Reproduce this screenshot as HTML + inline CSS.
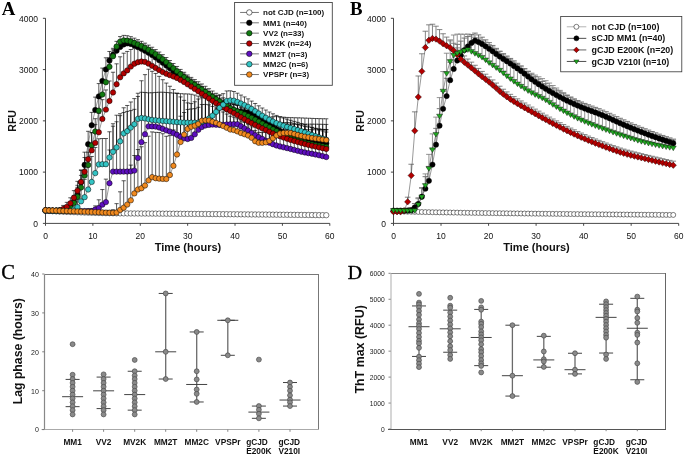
<!DOCTYPE html><html><head><meta charset="utf-8"><style>html,body{margin:0;padding:0;background:#fff;width:685px;height:456px;overflow:hidden;position:relative}</style></head><body>
<svg width="685" height="456" viewBox="0 0 685 456" style="position:absolute;left:0;top:0">
<rect width="685" height="456" fill="#fff"/>
<text x="1.8" y="15.3" font-family="'Liberation Serif', 'Times New Roman', serif" font-weight="bold" font-size="18.8">A</text>
<text x="350.1" y="15.3" font-family="'Liberation Serif', 'Times New Roman', serif" font-weight="bold" font-size="18.8">B</text>
<text x="1.2" y="279.0" font-family="'Liberation Serif', 'Times New Roman', serif" font-size="20.5" stroke="#000" stroke-width="0.35">C</text>
<text x="347.7" y="278.8" font-family="'Liberation Serif', 'Times New Roman', serif" font-size="19.8" stroke="#000" stroke-width="0.35">D</text>
<path d="M45.50 18.30V223.40H329.80" stroke="#333" stroke-width="0.9" fill="none"/>
<path d="M42.90 223.40H45.50M42.90 172.12H45.50M42.90 120.85H45.50M42.90 69.58H45.50M42.90 18.30H45.50M45.50 223.40V225.80M92.88 223.40V225.80M140.27 223.40V225.80M187.65 223.40V225.80M235.03 223.40V225.80M282.42 223.40V225.80M329.80 223.40V225.80" stroke="#333" stroke-width="0.9" fill="none"/>
<text x="37.90" y="226.70" text-anchor="end" font-family="'Liberation Sans', Arial, sans-serif" font-size="8.5" fill="#111">0</text>
<text x="37.90" y="175.43" text-anchor="end" font-family="'Liberation Sans', Arial, sans-serif" font-size="8.5" fill="#111">1000</text>
<text x="37.90" y="124.15" text-anchor="end" font-family="'Liberation Sans', Arial, sans-serif" font-size="8.5" fill="#111">2000</text>
<text x="37.90" y="72.88" text-anchor="end" font-family="'Liberation Sans', Arial, sans-serif" font-size="8.5" fill="#111">3000</text>
<text x="37.90" y="21.60" text-anchor="end" font-family="'Liberation Sans', Arial, sans-serif" font-size="8.5" fill="#111">4000</text>
<text x="45.50" y="238.6" text-anchor="middle" font-family="'Liberation Sans', Arial, sans-serif" font-size="8.5" fill="#111">0</text>
<text x="92.88" y="238.6" text-anchor="middle" font-family="'Liberation Sans', Arial, sans-serif" font-size="8.5" fill="#111">10</text>
<text x="140.27" y="238.6" text-anchor="middle" font-family="'Liberation Sans', Arial, sans-serif" font-size="8.5" fill="#111">20</text>
<text x="187.65" y="238.6" text-anchor="middle" font-family="'Liberation Sans', Arial, sans-serif" font-size="8.5" fill="#111">30</text>
<text x="235.03" y="238.6" text-anchor="middle" font-family="'Liberation Sans', Arial, sans-serif" font-size="8.5" fill="#111">40</text>
<text x="282.42" y="238.6" text-anchor="middle" font-family="'Liberation Sans', Arial, sans-serif" font-size="8.5" fill="#111">50</text>
<text x="329.80" y="238.6" text-anchor="middle" font-family="'Liberation Sans', Arial, sans-serif" font-size="8.5" fill="#111">60</text>
<text x="188.00" y="251.3" text-anchor="middle" font-family="'Liberation Sans', Arial, sans-serif" font-weight="bold" font-size="11" fill="#111">Time (hours)</text>
<text transform="translate(15.6,120.9) rotate(-90)" text-anchor="middle" font-family="'Liberation Sans', Arial, sans-serif" font-weight="bold" font-size="10.5" fill="#111">RFU</text>

<path d="M59.72 210.58V208.79M57.62 208.79H61.82M63.27 209.94V207.73M61.17 207.73H65.37M66.82 208.53V205.83M64.72 205.83H68.92M70.38 205.97V202.53M68.28 202.53H72.48M73.93 201.35V195.40M71.83 195.40H76.03M77.48 194.69V185.30M75.38 185.30H79.58M81.04 182.38V170.23M78.94 170.23H83.14M84.59 165.00V152.18M82.49 152.18H86.69M88.15 144.13V131.31M86.05 131.31H90.25M91.70 125.21V112.39M89.60 112.39H93.80M95.25 109.93V97.11M93.15 97.11H97.35M98.81 96.39V83.57M96.71 83.57H100.91M102.36 80.91V68.09M100.26 68.09H104.46M105.91 69.42V57.79M103.81 57.79H108.01M109.47 60.50V51.48M107.37 51.48H111.57M113.02 54.71V48.32M110.92 48.32H115.12M116.58 50.71V45.58M114.48 45.58H118.67M120.13 47.01V41.97M118.03 41.97H122.23M123.68 44.45V39.49M121.58 39.49H125.78M127.24 43.42V38.53M125.14 38.53H129.34M130.79 43.94V39.10M128.69 39.10H132.89M134.34 45.40V40.62M132.24 40.62H136.44M137.90 47.11V42.37M135.80 42.37H140.00M141.45 48.87V44.16M139.35 44.16H143.55M145.00 50.76V46.08M142.91 46.08H147.10M148.56 52.80V48.14M146.46 48.14H150.66M152.11 55.06V50.42M150.01 50.42H154.21M155.67 57.53V52.91M153.57 52.91H157.77M159.22 60.13V55.51M157.12 55.51H161.32M162.77 62.77V58.16M160.67 58.16H164.87M166.33 65.53V60.91M164.23 60.91H168.43M169.88 68.37V63.73M167.78 63.73H171.98M173.44 71.25V66.56M171.34 66.56H175.53M176.99 74.14V69.38M174.89 69.38H179.09M180.54 77.11V72.28M178.44 72.28H182.64M184.10 80.05V75.14M182.00 75.14H186.20M187.65 82.82V77.80M185.55 77.80H189.75M191.20 85.31V80.19M189.10 80.19H193.30M194.76 87.62V82.39M192.66 82.39H196.86M198.31 89.87V84.53M196.21 84.53H200.41M201.86 92.20V86.74M199.76 86.74H203.96M205.42 94.64V89.07M203.32 89.07H207.52M208.97 97.12V91.43M206.87 91.43H211.07M212.53 99.52V93.74M210.43 93.74H214.63M216.08 101.84V95.96M213.98 95.96H218.18M219.63 104.32V98.35M217.53 98.35H221.73M223.19 106.69V100.66M221.09 100.66H225.29M226.74 108.67V102.58M224.64 102.58H228.84M230.30 109.95V103.82M228.20 103.82H232.40M233.85 110.69V104.53M231.75 104.53H235.95M237.40 111.20V105.07M235.30 105.07H239.50M240.96 111.62V105.58M238.86 105.58H243.06M244.51 112.07V106.18M242.41 106.18H246.61M248.06 112.70V106.99M245.96 106.99H250.16M251.62 113.69V108.17M249.52 108.17H253.72M255.17 115.53V110.19M253.07 110.19H257.27M258.73 117.92V112.72M256.62 112.72H260.83M262.28 120.36V115.23M260.18 115.23H264.38M265.83 122.56V116.96M263.73 116.96H267.93M269.39 124.79V117.19M267.29 117.19H271.49M272.94 126.99V116.76M270.84 116.76H275.04M276.49 129.03V116.61M274.39 116.61H278.59M280.05 130.98V116.88M277.95 116.88H282.15M283.60 132.86V117.17M281.50 117.17H285.70M287.16 134.55V117.44M285.06 117.44H289.26M290.71 135.95V117.62M288.61 117.62H292.81M294.26 137.16V117.73M292.16 117.73H296.36M297.82 138.22V117.82M295.72 117.82H299.92M301.37 139.17V117.92M299.27 117.92H303.47M304.92 140.01V118.07M302.82 118.07H307.02M308.48 140.78V118.23M306.38 118.23H310.58M312.03 141.46V118.39M309.93 118.39H314.13M315.58 142.06V118.53M313.48 118.53H317.69M319.14 142.57V118.63M317.04 118.63H321.24M322.69 143.02V118.72M320.59 118.72H324.79M326.25 143.39V118.79M324.15 118.79H328.35" stroke="#000" stroke-width="0.65" fill="none"/>
<path d="M59.72 210.58V208.79M57.62 208.79H61.82M63.27 210.50V208.29M61.17 208.29H65.37M66.82 209.44V206.74M64.72 206.74H68.92M70.38 207.50V204.07M68.28 204.07H72.48M73.93 202.89V196.94M71.83 196.94H76.03M77.48 196.74V187.35M75.38 187.35H79.58M81.04 187.51V175.36M78.94 175.36H83.14M84.59 175.61V162.79M82.49 162.79H86.69M88.15 165.00V152.18M86.05 152.18H90.25M91.70 145.41V132.59M89.60 132.59H93.80M95.25 131.52V118.70M93.15 118.70H97.35M98.81 110.70V97.88M96.71 97.88H100.91M102.36 94.49V81.68M100.26 81.68H104.46M105.91 82.24V70.61M103.81 70.61H108.01M109.47 66.81V57.79M107.37 57.79H111.57M113.02 56.24V49.86M110.92 49.86H115.12M116.58 46.50V41.37M114.48 41.37H118.67M120.13 41.63V36.59M118.03 36.59H122.23M123.68 40.35V35.38M121.58 35.38H125.78M127.24 40.60V35.71M125.14 35.71H129.34M130.79 41.50V36.66M128.69 36.66H132.89M134.34 42.94V38.15M132.24 38.15H136.44M137.90 44.41V39.66M135.80 39.66H140.00M141.45 46.03V41.33M139.35 41.33H143.55M145.00 47.83V43.15M142.91 43.15H147.10M148.56 49.76V45.11M146.46 45.11H150.66M152.11 51.88V47.24M150.01 47.24H154.21M155.67 54.20V49.57M153.57 49.57H157.77M159.22 56.68V52.06M157.12 52.06H161.32M162.77 59.29V54.67M160.67 54.67H164.87M166.33 62.15V57.53M164.23 57.53H168.43M169.88 65.18V60.54M167.78 60.54H171.98M173.44 68.23V63.54M171.34 63.54H175.53M176.99 71.21V66.46M174.89 66.46H179.09M180.54 74.23V69.41M178.44 69.41H182.64M184.10 77.21V72.29M182.00 72.29H186.20M187.65 79.99V74.98M185.55 74.98H189.75M191.20 82.50V77.38M189.10 77.38H193.30M194.76 84.82V79.59M192.66 79.59H196.86M198.31 87.09V81.74M196.21 81.74H200.41M201.86 89.43V83.97M199.76 83.97H203.96M205.42 91.88V86.31M203.32 86.31H207.52M208.97 94.37V88.69M206.87 88.69H211.07M212.53 96.82V91.03M210.43 91.03H214.63M216.08 99.19V93.31M213.98 93.31H218.18M219.63 101.57V95.60M217.53 95.60H221.73M223.19 103.89V97.85M221.09 97.85H225.29M226.74 106.09V99.99M224.64 99.99H228.84M230.30 108.08V101.94M228.20 101.94H232.40M233.85 109.84V103.68M231.75 103.68H235.95M237.40 111.44V105.30M235.30 105.30H239.50M240.96 112.96V106.92M238.86 106.92H243.06M244.51 114.48V108.59M242.41 108.59H246.61M248.06 116.08V110.37M245.96 110.37H250.16M251.62 117.83V112.32M249.52 112.32H253.72M255.17 119.74V114.40M253.07 114.40H257.27M258.73 121.72V116.52M256.62 116.52H260.83M262.28 123.69V118.56M260.18 118.56H264.38M265.83 125.60V120.38M263.73 120.38H267.93M269.39 127.49V121.81M267.29 121.81H271.49M272.94 129.36V122.97M270.84 122.97H275.04M276.49 131.23V123.99M274.39 123.99H278.59M280.05 133.19V124.52M277.95 124.52H282.15M283.60 135.18V124.48M281.50 124.48H285.70M287.16 137.01V124.25M285.06 124.25H289.26M290.71 138.48V124.19M288.61 124.19H292.81M294.26 139.70V124.19M292.16 124.19H296.36M297.82 140.77V124.19M295.72 124.19H299.92M301.37 141.75V124.18M299.27 124.18H303.47M304.92 142.68V124.18M302.82 124.18H307.02M308.48 143.56V124.16M306.38 124.16H310.58M312.03 144.37V124.15M309.93 124.15H314.13M315.58 145.11V124.18M313.48 124.18H317.69M319.14 145.79V124.24M317.04 124.24H321.24M322.69 146.41V124.32M320.59 124.32H324.79M326.25 146.97V124.43M324.15 124.43H328.35" stroke="#000" stroke-width="0.65" fill="none"/>
<path d="M56.16 210.58V208.50M54.06 208.50H58.26M59.72 210.58V207.79M57.62 207.79H61.82M63.27 209.04V205.43M61.17 205.43H65.37M66.82 206.84V202.33M64.72 202.33H68.92M70.38 203.30V197.81M68.28 197.81H72.48M73.93 197.76V190.63M71.83 190.63H76.03M77.48 190.69V181.33M75.38 181.33H79.58M81.04 181.92V170.07M78.94 170.07H83.14M84.59 171.82V157.54M82.49 157.54H86.69M88.15 159.20V142.87M86.05 142.87H90.25M91.70 150.38V132.69M89.60 132.69H93.80M95.25 142.90V124.59M93.15 124.59H97.35M98.81 132.28V113.46M96.71 113.46H100.91M102.36 118.90V99.63M100.26 99.63H104.46M105.91 109.62V89.95M103.81 89.95H108.01M109.47 101.01V81.01M107.37 81.01H111.57M113.02 92.49V72.24M110.92 72.24H115.12M116.58 84.24V63.82M114.48 63.82H118.67M120.13 77.32V56.81M118.03 56.81H122.23M123.68 73.42V53.19M121.58 53.19H125.78M127.24 70.40V51.43M125.14 51.43H129.34M130.79 66.60V49.50M128.69 49.50H132.89M134.34 63.73V48.61M132.24 48.61H136.44M137.90 62.24V48.76M135.80 48.76H140.00M141.45 61.52V48.92M139.35 48.92H143.55M145.00 61.88V49.89M142.91 49.89H147.10M148.56 63.63V52.20M146.46 52.20H150.66M152.11 65.83V54.89M150.01 54.89H154.21M155.67 67.98V57.50M153.57 57.50H157.77M159.22 70.13V60.06M157.12 60.06H161.32M162.77 72.11V62.42M160.67 62.42H164.87M166.33 73.76V64.40M164.23 64.40H168.43M169.88 75.14V66.10M167.78 66.10H171.98M173.44 76.49V67.74M171.34 67.74H175.53M176.99 78.02V69.55M174.89 69.55H179.09M180.54 79.91V71.70M178.44 71.70H182.64M184.10 82.05V74.11M182.00 74.11H186.20M187.65 84.32V76.63M185.55 76.63H189.75M191.20 86.58V79.14M189.10 79.14H193.30M194.76 88.90V81.69M192.66 81.69H196.86M198.31 91.27V84.29M196.21 84.29H200.41M201.86 93.65V86.89M199.76 86.89H203.96M205.42 96.03V89.47M203.32 89.47H207.52M208.97 98.45V92.09M206.87 92.09H211.07M212.53 100.85V94.67M210.43 94.67H214.63M216.08 103.13V97.13M213.98 97.13H218.18M219.63 105.24V99.42M217.53 99.42H221.73M223.19 107.24V101.59M221.09 101.59H225.29M226.74 109.18V103.70M224.64 103.70H228.84M230.30 111.11V105.78M228.20 105.78H232.40M233.85 113.08V107.90M231.75 107.90H235.95M237.40 115.11V110.09M235.30 110.09H239.50M240.96 117.19V112.33M238.86 112.33H243.06M244.51 119.25V114.56M242.41 114.56H246.61M248.06 121.24V116.73M245.96 116.73H250.16M251.62 123.13V118.76M249.52 118.76H253.72M255.17 124.91V120.67M253.07 120.67H257.27M258.73 126.63V122.48M256.62 122.48H260.83M262.28 128.33V124.23M260.18 124.23H264.38M265.83 130.05V125.88M263.73 125.88H267.93M269.39 131.80V127.27M267.29 127.27H271.49M272.94 133.48V128.42M270.84 128.42H275.04M276.49 134.99V129.31M274.39 129.31H278.59M280.05 136.34V129.68M277.95 129.68H282.15M283.60 137.58V129.56M281.50 129.56H285.70M287.16 138.75V129.31M285.06 129.31H289.26M290.71 139.89V129.28M288.61 129.28H292.81M294.26 140.98V129.36M292.16 129.36H296.36M297.82 142.03V129.45M295.72 129.45H299.92M301.37 143.03V129.54M299.27 129.54H303.47M304.92 143.97V129.61M302.82 129.61H307.02M308.48 144.88V129.69M306.38 129.69H310.58M312.03 145.74V129.75M309.93 129.75H314.13M315.58 146.58V129.77M313.48 129.77H317.69M319.14 147.40V129.74M317.04 129.74H321.24M322.69 148.19V129.65M320.59 129.65H324.79M326.25 148.95V129.53M324.15 129.53H328.35" stroke="#000" stroke-width="0.65" fill="none"/>
<path d="M77.48 211.08V209.44M75.38 209.44H79.58M81.04 211.09V209.28M78.94 209.28H83.14M84.59 211.09V209.09M82.49 209.09H86.69M88.15 211.09V208.87M86.05 208.87H90.25M91.70 211.09V208.62M89.60 208.62H93.80M95.25 209.56V205.88M93.15 205.88H97.35M98.81 208.02V199.81M96.71 199.81H100.91M102.36 204.63V189.56M100.26 189.56H104.46M105.91 202.12V179.13M103.81 179.13H108.01M109.47 183.20V150.01M107.37 150.01H111.57M113.02 171.61V123.74M110.92 123.74H115.12M116.58 171.61V115.21M114.48 115.21H118.67M120.13 171.61V113.71M118.03 113.71H122.23M123.68 171.60V112.47M121.58 112.47H125.78M127.24 171.51V111.43M125.14 111.43H129.34M130.79 171.36V110.58M128.69 110.58H132.89M134.34 170.59V109.34M132.24 109.34H136.44M137.90 157.92V96.44M135.80 96.44H140.00M141.45 142.13V80.75M139.35 80.75H143.55M145.00 134.23V74.63M142.91 74.63H147.10M148.56 126.34V69.22M146.46 69.22H150.66M152.11 126.40V71.29M150.01 71.29H154.21M155.67 126.60V73.44M153.57 73.44H157.77M159.22 127.52V76.33M157.12 76.33H161.32M162.77 128.92V79.70M160.67 79.70H164.87M166.33 130.34V83.07M164.23 83.07H168.43M169.88 131.60V86.26M167.78 86.26H171.98M173.44 132.99V89.54M171.34 89.54H175.53M176.99 134.77V93.16M174.89 93.16H179.09M180.54 136.75V96.92M178.44 96.92H182.64M184.10 138.35V100.36M182.00 100.36H186.20M187.65 139.03V102.88M185.55 102.88H189.75M191.20 137.91V103.59M189.10 103.59H193.30M194.76 134.31V101.78M192.66 101.78H196.86M198.31 129.85V99.02M196.21 99.02H200.41M201.86 127.00V97.79M199.76 97.79H203.96M205.42 125.47V97.74M203.32 97.74H207.52M208.97 124.89V98.48M206.87 98.48H211.07M212.53 124.61V99.34M210.43 99.34H214.63M216.08 124.69V100.49M213.98 100.49H218.18M219.63 124.93V101.77M217.53 101.77H221.73M223.19 124.85V102.68M221.09 102.68H225.29M226.74 124.52V103.28M224.64 103.28H228.84M230.30 124.29V103.90M228.20 103.90H232.40M233.85 124.09V104.47M231.75 104.47H235.95M237.40 124.18V105.23M235.30 105.23H239.50M240.96 126.26V107.87M238.86 107.87H243.06M244.51 128.33V110.39M242.41 110.39H246.61M248.06 130.48V112.91M245.96 112.91H250.16M251.62 132.97V115.76M249.52 115.76H253.72M255.17 135.26V118.39M253.07 118.39H257.27M258.73 137.14V120.59M256.62 120.59H260.83M262.28 138.90V122.65M260.18 122.65H264.38M265.83 140.81V124.82M263.73 124.82H267.93M269.39 142.69V126.92M267.29 126.92H271.49M272.94 144.22V128.63M270.84 128.63H275.04M276.49 145.48V130.02M274.39 130.02H278.59M280.05 146.47V131.08M277.95 131.08H282.15M283.60 147.32V131.94M281.50 131.94H285.70M287.16 148.13V132.74M285.06 132.74H289.26M290.71 148.99V133.61M288.61 133.61H292.81M294.26 149.91V134.53M292.16 134.53H296.36M297.82 150.84V135.45M295.72 135.45H299.92M301.37 151.70V136.32M299.27 136.32H303.47M304.92 152.47V137.09M302.82 137.09H307.02M308.48 153.14V137.76M306.38 137.76H310.58M312.03 153.79V138.41M309.93 138.41H314.13M315.58 154.49V139.11M313.48 139.11H317.69M319.14 155.28V139.90M317.04 139.90H321.24M322.69 156.13V140.75M320.59 140.75H324.79M326.25 157.04V141.66M324.15 141.66H328.35" stroke="#000" stroke-width="0.65" fill="none"/>
<path d="M56.16 211.00V209.35M54.06 209.35H58.26M59.72 211.05V208.93M57.62 208.93H61.82M63.27 211.08V208.37M61.17 208.37H65.37M66.82 211.09V207.68M64.72 207.68H68.92M70.38 211.09V206.87M68.28 206.87H72.48M73.93 209.56V204.43M71.83 204.43H76.03M77.48 207.09V199.44M75.38 199.44H79.58M81.04 201.35V188.99M78.94 188.99H83.14M84.59 197.20V179.36M82.49 179.36H86.69M88.15 189.51V166.84M86.05 166.84H90.25M91.70 181.92V156.49M89.60 156.49H93.80M95.25 173.10V147.46M93.15 147.46H97.35M98.81 164.43V138.80M96.71 138.80H100.91M102.36 164.18V138.54M100.26 138.54H104.46M105.91 164.18V138.54M103.81 138.54H108.01M109.47 157.41V131.77M107.37 131.77H111.57M113.02 151.82V126.18M110.92 126.18H115.12M116.58 147.41V121.77M114.48 121.77H118.67M120.13 141.31V115.67M118.03 115.67H122.23M123.68 133.41V107.77M121.58 107.77H125.78M127.24 131.11V105.47M125.14 105.47H129.34M130.79 127.62V101.98M128.69 101.98H132.89M134.34 124.23V98.60M132.24 98.60H136.44M137.90 118.90V93.26M135.80 93.26H140.00M141.45 117.93V92.27M139.35 92.27H143.55M145.00 118.41V92.45M142.91 92.45H147.10M148.56 119.32V92.81M146.46 92.81H150.66M152.11 119.90V92.72M150.01 92.72H154.21M155.67 120.29V92.44M153.57 92.44H157.77M159.22 120.62V92.22M157.12 92.22H161.32M162.77 120.91V92.22M160.67 92.22H164.87M166.33 121.18V92.47M164.23 92.47H168.43M169.88 121.46V92.74M167.78 92.74H171.98M173.44 121.77V93.06M171.34 93.06H175.53M176.99 122.09V93.37M174.89 93.37H179.09M180.54 122.37V93.65M178.44 93.65H182.64M184.10 122.57V93.85M182.00 93.85H186.20M187.65 122.64V93.93M185.55 93.93H189.75M191.20 122.64V94.23M189.10 94.23H193.30M194.76 122.64V95.03M192.66 95.03H196.86M198.31 122.58V96.13M196.21 96.13H200.41M201.86 121.84V96.79M199.76 96.79H203.96M205.42 120.64V97.08M203.32 97.08H207.52M208.97 118.50V96.68M206.87 96.68H211.07M212.53 115.66V96.52M210.43 96.52H214.63M216.08 111.88V95.84M213.98 95.84H218.18M219.63 107.84V94.72M217.53 94.72H221.73M223.19 104.63V93.66M221.09 93.66H225.29M226.74 101.03V90.95M224.64 90.95H228.84M230.30 100.39V90.80M228.20 90.80H232.40M233.85 100.67V91.51M231.75 91.51H235.95M237.40 101.97V93.20M235.30 93.20H239.50M240.96 103.52V95.07M238.86 95.07H243.06M244.51 105.09V96.91M242.41 96.91H246.61M248.06 106.83V98.86M245.96 98.86H250.16M251.62 108.90V101.08M249.52 101.08H253.72M255.17 111.19V103.47M253.07 103.47H257.27M258.73 113.49V105.80M256.62 105.80H260.83M262.28 115.70V108.01M260.18 108.01H264.38M265.83 117.73V110.04M263.73 110.04H267.93M269.39 119.69V112.00M267.29 112.00H271.49M272.94 121.51V113.81M270.84 113.81H275.04M276.49 123.10V115.41M274.39 115.41H278.59M280.05 124.47V116.78M277.95 116.78H282.15M283.60 125.70V118.01M281.50 118.01H285.70M287.16 126.86V119.17M285.06 119.17H289.26M290.71 127.99V120.30M288.61 120.30H292.81M294.26 129.05V121.36M292.16 121.36H296.36M297.82 130.08V122.39M295.72 122.39H299.92M301.37 131.16V123.47M299.27 123.47H303.47M304.92 132.36V124.67M302.82 124.67H307.02M308.48 133.70V126.01M306.38 126.01H310.58M312.03 135.04V127.35M309.93 127.35H314.13M315.58 136.28V128.59M313.48 128.59H317.69M319.14 137.48V129.79M317.04 129.79H321.24M322.69 138.64V130.94M320.59 130.94H324.79M326.25 139.75V132.06M324.15 132.06H328.35" stroke="#000" stroke-width="0.65" fill="none"/>
<path d="M88.15 211.82V210.27M86.05 210.27H90.25M91.70 211.96V210.30M89.60 210.30H93.80M95.25 212.10V210.32M93.15 210.32H97.35M98.81 212.26V210.34M96.71 210.34H100.91M102.36 212.46V210.38M100.26 210.38H104.46M105.91 212.64V210.40M103.81 210.40H108.01M109.47 212.78V210.35M107.37 210.35H111.57M113.02 212.84V209.76M110.92 209.76H115.12M116.58 212.53V203.65M114.48 203.65H118.67M120.13 209.91V191.81M118.03 191.81H122.23M123.68 207.71V180.76M121.58 180.76H125.78M127.24 204.58V172.60M125.14 172.60H129.34M130.79 200.33V165.10M128.69 165.10H132.89M134.34 193.40V155.53M132.24 155.53H136.44M137.90 189.51V149.56M135.80 149.56H140.00M141.45 188.23V146.73M139.35 146.73H143.55M145.00 185.51V142.61M142.91 142.61H147.10M148.56 180.33V136.17M146.46 136.17H150.66M152.11 177.10V131.90M150.01 131.90H154.21M155.67 178.23V132.33M153.57 132.33H157.77M159.22 178.63V132.49M157.12 132.49H161.32M162.77 178.90V133.72M160.67 133.72H164.87M166.33 179.00V136.27M164.23 136.27H168.43M169.88 175.00V135.58M167.78 135.58H171.98M173.44 165.82V129.93M171.34 129.93H175.53M176.99 154.49V123.29M174.89 123.29H179.09M180.54 141.98V116.23M178.44 116.23H182.64M184.10 134.61V112.50M182.00 112.50H186.20M187.65 128.95V109.44M185.55 109.44H189.75M191.20 126.73V108.98M189.10 108.98H193.30M194.76 125.64V108.63M192.66 108.63H196.86M198.31 123.84V107.30M196.21 107.30H200.41M201.86 120.73V104.54M199.76 104.54H203.96M205.42 120.34V104.43M203.32 104.43H207.52M208.97 120.47V104.85M206.87 104.85H211.07M212.53 121.73V106.48M210.43 106.48H214.63M216.08 122.87V108.00M213.98 108.00H218.18M219.63 124.35V109.88M217.53 109.88H221.73M223.19 126.05V111.97M221.09 111.97H225.29M226.74 127.74V114.06M224.64 114.06H228.84M230.30 129.52V116.22M228.20 116.22H232.40M233.85 130.08V117.15M231.75 117.15H235.95M237.40 131.41V118.84M235.30 118.84H239.50M240.96 133.09V120.93M238.86 120.93H243.06M244.51 134.23V122.49M242.41 122.49H246.61M248.06 135.52V124.20M245.96 124.20H250.16M251.62 137.82V126.89M249.52 126.89H253.72M255.17 141.22V130.61M253.07 130.61H257.27M258.73 142.79V132.41M256.62 132.41H260.83M262.28 142.85V132.58M260.18 132.58H264.38M265.83 142.35V132.10M263.73 132.10H267.93M269.39 140.90V130.65M267.29 130.65H271.49M272.94 138.21V127.96M270.84 127.96H275.04M276.49 135.39V125.13M274.39 125.13H278.59M280.05 133.56V123.31M277.95 123.31H282.15M283.60 132.90V122.64M281.50 122.64H285.70M287.16 132.90V122.64M285.06 122.64H289.26M290.71 132.99V122.74M288.61 122.74H292.81M294.26 133.93V123.68M292.16 123.68H296.36M297.82 134.93V124.67M295.72 124.67H299.92M301.37 135.89V125.64M299.27 125.64H303.47M304.92 136.68V126.43M302.82 126.43H307.02M308.48 137.35V127.09M306.38 127.09H310.58M312.03 137.96V127.70M309.93 127.70H314.13M315.58 138.52V128.26M313.48 128.26H317.69M319.14 139.06V128.81M317.04 128.81H321.24M322.69 139.59V129.34M320.59 129.34H324.79M326.25 140.10V129.84M324.15 129.84H328.35" stroke="#000" stroke-width="0.65" fill="none"/>
<polyline points="45.50,210.84 49.05,211.02 52.61,211.19 56.16,211.36 59.72,211.53 63.27,211.69 66.82,211.85 70.38,212.00 73.93,212.14 77.48,212.28 81.04,212.41 84.59,212.54 88.15,212.66 91.70,212.77 95.25,212.87 98.81,212.96 102.36,213.05 105.91,213.13 109.47,213.19 113.02,213.25 116.58,213.30 120.13,213.34 123.68,213.37 127.24,213.41 130.79,213.44 134.34,213.46 137.90,213.49 141.45,213.51 145.00,213.53 148.56,213.55 152.11,213.57 155.67,213.60 159.22,213.62 162.77,213.65 166.33,213.68 169.88,213.71 173.44,213.73 176.99,213.76 180.54,213.79 184.10,213.82 187.65,213.85 191.20,213.88 194.76,213.91 198.31,213.94 201.86,213.97 205.42,214.01 208.97,214.04 212.53,214.07 216.08,214.10 219.63,214.13 223.19,214.16 226.74,214.20 230.30,214.23 233.85,214.26 237.40,214.30 240.96,214.33 244.51,214.36 248.06,214.40 251.62,214.43 255.17,214.46 258.73,214.50 262.28,214.53 265.83,214.57 269.39,214.60 272.94,214.64 276.49,214.67 280.05,214.71 283.60,214.74 287.16,214.78 290.71,214.82 294.26,214.85 297.82,214.89 301.37,214.93 304.92,214.97 308.48,215.00 312.03,215.04 315.58,215.08 319.14,215.12 322.69,215.15 326.25,215.19" stroke="#333" stroke-width="0.5" fill="none"/>
<circle cx="45.50" cy="210.84" r="2.7" fill="#ffffff" stroke="#000" stroke-width="0.5"/>
<circle cx="49.05" cy="211.02" r="2.7" fill="#ffffff" stroke="#000" stroke-width="0.5"/>
<circle cx="52.61" cy="211.19" r="2.7" fill="#ffffff" stroke="#000" stroke-width="0.5"/>
<circle cx="56.16" cy="211.36" r="2.7" fill="#ffffff" stroke="#000" stroke-width="0.5"/>
<circle cx="59.72" cy="211.53" r="2.7" fill="#ffffff" stroke="#000" stroke-width="0.5"/>
<circle cx="63.27" cy="211.69" r="2.7" fill="#ffffff" stroke="#000" stroke-width="0.5"/>
<circle cx="66.82" cy="211.85" r="2.7" fill="#ffffff" stroke="#000" stroke-width="0.5"/>
<circle cx="70.38" cy="212.00" r="2.7" fill="#ffffff" stroke="#000" stroke-width="0.5"/>
<circle cx="73.93" cy="212.14" r="2.7" fill="#ffffff" stroke="#000" stroke-width="0.5"/>
<circle cx="77.48" cy="212.28" r="2.7" fill="#ffffff" stroke="#000" stroke-width="0.5"/>
<circle cx="81.04" cy="212.41" r="2.7" fill="#ffffff" stroke="#000" stroke-width="0.5"/>
<circle cx="84.59" cy="212.54" r="2.7" fill="#ffffff" stroke="#000" stroke-width="0.5"/>
<circle cx="88.15" cy="212.66" r="2.7" fill="#ffffff" stroke="#000" stroke-width="0.5"/>
<circle cx="91.70" cy="212.77" r="2.7" fill="#ffffff" stroke="#000" stroke-width="0.5"/>
<circle cx="95.25" cy="212.87" r="2.7" fill="#ffffff" stroke="#000" stroke-width="0.5"/>
<circle cx="98.81" cy="212.96" r="2.7" fill="#ffffff" stroke="#000" stroke-width="0.5"/>
<circle cx="102.36" cy="213.05" r="2.7" fill="#ffffff" stroke="#000" stroke-width="0.5"/>
<circle cx="105.91" cy="213.13" r="2.7" fill="#ffffff" stroke="#000" stroke-width="0.5"/>
<circle cx="109.47" cy="213.19" r="2.7" fill="#ffffff" stroke="#000" stroke-width="0.5"/>
<circle cx="113.02" cy="213.25" r="2.7" fill="#ffffff" stroke="#000" stroke-width="0.5"/>
<circle cx="116.58" cy="213.30" r="2.7" fill="#ffffff" stroke="#000" stroke-width="0.5"/>
<circle cx="120.13" cy="213.34" r="2.7" fill="#ffffff" stroke="#000" stroke-width="0.5"/>
<circle cx="123.68" cy="213.37" r="2.7" fill="#ffffff" stroke="#000" stroke-width="0.5"/>
<circle cx="127.24" cy="213.41" r="2.7" fill="#ffffff" stroke="#000" stroke-width="0.5"/>
<circle cx="130.79" cy="213.44" r="2.7" fill="#ffffff" stroke="#000" stroke-width="0.5"/>
<circle cx="134.34" cy="213.46" r="2.7" fill="#ffffff" stroke="#000" stroke-width="0.5"/>
<circle cx="137.90" cy="213.49" r="2.7" fill="#ffffff" stroke="#000" stroke-width="0.5"/>
<circle cx="141.45" cy="213.51" r="2.7" fill="#ffffff" stroke="#000" stroke-width="0.5"/>
<circle cx="145.00" cy="213.53" r="2.7" fill="#ffffff" stroke="#000" stroke-width="0.5"/>
<circle cx="148.56" cy="213.55" r="2.7" fill="#ffffff" stroke="#000" stroke-width="0.5"/>
<circle cx="152.11" cy="213.57" r="2.7" fill="#ffffff" stroke="#000" stroke-width="0.5"/>
<circle cx="155.67" cy="213.60" r="2.7" fill="#ffffff" stroke="#000" stroke-width="0.5"/>
<circle cx="159.22" cy="213.62" r="2.7" fill="#ffffff" stroke="#000" stroke-width="0.5"/>
<circle cx="162.77" cy="213.65" r="2.7" fill="#ffffff" stroke="#000" stroke-width="0.5"/>
<circle cx="166.33" cy="213.68" r="2.7" fill="#ffffff" stroke="#000" stroke-width="0.5"/>
<circle cx="169.88" cy="213.71" r="2.7" fill="#ffffff" stroke="#000" stroke-width="0.5"/>
<circle cx="173.44" cy="213.73" r="2.7" fill="#ffffff" stroke="#000" stroke-width="0.5"/>
<circle cx="176.99" cy="213.76" r="2.7" fill="#ffffff" stroke="#000" stroke-width="0.5"/>
<circle cx="180.54" cy="213.79" r="2.7" fill="#ffffff" stroke="#000" stroke-width="0.5"/>
<circle cx="184.10" cy="213.82" r="2.7" fill="#ffffff" stroke="#000" stroke-width="0.5"/>
<circle cx="187.65" cy="213.85" r="2.7" fill="#ffffff" stroke="#000" stroke-width="0.5"/>
<circle cx="191.20" cy="213.88" r="2.7" fill="#ffffff" stroke="#000" stroke-width="0.5"/>
<circle cx="194.76" cy="213.91" r="2.7" fill="#ffffff" stroke="#000" stroke-width="0.5"/>
<circle cx="198.31" cy="213.94" r="2.7" fill="#ffffff" stroke="#000" stroke-width="0.5"/>
<circle cx="201.86" cy="213.97" r="2.7" fill="#ffffff" stroke="#000" stroke-width="0.5"/>
<circle cx="205.42" cy="214.01" r="2.7" fill="#ffffff" stroke="#000" stroke-width="0.5"/>
<circle cx="208.97" cy="214.04" r="2.7" fill="#ffffff" stroke="#000" stroke-width="0.5"/>
<circle cx="212.53" cy="214.07" r="2.7" fill="#ffffff" stroke="#000" stroke-width="0.5"/>
<circle cx="216.08" cy="214.10" r="2.7" fill="#ffffff" stroke="#000" stroke-width="0.5"/>
<circle cx="219.63" cy="214.13" r="2.7" fill="#ffffff" stroke="#000" stroke-width="0.5"/>
<circle cx="223.19" cy="214.16" r="2.7" fill="#ffffff" stroke="#000" stroke-width="0.5"/>
<circle cx="226.74" cy="214.20" r="2.7" fill="#ffffff" stroke="#000" stroke-width="0.5"/>
<circle cx="230.30" cy="214.23" r="2.7" fill="#ffffff" stroke="#000" stroke-width="0.5"/>
<circle cx="233.85" cy="214.26" r="2.7" fill="#ffffff" stroke="#000" stroke-width="0.5"/>
<circle cx="237.40" cy="214.30" r="2.7" fill="#ffffff" stroke="#000" stroke-width="0.5"/>
<circle cx="240.96" cy="214.33" r="2.7" fill="#ffffff" stroke="#000" stroke-width="0.5"/>
<circle cx="244.51" cy="214.36" r="2.7" fill="#ffffff" stroke="#000" stroke-width="0.5"/>
<circle cx="248.06" cy="214.40" r="2.7" fill="#ffffff" stroke="#000" stroke-width="0.5"/>
<circle cx="251.62" cy="214.43" r="2.7" fill="#ffffff" stroke="#000" stroke-width="0.5"/>
<circle cx="255.17" cy="214.46" r="2.7" fill="#ffffff" stroke="#000" stroke-width="0.5"/>
<circle cx="258.73" cy="214.50" r="2.7" fill="#ffffff" stroke="#000" stroke-width="0.5"/>
<circle cx="262.28" cy="214.53" r="2.7" fill="#ffffff" stroke="#000" stroke-width="0.5"/>
<circle cx="265.83" cy="214.57" r="2.7" fill="#ffffff" stroke="#000" stroke-width="0.5"/>
<circle cx="269.39" cy="214.60" r="2.7" fill="#ffffff" stroke="#000" stroke-width="0.5"/>
<circle cx="272.94" cy="214.64" r="2.7" fill="#ffffff" stroke="#000" stroke-width="0.5"/>
<circle cx="276.49" cy="214.67" r="2.7" fill="#ffffff" stroke="#000" stroke-width="0.5"/>
<circle cx="280.05" cy="214.71" r="2.7" fill="#ffffff" stroke="#000" stroke-width="0.5"/>
<circle cx="283.60" cy="214.74" r="2.7" fill="#ffffff" stroke="#000" stroke-width="0.5"/>
<circle cx="287.16" cy="214.78" r="2.7" fill="#ffffff" stroke="#000" stroke-width="0.5"/>
<circle cx="290.71" cy="214.82" r="2.7" fill="#ffffff" stroke="#000" stroke-width="0.5"/>
<circle cx="294.26" cy="214.85" r="2.7" fill="#ffffff" stroke="#000" stroke-width="0.5"/>
<circle cx="297.82" cy="214.89" r="2.7" fill="#ffffff" stroke="#000" stroke-width="0.5"/>
<circle cx="301.37" cy="214.93" r="2.7" fill="#ffffff" stroke="#000" stroke-width="0.5"/>
<circle cx="304.92" cy="214.97" r="2.7" fill="#ffffff" stroke="#000" stroke-width="0.5"/>
<circle cx="308.48" cy="215.00" r="2.7" fill="#ffffff" stroke="#000" stroke-width="0.5"/>
<circle cx="312.03" cy="215.04" r="2.7" fill="#ffffff" stroke="#000" stroke-width="0.5"/>
<circle cx="315.58" cy="215.08" r="2.7" fill="#ffffff" stroke="#000" stroke-width="0.5"/>
<circle cx="319.14" cy="215.12" r="2.7" fill="#ffffff" stroke="#000" stroke-width="0.5"/>
<circle cx="322.69" cy="215.15" r="2.7" fill="#ffffff" stroke="#000" stroke-width="0.5"/>
<circle cx="326.25" cy="215.19" r="2.7" fill="#ffffff" stroke="#000" stroke-width="0.5"/>
<polyline points="45.50,210.32 49.05,210.47 52.61,210.55 56.16,210.58 59.72,210.58 63.27,209.94 66.82,208.53 70.38,205.97 73.93,201.35 77.48,194.69 81.04,182.38 84.59,165.00 88.15,144.13 91.70,125.21 95.25,109.93 98.81,96.39 102.36,80.91 105.91,69.42 109.47,60.50 113.02,54.71 116.58,50.71 120.13,47.01 123.68,44.45 127.24,43.42 130.79,43.94 134.34,45.40 137.90,47.11 141.45,48.87 145.00,50.76 148.56,52.80 152.11,55.06 155.67,57.53 159.22,60.13 162.77,62.77 166.33,65.53 169.88,68.37 173.44,71.25 176.99,74.14 180.54,77.11 184.10,80.05 187.65,82.82 191.20,85.31 194.76,87.62 198.31,89.87 201.86,92.20 205.42,94.64 208.97,97.12 212.53,99.52 216.08,101.84 219.63,104.32 223.19,106.69 226.74,108.67 230.30,109.95 233.85,110.69 237.40,111.20 240.96,111.62 244.51,112.07 248.06,112.70 251.62,113.69 255.17,115.53 258.73,117.92 262.28,120.36 265.83,122.56 269.39,124.79 272.94,126.99 276.49,129.03 280.05,130.98 283.60,132.86 287.16,134.55 290.71,135.95 294.26,137.16 297.82,138.22 301.37,139.17 304.92,140.01 308.48,140.78 312.03,141.46 315.58,142.06 319.14,142.57 322.69,143.02 326.25,143.39" stroke="#333" stroke-width="0.5" fill="none"/>
<circle cx="45.50" cy="210.32" r="2.7" fill="#000000" stroke="#000" stroke-width="0.5"/>
<circle cx="49.05" cy="210.47" r="2.7" fill="#000000" stroke="#000" stroke-width="0.5"/>
<circle cx="52.61" cy="210.55" r="2.7" fill="#000000" stroke="#000" stroke-width="0.5"/>
<circle cx="56.16" cy="210.58" r="2.7" fill="#000000" stroke="#000" stroke-width="0.5"/>
<circle cx="59.72" cy="210.58" r="2.7" fill="#000000" stroke="#000" stroke-width="0.5"/>
<circle cx="63.27" cy="209.94" r="2.7" fill="#000000" stroke="#000" stroke-width="0.5"/>
<circle cx="66.82" cy="208.53" r="2.7" fill="#000000" stroke="#000" stroke-width="0.5"/>
<circle cx="70.38" cy="205.97" r="2.7" fill="#000000" stroke="#000" stroke-width="0.5"/>
<circle cx="73.93" cy="201.35" r="2.7" fill="#000000" stroke="#000" stroke-width="0.5"/>
<circle cx="77.48" cy="194.69" r="2.7" fill="#000000" stroke="#000" stroke-width="0.5"/>
<circle cx="81.04" cy="182.38" r="2.7" fill="#000000" stroke="#000" stroke-width="0.5"/>
<circle cx="84.59" cy="165.00" r="2.7" fill="#000000" stroke="#000" stroke-width="0.5"/>
<circle cx="88.15" cy="144.13" r="2.7" fill="#000000" stroke="#000" stroke-width="0.5"/>
<circle cx="91.70" cy="125.21" r="2.7" fill="#000000" stroke="#000" stroke-width="0.5"/>
<circle cx="95.25" cy="109.93" r="2.7" fill="#000000" stroke="#000" stroke-width="0.5"/>
<circle cx="98.81" cy="96.39" r="2.7" fill="#000000" stroke="#000" stroke-width="0.5"/>
<circle cx="102.36" cy="80.91" r="2.7" fill="#000000" stroke="#000" stroke-width="0.5"/>
<circle cx="105.91" cy="69.42" r="2.7" fill="#000000" stroke="#000" stroke-width="0.5"/>
<circle cx="109.47" cy="60.50" r="2.7" fill="#000000" stroke="#000" stroke-width="0.5"/>
<circle cx="113.02" cy="54.71" r="2.7" fill="#000000" stroke="#000" stroke-width="0.5"/>
<circle cx="116.58" cy="50.71" r="2.7" fill="#000000" stroke="#000" stroke-width="0.5"/>
<circle cx="120.13" cy="47.01" r="2.7" fill="#000000" stroke="#000" stroke-width="0.5"/>
<circle cx="123.68" cy="44.45" r="2.7" fill="#000000" stroke="#000" stroke-width="0.5"/>
<circle cx="127.24" cy="43.42" r="2.7" fill="#000000" stroke="#000" stroke-width="0.5"/>
<circle cx="130.79" cy="43.94" r="2.7" fill="#000000" stroke="#000" stroke-width="0.5"/>
<circle cx="134.34" cy="45.40" r="2.7" fill="#000000" stroke="#000" stroke-width="0.5"/>
<circle cx="137.90" cy="47.11" r="2.7" fill="#000000" stroke="#000" stroke-width="0.5"/>
<circle cx="141.45" cy="48.87" r="2.7" fill="#000000" stroke="#000" stroke-width="0.5"/>
<circle cx="145.00" cy="50.76" r="2.7" fill="#000000" stroke="#000" stroke-width="0.5"/>
<circle cx="148.56" cy="52.80" r="2.7" fill="#000000" stroke="#000" stroke-width="0.5"/>
<circle cx="152.11" cy="55.06" r="2.7" fill="#000000" stroke="#000" stroke-width="0.5"/>
<circle cx="155.67" cy="57.53" r="2.7" fill="#000000" stroke="#000" stroke-width="0.5"/>
<circle cx="159.22" cy="60.13" r="2.7" fill="#000000" stroke="#000" stroke-width="0.5"/>
<circle cx="162.77" cy="62.77" r="2.7" fill="#000000" stroke="#000" stroke-width="0.5"/>
<circle cx="166.33" cy="65.53" r="2.7" fill="#000000" stroke="#000" stroke-width="0.5"/>
<circle cx="169.88" cy="68.37" r="2.7" fill="#000000" stroke="#000" stroke-width="0.5"/>
<circle cx="173.44" cy="71.25" r="2.7" fill="#000000" stroke="#000" stroke-width="0.5"/>
<circle cx="176.99" cy="74.14" r="2.7" fill="#000000" stroke="#000" stroke-width="0.5"/>
<circle cx="180.54" cy="77.11" r="2.7" fill="#000000" stroke="#000" stroke-width="0.5"/>
<circle cx="184.10" cy="80.05" r="2.7" fill="#000000" stroke="#000" stroke-width="0.5"/>
<circle cx="187.65" cy="82.82" r="2.7" fill="#000000" stroke="#000" stroke-width="0.5"/>
<circle cx="191.20" cy="85.31" r="2.7" fill="#000000" stroke="#000" stroke-width="0.5"/>
<circle cx="194.76" cy="87.62" r="2.7" fill="#000000" stroke="#000" stroke-width="0.5"/>
<circle cx="198.31" cy="89.87" r="2.7" fill="#000000" stroke="#000" stroke-width="0.5"/>
<circle cx="201.86" cy="92.20" r="2.7" fill="#000000" stroke="#000" stroke-width="0.5"/>
<circle cx="205.42" cy="94.64" r="2.7" fill="#000000" stroke="#000" stroke-width="0.5"/>
<circle cx="208.97" cy="97.12" r="2.7" fill="#000000" stroke="#000" stroke-width="0.5"/>
<circle cx="212.53" cy="99.52" r="2.7" fill="#000000" stroke="#000" stroke-width="0.5"/>
<circle cx="216.08" cy="101.84" r="2.7" fill="#000000" stroke="#000" stroke-width="0.5"/>
<circle cx="219.63" cy="104.32" r="2.7" fill="#000000" stroke="#000" stroke-width="0.5"/>
<circle cx="223.19" cy="106.69" r="2.7" fill="#000000" stroke="#000" stroke-width="0.5"/>
<circle cx="226.74" cy="108.67" r="2.7" fill="#000000" stroke="#000" stroke-width="0.5"/>
<circle cx="230.30" cy="109.95" r="2.7" fill="#000000" stroke="#000" stroke-width="0.5"/>
<circle cx="233.85" cy="110.69" r="2.7" fill="#000000" stroke="#000" stroke-width="0.5"/>
<circle cx="237.40" cy="111.20" r="2.7" fill="#000000" stroke="#000" stroke-width="0.5"/>
<circle cx="240.96" cy="111.62" r="2.7" fill="#000000" stroke="#000" stroke-width="0.5"/>
<circle cx="244.51" cy="112.07" r="2.7" fill="#000000" stroke="#000" stroke-width="0.5"/>
<circle cx="248.06" cy="112.70" r="2.7" fill="#000000" stroke="#000" stroke-width="0.5"/>
<circle cx="251.62" cy="113.69" r="2.7" fill="#000000" stroke="#000" stroke-width="0.5"/>
<circle cx="255.17" cy="115.53" r="2.7" fill="#000000" stroke="#000" stroke-width="0.5"/>
<circle cx="258.73" cy="117.92" r="2.7" fill="#000000" stroke="#000" stroke-width="0.5"/>
<circle cx="262.28" cy="120.36" r="2.7" fill="#000000" stroke="#000" stroke-width="0.5"/>
<circle cx="265.83" cy="122.56" r="2.7" fill="#000000" stroke="#000" stroke-width="0.5"/>
<circle cx="269.39" cy="124.79" r="2.7" fill="#000000" stroke="#000" stroke-width="0.5"/>
<circle cx="272.94" cy="126.99" r="2.7" fill="#000000" stroke="#000" stroke-width="0.5"/>
<circle cx="276.49" cy="129.03" r="2.7" fill="#000000" stroke="#000" stroke-width="0.5"/>
<circle cx="280.05" cy="130.98" r="2.7" fill="#000000" stroke="#000" stroke-width="0.5"/>
<circle cx="283.60" cy="132.86" r="2.7" fill="#000000" stroke="#000" stroke-width="0.5"/>
<circle cx="287.16" cy="134.55" r="2.7" fill="#000000" stroke="#000" stroke-width="0.5"/>
<circle cx="290.71" cy="135.95" r="2.7" fill="#000000" stroke="#000" stroke-width="0.5"/>
<circle cx="294.26" cy="137.16" r="2.7" fill="#000000" stroke="#000" stroke-width="0.5"/>
<circle cx="297.82" cy="138.22" r="2.7" fill="#000000" stroke="#000" stroke-width="0.5"/>
<circle cx="301.37" cy="139.17" r="2.7" fill="#000000" stroke="#000" stroke-width="0.5"/>
<circle cx="304.92" cy="140.01" r="2.7" fill="#000000" stroke="#000" stroke-width="0.5"/>
<circle cx="308.48" cy="140.78" r="2.7" fill="#000000" stroke="#000" stroke-width="0.5"/>
<circle cx="312.03" cy="141.46" r="2.7" fill="#000000" stroke="#000" stroke-width="0.5"/>
<circle cx="315.58" cy="142.06" r="2.7" fill="#000000" stroke="#000" stroke-width="0.5"/>
<circle cx="319.14" cy="142.57" r="2.7" fill="#000000" stroke="#000" stroke-width="0.5"/>
<circle cx="322.69" cy="143.02" r="2.7" fill="#000000" stroke="#000" stroke-width="0.5"/>
<circle cx="326.25" cy="143.39" r="2.7" fill="#000000" stroke="#000" stroke-width="0.5"/>
<polyline points="45.50,210.32 49.05,210.46 52.61,210.53 56.16,210.57 59.72,210.58 63.27,210.50 66.82,209.44 70.38,207.50 73.93,202.89 77.48,196.74 81.04,187.51 84.59,175.61 88.15,165.00 91.70,145.41 95.25,131.52 98.81,110.70 102.36,94.49 105.91,82.24 109.47,66.81 113.02,56.24 116.58,46.50 120.13,41.63 123.68,40.35 127.24,40.60 130.79,41.50 134.34,42.94 137.90,44.41 141.45,46.03 145.00,47.83 148.56,49.76 152.11,51.88 155.67,54.20 159.22,56.68 162.77,59.29 166.33,62.15 169.88,65.18 173.44,68.23 176.99,71.21 180.54,74.23 184.10,77.21 187.65,79.99 191.20,82.50 194.76,84.82 198.31,87.09 201.86,89.43 205.42,91.88 208.97,94.37 212.53,96.82 216.08,99.19 219.63,101.57 223.19,103.89 226.74,106.09 230.30,108.08 233.85,109.84 237.40,111.44 240.96,112.96 244.51,114.48 248.06,116.08 251.62,117.83 255.17,119.74 258.73,121.72 262.28,123.69 265.83,125.60 269.39,127.49 272.94,129.36 276.49,131.23 280.05,133.19 283.60,135.18 287.16,137.01 290.71,138.48 294.26,139.70 297.82,140.77 301.37,141.75 304.92,142.68 308.48,143.56 312.03,144.37 315.58,145.11 319.14,145.79 322.69,146.41 326.25,146.97" stroke="#333" stroke-width="0.5" fill="none"/>
<circle cx="45.50" cy="210.32" r="2.7" fill="#117a11" stroke="#000" stroke-width="0.5"/>
<circle cx="49.05" cy="210.46" r="2.7" fill="#117a11" stroke="#000" stroke-width="0.5"/>
<circle cx="52.61" cy="210.53" r="2.7" fill="#117a11" stroke="#000" stroke-width="0.5"/>
<circle cx="56.16" cy="210.57" r="2.7" fill="#117a11" stroke="#000" stroke-width="0.5"/>
<circle cx="59.72" cy="210.58" r="2.7" fill="#117a11" stroke="#000" stroke-width="0.5"/>
<circle cx="63.27" cy="210.50" r="2.7" fill="#117a11" stroke="#000" stroke-width="0.5"/>
<circle cx="66.82" cy="209.44" r="2.7" fill="#117a11" stroke="#000" stroke-width="0.5"/>
<circle cx="70.38" cy="207.50" r="2.7" fill="#117a11" stroke="#000" stroke-width="0.5"/>
<circle cx="73.93" cy="202.89" r="2.7" fill="#117a11" stroke="#000" stroke-width="0.5"/>
<circle cx="77.48" cy="196.74" r="2.7" fill="#117a11" stroke="#000" stroke-width="0.5"/>
<circle cx="81.04" cy="187.51" r="2.7" fill="#117a11" stroke="#000" stroke-width="0.5"/>
<circle cx="84.59" cy="175.61" r="2.7" fill="#117a11" stroke="#000" stroke-width="0.5"/>
<circle cx="88.15" cy="165.00" r="2.7" fill="#117a11" stroke="#000" stroke-width="0.5"/>
<circle cx="91.70" cy="145.41" r="2.7" fill="#117a11" stroke="#000" stroke-width="0.5"/>
<circle cx="95.25" cy="131.52" r="2.7" fill="#117a11" stroke="#000" stroke-width="0.5"/>
<circle cx="98.81" cy="110.70" r="2.7" fill="#117a11" stroke="#000" stroke-width="0.5"/>
<circle cx="102.36" cy="94.49" r="2.7" fill="#117a11" stroke="#000" stroke-width="0.5"/>
<circle cx="105.91" cy="82.24" r="2.7" fill="#117a11" stroke="#000" stroke-width="0.5"/>
<circle cx="109.47" cy="66.81" r="2.7" fill="#117a11" stroke="#000" stroke-width="0.5"/>
<circle cx="113.02" cy="56.24" r="2.7" fill="#117a11" stroke="#000" stroke-width="0.5"/>
<circle cx="116.58" cy="46.50" r="2.7" fill="#117a11" stroke="#000" stroke-width="0.5"/>
<circle cx="120.13" cy="41.63" r="2.7" fill="#117a11" stroke="#000" stroke-width="0.5"/>
<circle cx="123.68" cy="40.35" r="2.7" fill="#117a11" stroke="#000" stroke-width="0.5"/>
<circle cx="127.24" cy="40.60" r="2.7" fill="#117a11" stroke="#000" stroke-width="0.5"/>
<circle cx="130.79" cy="41.50" r="2.7" fill="#117a11" stroke="#000" stroke-width="0.5"/>
<circle cx="134.34" cy="42.94" r="2.7" fill="#117a11" stroke="#000" stroke-width="0.5"/>
<circle cx="137.90" cy="44.41" r="2.7" fill="#117a11" stroke="#000" stroke-width="0.5"/>
<circle cx="141.45" cy="46.03" r="2.7" fill="#117a11" stroke="#000" stroke-width="0.5"/>
<circle cx="145.00" cy="47.83" r="2.7" fill="#117a11" stroke="#000" stroke-width="0.5"/>
<circle cx="148.56" cy="49.76" r="2.7" fill="#117a11" stroke="#000" stroke-width="0.5"/>
<circle cx="152.11" cy="51.88" r="2.7" fill="#117a11" stroke="#000" stroke-width="0.5"/>
<circle cx="155.67" cy="54.20" r="2.7" fill="#117a11" stroke="#000" stroke-width="0.5"/>
<circle cx="159.22" cy="56.68" r="2.7" fill="#117a11" stroke="#000" stroke-width="0.5"/>
<circle cx="162.77" cy="59.29" r="2.7" fill="#117a11" stroke="#000" stroke-width="0.5"/>
<circle cx="166.33" cy="62.15" r="2.7" fill="#117a11" stroke="#000" stroke-width="0.5"/>
<circle cx="169.88" cy="65.18" r="2.7" fill="#117a11" stroke="#000" stroke-width="0.5"/>
<circle cx="173.44" cy="68.23" r="2.7" fill="#117a11" stroke="#000" stroke-width="0.5"/>
<circle cx="176.99" cy="71.21" r="2.7" fill="#117a11" stroke="#000" stroke-width="0.5"/>
<circle cx="180.54" cy="74.23" r="2.7" fill="#117a11" stroke="#000" stroke-width="0.5"/>
<circle cx="184.10" cy="77.21" r="2.7" fill="#117a11" stroke="#000" stroke-width="0.5"/>
<circle cx="187.65" cy="79.99" r="2.7" fill="#117a11" stroke="#000" stroke-width="0.5"/>
<circle cx="191.20" cy="82.50" r="2.7" fill="#117a11" stroke="#000" stroke-width="0.5"/>
<circle cx="194.76" cy="84.82" r="2.7" fill="#117a11" stroke="#000" stroke-width="0.5"/>
<circle cx="198.31" cy="87.09" r="2.7" fill="#117a11" stroke="#000" stroke-width="0.5"/>
<circle cx="201.86" cy="89.43" r="2.7" fill="#117a11" stroke="#000" stroke-width="0.5"/>
<circle cx="205.42" cy="91.88" r="2.7" fill="#117a11" stroke="#000" stroke-width="0.5"/>
<circle cx="208.97" cy="94.37" r="2.7" fill="#117a11" stroke="#000" stroke-width="0.5"/>
<circle cx="212.53" cy="96.82" r="2.7" fill="#117a11" stroke="#000" stroke-width="0.5"/>
<circle cx="216.08" cy="99.19" r="2.7" fill="#117a11" stroke="#000" stroke-width="0.5"/>
<circle cx="219.63" cy="101.57" r="2.7" fill="#117a11" stroke="#000" stroke-width="0.5"/>
<circle cx="223.19" cy="103.89" r="2.7" fill="#117a11" stroke="#000" stroke-width="0.5"/>
<circle cx="226.74" cy="106.09" r="2.7" fill="#117a11" stroke="#000" stroke-width="0.5"/>
<circle cx="230.30" cy="108.08" r="2.7" fill="#117a11" stroke="#000" stroke-width="0.5"/>
<circle cx="233.85" cy="109.84" r="2.7" fill="#117a11" stroke="#000" stroke-width="0.5"/>
<circle cx="237.40" cy="111.44" r="2.7" fill="#117a11" stroke="#000" stroke-width="0.5"/>
<circle cx="240.96" cy="112.96" r="2.7" fill="#117a11" stroke="#000" stroke-width="0.5"/>
<circle cx="244.51" cy="114.48" r="2.7" fill="#117a11" stroke="#000" stroke-width="0.5"/>
<circle cx="248.06" cy="116.08" r="2.7" fill="#117a11" stroke="#000" stroke-width="0.5"/>
<circle cx="251.62" cy="117.83" r="2.7" fill="#117a11" stroke="#000" stroke-width="0.5"/>
<circle cx="255.17" cy="119.74" r="2.7" fill="#117a11" stroke="#000" stroke-width="0.5"/>
<circle cx="258.73" cy="121.72" r="2.7" fill="#117a11" stroke="#000" stroke-width="0.5"/>
<circle cx="262.28" cy="123.69" r="2.7" fill="#117a11" stroke="#000" stroke-width="0.5"/>
<circle cx="265.83" cy="125.60" r="2.7" fill="#117a11" stroke="#000" stroke-width="0.5"/>
<circle cx="269.39" cy="127.49" r="2.7" fill="#117a11" stroke="#000" stroke-width="0.5"/>
<circle cx="272.94" cy="129.36" r="2.7" fill="#117a11" stroke="#000" stroke-width="0.5"/>
<circle cx="276.49" cy="131.23" r="2.7" fill="#117a11" stroke="#000" stroke-width="0.5"/>
<circle cx="280.05" cy="133.19" r="2.7" fill="#117a11" stroke="#000" stroke-width="0.5"/>
<circle cx="283.60" cy="135.18" r="2.7" fill="#117a11" stroke="#000" stroke-width="0.5"/>
<circle cx="287.16" cy="137.01" r="2.7" fill="#117a11" stroke="#000" stroke-width="0.5"/>
<circle cx="290.71" cy="138.48" r="2.7" fill="#117a11" stroke="#000" stroke-width="0.5"/>
<circle cx="294.26" cy="139.70" r="2.7" fill="#117a11" stroke="#000" stroke-width="0.5"/>
<circle cx="297.82" cy="140.77" r="2.7" fill="#117a11" stroke="#000" stroke-width="0.5"/>
<circle cx="301.37" cy="141.75" r="2.7" fill="#117a11" stroke="#000" stroke-width="0.5"/>
<circle cx="304.92" cy="142.68" r="2.7" fill="#117a11" stroke="#000" stroke-width="0.5"/>
<circle cx="308.48" cy="143.56" r="2.7" fill="#117a11" stroke="#000" stroke-width="0.5"/>
<circle cx="312.03" cy="144.37" r="2.7" fill="#117a11" stroke="#000" stroke-width="0.5"/>
<circle cx="315.58" cy="145.11" r="2.7" fill="#117a11" stroke="#000" stroke-width="0.5"/>
<circle cx="319.14" cy="145.79" r="2.7" fill="#117a11" stroke="#000" stroke-width="0.5"/>
<circle cx="322.69" cy="146.41" r="2.7" fill="#117a11" stroke="#000" stroke-width="0.5"/>
<circle cx="326.25" cy="146.97" r="2.7" fill="#117a11" stroke="#000" stroke-width="0.5"/>
<polyline points="45.50,210.32 49.05,210.47 52.61,210.55 56.16,210.58 59.72,210.58 63.27,209.04 66.82,206.84 70.38,203.30 73.93,197.76 77.48,190.69 81.04,181.92 84.59,171.82 88.15,159.20 91.70,150.38 95.25,142.90 98.81,132.28 102.36,118.90 105.91,109.62 109.47,101.01 113.02,92.49 116.58,84.24 120.13,77.32 123.68,73.42 127.24,70.40 130.79,66.60 134.34,63.73 137.90,62.24 141.45,61.52 145.00,61.88 148.56,63.63 152.11,65.83 155.67,67.98 159.22,70.13 162.77,72.11 166.33,73.76 169.88,75.14 173.44,76.49 176.99,78.02 180.54,79.91 184.10,82.05 187.65,84.32 191.20,86.58 194.76,88.90 198.31,91.27 201.86,93.65 205.42,96.03 208.97,98.45 212.53,100.85 216.08,103.13 219.63,105.24 223.19,107.24 226.74,109.18 230.30,111.11 233.85,113.08 237.40,115.11 240.96,117.19 244.51,119.25 248.06,121.24 251.62,123.13 255.17,124.91 258.73,126.63 262.28,128.33 265.83,130.05 269.39,131.80 272.94,133.48 276.49,134.99 280.05,136.34 283.60,137.58 287.16,138.75 290.71,139.89 294.26,140.98 297.82,142.03 301.37,143.03 304.92,143.97 308.48,144.88 312.03,145.74 315.58,146.58 319.14,147.40 322.69,148.19 326.25,148.95" stroke="#333" stroke-width="0.5" fill="none"/>
<circle cx="45.50" cy="210.32" r="2.7" fill="#b30000" stroke="#000" stroke-width="0.5"/>
<circle cx="49.05" cy="210.47" r="2.7" fill="#b30000" stroke="#000" stroke-width="0.5"/>
<circle cx="52.61" cy="210.55" r="2.7" fill="#b30000" stroke="#000" stroke-width="0.5"/>
<circle cx="56.16" cy="210.58" r="2.7" fill="#b30000" stroke="#000" stroke-width="0.5"/>
<circle cx="59.72" cy="210.58" r="2.7" fill="#b30000" stroke="#000" stroke-width="0.5"/>
<circle cx="63.27" cy="209.04" r="2.7" fill="#b30000" stroke="#000" stroke-width="0.5"/>
<circle cx="66.82" cy="206.84" r="2.7" fill="#b30000" stroke="#000" stroke-width="0.5"/>
<circle cx="70.38" cy="203.30" r="2.7" fill="#b30000" stroke="#000" stroke-width="0.5"/>
<circle cx="73.93" cy="197.76" r="2.7" fill="#b30000" stroke="#000" stroke-width="0.5"/>
<circle cx="77.48" cy="190.69" r="2.7" fill="#b30000" stroke="#000" stroke-width="0.5"/>
<circle cx="81.04" cy="181.92" r="2.7" fill="#b30000" stroke="#000" stroke-width="0.5"/>
<circle cx="84.59" cy="171.82" r="2.7" fill="#b30000" stroke="#000" stroke-width="0.5"/>
<circle cx="88.15" cy="159.20" r="2.7" fill="#b30000" stroke="#000" stroke-width="0.5"/>
<circle cx="91.70" cy="150.38" r="2.7" fill="#b30000" stroke="#000" stroke-width="0.5"/>
<circle cx="95.25" cy="142.90" r="2.7" fill="#b30000" stroke="#000" stroke-width="0.5"/>
<circle cx="98.81" cy="132.28" r="2.7" fill="#b30000" stroke="#000" stroke-width="0.5"/>
<circle cx="102.36" cy="118.90" r="2.7" fill="#b30000" stroke="#000" stroke-width="0.5"/>
<circle cx="105.91" cy="109.62" r="2.7" fill="#b30000" stroke="#000" stroke-width="0.5"/>
<circle cx="109.47" cy="101.01" r="2.7" fill="#b30000" stroke="#000" stroke-width="0.5"/>
<circle cx="113.02" cy="92.49" r="2.7" fill="#b30000" stroke="#000" stroke-width="0.5"/>
<circle cx="116.58" cy="84.24" r="2.7" fill="#b30000" stroke="#000" stroke-width="0.5"/>
<circle cx="120.13" cy="77.32" r="2.7" fill="#b30000" stroke="#000" stroke-width="0.5"/>
<circle cx="123.68" cy="73.42" r="2.7" fill="#b30000" stroke="#000" stroke-width="0.5"/>
<circle cx="127.24" cy="70.40" r="2.7" fill="#b30000" stroke="#000" stroke-width="0.5"/>
<circle cx="130.79" cy="66.60" r="2.7" fill="#b30000" stroke="#000" stroke-width="0.5"/>
<circle cx="134.34" cy="63.73" r="2.7" fill="#b30000" stroke="#000" stroke-width="0.5"/>
<circle cx="137.90" cy="62.24" r="2.7" fill="#b30000" stroke="#000" stroke-width="0.5"/>
<circle cx="141.45" cy="61.52" r="2.7" fill="#b30000" stroke="#000" stroke-width="0.5"/>
<circle cx="145.00" cy="61.88" r="2.7" fill="#b30000" stroke="#000" stroke-width="0.5"/>
<circle cx="148.56" cy="63.63" r="2.7" fill="#b30000" stroke="#000" stroke-width="0.5"/>
<circle cx="152.11" cy="65.83" r="2.7" fill="#b30000" stroke="#000" stroke-width="0.5"/>
<circle cx="155.67" cy="67.98" r="2.7" fill="#b30000" stroke="#000" stroke-width="0.5"/>
<circle cx="159.22" cy="70.13" r="2.7" fill="#b30000" stroke="#000" stroke-width="0.5"/>
<circle cx="162.77" cy="72.11" r="2.7" fill="#b30000" stroke="#000" stroke-width="0.5"/>
<circle cx="166.33" cy="73.76" r="2.7" fill="#b30000" stroke="#000" stroke-width="0.5"/>
<circle cx="169.88" cy="75.14" r="2.7" fill="#b30000" stroke="#000" stroke-width="0.5"/>
<circle cx="173.44" cy="76.49" r="2.7" fill="#b30000" stroke="#000" stroke-width="0.5"/>
<circle cx="176.99" cy="78.02" r="2.7" fill="#b30000" stroke="#000" stroke-width="0.5"/>
<circle cx="180.54" cy="79.91" r="2.7" fill="#b30000" stroke="#000" stroke-width="0.5"/>
<circle cx="184.10" cy="82.05" r="2.7" fill="#b30000" stroke="#000" stroke-width="0.5"/>
<circle cx="187.65" cy="84.32" r="2.7" fill="#b30000" stroke="#000" stroke-width="0.5"/>
<circle cx="191.20" cy="86.58" r="2.7" fill="#b30000" stroke="#000" stroke-width="0.5"/>
<circle cx="194.76" cy="88.90" r="2.7" fill="#b30000" stroke="#000" stroke-width="0.5"/>
<circle cx="198.31" cy="91.27" r="2.7" fill="#b30000" stroke="#000" stroke-width="0.5"/>
<circle cx="201.86" cy="93.65" r="2.7" fill="#b30000" stroke="#000" stroke-width="0.5"/>
<circle cx="205.42" cy="96.03" r="2.7" fill="#b30000" stroke="#000" stroke-width="0.5"/>
<circle cx="208.97" cy="98.45" r="2.7" fill="#b30000" stroke="#000" stroke-width="0.5"/>
<circle cx="212.53" cy="100.85" r="2.7" fill="#b30000" stroke="#000" stroke-width="0.5"/>
<circle cx="216.08" cy="103.13" r="2.7" fill="#b30000" stroke="#000" stroke-width="0.5"/>
<circle cx="219.63" cy="105.24" r="2.7" fill="#b30000" stroke="#000" stroke-width="0.5"/>
<circle cx="223.19" cy="107.24" r="2.7" fill="#b30000" stroke="#000" stroke-width="0.5"/>
<circle cx="226.74" cy="109.18" r="2.7" fill="#b30000" stroke="#000" stroke-width="0.5"/>
<circle cx="230.30" cy="111.11" r="2.7" fill="#b30000" stroke="#000" stroke-width="0.5"/>
<circle cx="233.85" cy="113.08" r="2.7" fill="#b30000" stroke="#000" stroke-width="0.5"/>
<circle cx="237.40" cy="115.11" r="2.7" fill="#b30000" stroke="#000" stroke-width="0.5"/>
<circle cx="240.96" cy="117.19" r="2.7" fill="#b30000" stroke="#000" stroke-width="0.5"/>
<circle cx="244.51" cy="119.25" r="2.7" fill="#b30000" stroke="#000" stroke-width="0.5"/>
<circle cx="248.06" cy="121.24" r="2.7" fill="#b30000" stroke="#000" stroke-width="0.5"/>
<circle cx="251.62" cy="123.13" r="2.7" fill="#b30000" stroke="#000" stroke-width="0.5"/>
<circle cx="255.17" cy="124.91" r="2.7" fill="#b30000" stroke="#000" stroke-width="0.5"/>
<circle cx="258.73" cy="126.63" r="2.7" fill="#b30000" stroke="#000" stroke-width="0.5"/>
<circle cx="262.28" cy="128.33" r="2.7" fill="#b30000" stroke="#000" stroke-width="0.5"/>
<circle cx="265.83" cy="130.05" r="2.7" fill="#b30000" stroke="#000" stroke-width="0.5"/>
<circle cx="269.39" cy="131.80" r="2.7" fill="#b30000" stroke="#000" stroke-width="0.5"/>
<circle cx="272.94" cy="133.48" r="2.7" fill="#b30000" stroke="#000" stroke-width="0.5"/>
<circle cx="276.49" cy="134.99" r="2.7" fill="#b30000" stroke="#000" stroke-width="0.5"/>
<circle cx="280.05" cy="136.34" r="2.7" fill="#b30000" stroke="#000" stroke-width="0.5"/>
<circle cx="283.60" cy="137.58" r="2.7" fill="#b30000" stroke="#000" stroke-width="0.5"/>
<circle cx="287.16" cy="138.75" r="2.7" fill="#b30000" stroke="#000" stroke-width="0.5"/>
<circle cx="290.71" cy="139.89" r="2.7" fill="#b30000" stroke="#000" stroke-width="0.5"/>
<circle cx="294.26" cy="140.98" r="2.7" fill="#b30000" stroke="#000" stroke-width="0.5"/>
<circle cx="297.82" cy="142.03" r="2.7" fill="#b30000" stroke="#000" stroke-width="0.5"/>
<circle cx="301.37" cy="143.03" r="2.7" fill="#b30000" stroke="#000" stroke-width="0.5"/>
<circle cx="304.92" cy="143.97" r="2.7" fill="#b30000" stroke="#000" stroke-width="0.5"/>
<circle cx="308.48" cy="144.88" r="2.7" fill="#b30000" stroke="#000" stroke-width="0.5"/>
<circle cx="312.03" cy="145.74" r="2.7" fill="#b30000" stroke="#000" stroke-width="0.5"/>
<circle cx="315.58" cy="146.58" r="2.7" fill="#b30000" stroke="#000" stroke-width="0.5"/>
<circle cx="319.14" cy="147.40" r="2.7" fill="#b30000" stroke="#000" stroke-width="0.5"/>
<circle cx="322.69" cy="148.19" r="2.7" fill="#b30000" stroke="#000" stroke-width="0.5"/>
<circle cx="326.25" cy="148.95" r="2.7" fill="#b30000" stroke="#000" stroke-width="0.5"/>
<polyline points="45.50,210.58 49.05,210.69 52.61,210.78 56.16,210.86 59.72,210.92 63.27,210.97 66.82,211.01 70.38,211.04 73.93,211.06 77.48,211.08 81.04,211.09 84.59,211.09 88.15,211.09 91.70,211.09 95.25,209.56 98.81,208.02 102.36,204.63 105.91,202.12 109.47,183.20 113.02,171.61 116.58,171.61 120.13,171.61 123.68,171.60 127.24,171.51 130.79,171.36 134.34,170.59 137.90,157.92 141.45,142.13 145.00,134.23 148.56,126.34 152.11,126.40 155.67,126.60 159.22,127.52 162.77,128.92 166.33,130.34 169.88,131.60 173.44,132.99 176.99,134.77 180.54,136.75 184.10,138.35 187.65,139.03 191.20,137.91 194.76,134.31 198.31,129.85 201.86,127.00 205.42,125.47 208.97,124.89 212.53,124.61 216.08,124.69 219.63,124.93 223.19,124.85 226.74,124.52 230.30,124.29 233.85,124.09 237.40,124.18 240.96,126.26 244.51,128.33 248.06,130.48 251.62,132.97 255.17,135.26 258.73,137.14 262.28,138.90 265.83,140.81 269.39,142.69 272.94,144.22 276.49,145.48 280.05,146.47 283.60,147.32 287.16,148.13 290.71,148.99 294.26,149.91 297.82,150.84 301.37,151.70 304.92,152.47 308.48,153.14 312.03,153.79 315.58,154.49 319.14,155.28 322.69,156.13 326.25,157.04" stroke="#333" stroke-width="0.5" fill="none"/>
<circle cx="45.50" cy="210.58" r="2.7" fill="#5e0fbf" stroke="#000" stroke-width="0.5"/>
<circle cx="49.05" cy="210.69" r="2.7" fill="#5e0fbf" stroke="#000" stroke-width="0.5"/>
<circle cx="52.61" cy="210.78" r="2.7" fill="#5e0fbf" stroke="#000" stroke-width="0.5"/>
<circle cx="56.16" cy="210.86" r="2.7" fill="#5e0fbf" stroke="#000" stroke-width="0.5"/>
<circle cx="59.72" cy="210.92" r="2.7" fill="#5e0fbf" stroke="#000" stroke-width="0.5"/>
<circle cx="63.27" cy="210.97" r="2.7" fill="#5e0fbf" stroke="#000" stroke-width="0.5"/>
<circle cx="66.82" cy="211.01" r="2.7" fill="#5e0fbf" stroke="#000" stroke-width="0.5"/>
<circle cx="70.38" cy="211.04" r="2.7" fill="#5e0fbf" stroke="#000" stroke-width="0.5"/>
<circle cx="73.93" cy="211.06" r="2.7" fill="#5e0fbf" stroke="#000" stroke-width="0.5"/>
<circle cx="77.48" cy="211.08" r="2.7" fill="#5e0fbf" stroke="#000" stroke-width="0.5"/>
<circle cx="81.04" cy="211.09" r="2.7" fill="#5e0fbf" stroke="#000" stroke-width="0.5"/>
<circle cx="84.59" cy="211.09" r="2.7" fill="#5e0fbf" stroke="#000" stroke-width="0.5"/>
<circle cx="88.15" cy="211.09" r="2.7" fill="#5e0fbf" stroke="#000" stroke-width="0.5"/>
<circle cx="91.70" cy="211.09" r="2.7" fill="#5e0fbf" stroke="#000" stroke-width="0.5"/>
<circle cx="95.25" cy="209.56" r="2.7" fill="#5e0fbf" stroke="#000" stroke-width="0.5"/>
<circle cx="98.81" cy="208.02" r="2.7" fill="#5e0fbf" stroke="#000" stroke-width="0.5"/>
<circle cx="102.36" cy="204.63" r="2.7" fill="#5e0fbf" stroke="#000" stroke-width="0.5"/>
<circle cx="105.91" cy="202.12" r="2.7" fill="#5e0fbf" stroke="#000" stroke-width="0.5"/>
<circle cx="109.47" cy="183.20" r="2.7" fill="#5e0fbf" stroke="#000" stroke-width="0.5"/>
<circle cx="113.02" cy="171.61" r="2.7" fill="#5e0fbf" stroke="#000" stroke-width="0.5"/>
<circle cx="116.58" cy="171.61" r="2.7" fill="#5e0fbf" stroke="#000" stroke-width="0.5"/>
<circle cx="120.13" cy="171.61" r="2.7" fill="#5e0fbf" stroke="#000" stroke-width="0.5"/>
<circle cx="123.68" cy="171.60" r="2.7" fill="#5e0fbf" stroke="#000" stroke-width="0.5"/>
<circle cx="127.24" cy="171.51" r="2.7" fill="#5e0fbf" stroke="#000" stroke-width="0.5"/>
<circle cx="130.79" cy="171.36" r="2.7" fill="#5e0fbf" stroke="#000" stroke-width="0.5"/>
<circle cx="134.34" cy="170.59" r="2.7" fill="#5e0fbf" stroke="#000" stroke-width="0.5"/>
<circle cx="137.90" cy="157.92" r="2.7" fill="#5e0fbf" stroke="#000" stroke-width="0.5"/>
<circle cx="141.45" cy="142.13" r="2.7" fill="#5e0fbf" stroke="#000" stroke-width="0.5"/>
<circle cx="145.00" cy="134.23" r="2.7" fill="#5e0fbf" stroke="#000" stroke-width="0.5"/>
<circle cx="148.56" cy="126.34" r="2.7" fill="#5e0fbf" stroke="#000" stroke-width="0.5"/>
<circle cx="152.11" cy="126.40" r="2.7" fill="#5e0fbf" stroke="#000" stroke-width="0.5"/>
<circle cx="155.67" cy="126.60" r="2.7" fill="#5e0fbf" stroke="#000" stroke-width="0.5"/>
<circle cx="159.22" cy="127.52" r="2.7" fill="#5e0fbf" stroke="#000" stroke-width="0.5"/>
<circle cx="162.77" cy="128.92" r="2.7" fill="#5e0fbf" stroke="#000" stroke-width="0.5"/>
<circle cx="166.33" cy="130.34" r="2.7" fill="#5e0fbf" stroke="#000" stroke-width="0.5"/>
<circle cx="169.88" cy="131.60" r="2.7" fill="#5e0fbf" stroke="#000" stroke-width="0.5"/>
<circle cx="173.44" cy="132.99" r="2.7" fill="#5e0fbf" stroke="#000" stroke-width="0.5"/>
<circle cx="176.99" cy="134.77" r="2.7" fill="#5e0fbf" stroke="#000" stroke-width="0.5"/>
<circle cx="180.54" cy="136.75" r="2.7" fill="#5e0fbf" stroke="#000" stroke-width="0.5"/>
<circle cx="184.10" cy="138.35" r="2.7" fill="#5e0fbf" stroke="#000" stroke-width="0.5"/>
<circle cx="187.65" cy="139.03" r="2.7" fill="#5e0fbf" stroke="#000" stroke-width="0.5"/>
<circle cx="191.20" cy="137.91" r="2.7" fill="#5e0fbf" stroke="#000" stroke-width="0.5"/>
<circle cx="194.76" cy="134.31" r="2.7" fill="#5e0fbf" stroke="#000" stroke-width="0.5"/>
<circle cx="198.31" cy="129.85" r="2.7" fill="#5e0fbf" stroke="#000" stroke-width="0.5"/>
<circle cx="201.86" cy="127.00" r="2.7" fill="#5e0fbf" stroke="#000" stroke-width="0.5"/>
<circle cx="205.42" cy="125.47" r="2.7" fill="#5e0fbf" stroke="#000" stroke-width="0.5"/>
<circle cx="208.97" cy="124.89" r="2.7" fill="#5e0fbf" stroke="#000" stroke-width="0.5"/>
<circle cx="212.53" cy="124.61" r="2.7" fill="#5e0fbf" stroke="#000" stroke-width="0.5"/>
<circle cx="216.08" cy="124.69" r="2.7" fill="#5e0fbf" stroke="#000" stroke-width="0.5"/>
<circle cx="219.63" cy="124.93" r="2.7" fill="#5e0fbf" stroke="#000" stroke-width="0.5"/>
<circle cx="223.19" cy="124.85" r="2.7" fill="#5e0fbf" stroke="#000" stroke-width="0.5"/>
<circle cx="226.74" cy="124.52" r="2.7" fill="#5e0fbf" stroke="#000" stroke-width="0.5"/>
<circle cx="230.30" cy="124.29" r="2.7" fill="#5e0fbf" stroke="#000" stroke-width="0.5"/>
<circle cx="233.85" cy="124.09" r="2.7" fill="#5e0fbf" stroke="#000" stroke-width="0.5"/>
<circle cx="237.40" cy="124.18" r="2.7" fill="#5e0fbf" stroke="#000" stroke-width="0.5"/>
<circle cx="240.96" cy="126.26" r="2.7" fill="#5e0fbf" stroke="#000" stroke-width="0.5"/>
<circle cx="244.51" cy="128.33" r="2.7" fill="#5e0fbf" stroke="#000" stroke-width="0.5"/>
<circle cx="248.06" cy="130.48" r="2.7" fill="#5e0fbf" stroke="#000" stroke-width="0.5"/>
<circle cx="251.62" cy="132.97" r="2.7" fill="#5e0fbf" stroke="#000" stroke-width="0.5"/>
<circle cx="255.17" cy="135.26" r="2.7" fill="#5e0fbf" stroke="#000" stroke-width="0.5"/>
<circle cx="258.73" cy="137.14" r="2.7" fill="#5e0fbf" stroke="#000" stroke-width="0.5"/>
<circle cx="262.28" cy="138.90" r="2.7" fill="#5e0fbf" stroke="#000" stroke-width="0.5"/>
<circle cx="265.83" cy="140.81" r="2.7" fill="#5e0fbf" stroke="#000" stroke-width="0.5"/>
<circle cx="269.39" cy="142.69" r="2.7" fill="#5e0fbf" stroke="#000" stroke-width="0.5"/>
<circle cx="272.94" cy="144.22" r="2.7" fill="#5e0fbf" stroke="#000" stroke-width="0.5"/>
<circle cx="276.49" cy="145.48" r="2.7" fill="#5e0fbf" stroke="#000" stroke-width="0.5"/>
<circle cx="280.05" cy="146.47" r="2.7" fill="#5e0fbf" stroke="#000" stroke-width="0.5"/>
<circle cx="283.60" cy="147.32" r="2.7" fill="#5e0fbf" stroke="#000" stroke-width="0.5"/>
<circle cx="287.16" cy="148.13" r="2.7" fill="#5e0fbf" stroke="#000" stroke-width="0.5"/>
<circle cx="290.71" cy="148.99" r="2.7" fill="#5e0fbf" stroke="#000" stroke-width="0.5"/>
<circle cx="294.26" cy="149.91" r="2.7" fill="#5e0fbf" stroke="#000" stroke-width="0.5"/>
<circle cx="297.82" cy="150.84" r="2.7" fill="#5e0fbf" stroke="#000" stroke-width="0.5"/>
<circle cx="301.37" cy="151.70" r="2.7" fill="#5e0fbf" stroke="#000" stroke-width="0.5"/>
<circle cx="304.92" cy="152.47" r="2.7" fill="#5e0fbf" stroke="#000" stroke-width="0.5"/>
<circle cx="308.48" cy="153.14" r="2.7" fill="#5e0fbf" stroke="#000" stroke-width="0.5"/>
<circle cx="312.03" cy="153.79" r="2.7" fill="#5e0fbf" stroke="#000" stroke-width="0.5"/>
<circle cx="315.58" cy="154.49" r="2.7" fill="#5e0fbf" stroke="#000" stroke-width="0.5"/>
<circle cx="319.14" cy="155.28" r="2.7" fill="#5e0fbf" stroke="#000" stroke-width="0.5"/>
<circle cx="322.69" cy="156.13" r="2.7" fill="#5e0fbf" stroke="#000" stroke-width="0.5"/>
<circle cx="326.25" cy="157.04" r="2.7" fill="#5e0fbf" stroke="#000" stroke-width="0.5"/>
<polyline points="45.50,210.58 49.05,210.77 52.61,210.91 56.16,211.00 59.72,211.05 63.27,211.08 66.82,211.09 70.38,211.09 73.93,209.56 77.48,207.09 81.04,201.35 84.59,197.20 88.15,189.51 91.70,181.92 95.25,173.10 98.81,164.43 102.36,164.18 105.91,164.18 109.47,157.41 113.02,151.82 116.58,147.41 120.13,141.31 123.68,133.41 127.24,131.11 130.79,127.62 134.34,124.23 137.90,118.90 141.45,117.93 145.00,118.41 148.56,119.32 152.11,119.90 155.67,120.29 159.22,120.62 162.77,120.91 166.33,121.18 169.88,121.46 173.44,121.77 176.99,122.09 180.54,122.37 184.10,122.57 187.65,122.64 191.20,122.64 194.76,122.64 198.31,122.58 201.86,121.84 205.42,120.64 208.97,118.50 212.53,115.66 216.08,111.88 219.63,107.84 223.19,104.63 226.74,101.03 230.30,100.39 233.85,100.67 237.40,101.97 240.96,103.52 244.51,105.09 248.06,106.83 251.62,108.90 255.17,111.19 258.73,113.49 262.28,115.70 265.83,117.73 269.39,119.69 272.94,121.51 276.49,123.10 280.05,124.47 283.60,125.70 287.16,126.86 290.71,127.99 294.26,129.05 297.82,130.08 301.37,131.16 304.92,132.36 308.48,133.70 312.03,135.04 315.58,136.28 319.14,137.48 322.69,138.64 326.25,139.75" stroke="#333" stroke-width="0.5" fill="none"/>
<circle cx="45.50" cy="210.58" r="2.7" fill="#33c4c4" stroke="#000" stroke-width="0.5"/>
<circle cx="49.05" cy="210.77" r="2.7" fill="#33c4c4" stroke="#000" stroke-width="0.5"/>
<circle cx="52.61" cy="210.91" r="2.7" fill="#33c4c4" stroke="#000" stroke-width="0.5"/>
<circle cx="56.16" cy="211.00" r="2.7" fill="#33c4c4" stroke="#000" stroke-width="0.5"/>
<circle cx="59.72" cy="211.05" r="2.7" fill="#33c4c4" stroke="#000" stroke-width="0.5"/>
<circle cx="63.27" cy="211.08" r="2.7" fill="#33c4c4" stroke="#000" stroke-width="0.5"/>
<circle cx="66.82" cy="211.09" r="2.7" fill="#33c4c4" stroke="#000" stroke-width="0.5"/>
<circle cx="70.38" cy="211.09" r="2.7" fill="#33c4c4" stroke="#000" stroke-width="0.5"/>
<circle cx="73.93" cy="209.56" r="2.7" fill="#33c4c4" stroke="#000" stroke-width="0.5"/>
<circle cx="77.48" cy="207.09" r="2.7" fill="#33c4c4" stroke="#000" stroke-width="0.5"/>
<circle cx="81.04" cy="201.35" r="2.7" fill="#33c4c4" stroke="#000" stroke-width="0.5"/>
<circle cx="84.59" cy="197.20" r="2.7" fill="#33c4c4" stroke="#000" stroke-width="0.5"/>
<circle cx="88.15" cy="189.51" r="2.7" fill="#33c4c4" stroke="#000" stroke-width="0.5"/>
<circle cx="91.70" cy="181.92" r="2.7" fill="#33c4c4" stroke="#000" stroke-width="0.5"/>
<circle cx="95.25" cy="173.10" r="2.7" fill="#33c4c4" stroke="#000" stroke-width="0.5"/>
<circle cx="98.81" cy="164.43" r="2.7" fill="#33c4c4" stroke="#000" stroke-width="0.5"/>
<circle cx="102.36" cy="164.18" r="2.7" fill="#33c4c4" stroke="#000" stroke-width="0.5"/>
<circle cx="105.91" cy="164.18" r="2.7" fill="#33c4c4" stroke="#000" stroke-width="0.5"/>
<circle cx="109.47" cy="157.41" r="2.7" fill="#33c4c4" stroke="#000" stroke-width="0.5"/>
<circle cx="113.02" cy="151.82" r="2.7" fill="#33c4c4" stroke="#000" stroke-width="0.5"/>
<circle cx="116.58" cy="147.41" r="2.7" fill="#33c4c4" stroke="#000" stroke-width="0.5"/>
<circle cx="120.13" cy="141.31" r="2.7" fill="#33c4c4" stroke="#000" stroke-width="0.5"/>
<circle cx="123.68" cy="133.41" r="2.7" fill="#33c4c4" stroke="#000" stroke-width="0.5"/>
<circle cx="127.24" cy="131.11" r="2.7" fill="#33c4c4" stroke="#000" stroke-width="0.5"/>
<circle cx="130.79" cy="127.62" r="2.7" fill="#33c4c4" stroke="#000" stroke-width="0.5"/>
<circle cx="134.34" cy="124.23" r="2.7" fill="#33c4c4" stroke="#000" stroke-width="0.5"/>
<circle cx="137.90" cy="118.90" r="2.7" fill="#33c4c4" stroke="#000" stroke-width="0.5"/>
<circle cx="141.45" cy="117.93" r="2.7" fill="#33c4c4" stroke="#000" stroke-width="0.5"/>
<circle cx="145.00" cy="118.41" r="2.7" fill="#33c4c4" stroke="#000" stroke-width="0.5"/>
<circle cx="148.56" cy="119.32" r="2.7" fill="#33c4c4" stroke="#000" stroke-width="0.5"/>
<circle cx="152.11" cy="119.90" r="2.7" fill="#33c4c4" stroke="#000" stroke-width="0.5"/>
<circle cx="155.67" cy="120.29" r="2.7" fill="#33c4c4" stroke="#000" stroke-width="0.5"/>
<circle cx="159.22" cy="120.62" r="2.7" fill="#33c4c4" stroke="#000" stroke-width="0.5"/>
<circle cx="162.77" cy="120.91" r="2.7" fill="#33c4c4" stroke="#000" stroke-width="0.5"/>
<circle cx="166.33" cy="121.18" r="2.7" fill="#33c4c4" stroke="#000" stroke-width="0.5"/>
<circle cx="169.88" cy="121.46" r="2.7" fill="#33c4c4" stroke="#000" stroke-width="0.5"/>
<circle cx="173.44" cy="121.77" r="2.7" fill="#33c4c4" stroke="#000" stroke-width="0.5"/>
<circle cx="176.99" cy="122.09" r="2.7" fill="#33c4c4" stroke="#000" stroke-width="0.5"/>
<circle cx="180.54" cy="122.37" r="2.7" fill="#33c4c4" stroke="#000" stroke-width="0.5"/>
<circle cx="184.10" cy="122.57" r="2.7" fill="#33c4c4" stroke="#000" stroke-width="0.5"/>
<circle cx="187.65" cy="122.64" r="2.7" fill="#33c4c4" stroke="#000" stroke-width="0.5"/>
<circle cx="191.20" cy="122.64" r="2.7" fill="#33c4c4" stroke="#000" stroke-width="0.5"/>
<circle cx="194.76" cy="122.64" r="2.7" fill="#33c4c4" stroke="#000" stroke-width="0.5"/>
<circle cx="198.31" cy="122.58" r="2.7" fill="#33c4c4" stroke="#000" stroke-width="0.5"/>
<circle cx="201.86" cy="121.84" r="2.7" fill="#33c4c4" stroke="#000" stroke-width="0.5"/>
<circle cx="205.42" cy="120.64" r="2.7" fill="#33c4c4" stroke="#000" stroke-width="0.5"/>
<circle cx="208.97" cy="118.50" r="2.7" fill="#33c4c4" stroke="#000" stroke-width="0.5"/>
<circle cx="212.53" cy="115.66" r="2.7" fill="#33c4c4" stroke="#000" stroke-width="0.5"/>
<circle cx="216.08" cy="111.88" r="2.7" fill="#33c4c4" stroke="#000" stroke-width="0.5"/>
<circle cx="219.63" cy="107.84" r="2.7" fill="#33c4c4" stroke="#000" stroke-width="0.5"/>
<circle cx="223.19" cy="104.63" r="2.7" fill="#33c4c4" stroke="#000" stroke-width="0.5"/>
<circle cx="226.74" cy="101.03" r="2.7" fill="#33c4c4" stroke="#000" stroke-width="0.5"/>
<circle cx="230.30" cy="100.39" r="2.7" fill="#33c4c4" stroke="#000" stroke-width="0.5"/>
<circle cx="233.85" cy="100.67" r="2.7" fill="#33c4c4" stroke="#000" stroke-width="0.5"/>
<circle cx="237.40" cy="101.97" r="2.7" fill="#33c4c4" stroke="#000" stroke-width="0.5"/>
<circle cx="240.96" cy="103.52" r="2.7" fill="#33c4c4" stroke="#000" stroke-width="0.5"/>
<circle cx="244.51" cy="105.09" r="2.7" fill="#33c4c4" stroke="#000" stroke-width="0.5"/>
<circle cx="248.06" cy="106.83" r="2.7" fill="#33c4c4" stroke="#000" stroke-width="0.5"/>
<circle cx="251.62" cy="108.90" r="2.7" fill="#33c4c4" stroke="#000" stroke-width="0.5"/>
<circle cx="255.17" cy="111.19" r="2.7" fill="#33c4c4" stroke="#000" stroke-width="0.5"/>
<circle cx="258.73" cy="113.49" r="2.7" fill="#33c4c4" stroke="#000" stroke-width="0.5"/>
<circle cx="262.28" cy="115.70" r="2.7" fill="#33c4c4" stroke="#000" stroke-width="0.5"/>
<circle cx="265.83" cy="117.73" r="2.7" fill="#33c4c4" stroke="#000" stroke-width="0.5"/>
<circle cx="269.39" cy="119.69" r="2.7" fill="#33c4c4" stroke="#000" stroke-width="0.5"/>
<circle cx="272.94" cy="121.51" r="2.7" fill="#33c4c4" stroke="#000" stroke-width="0.5"/>
<circle cx="276.49" cy="123.10" r="2.7" fill="#33c4c4" stroke="#000" stroke-width="0.5"/>
<circle cx="280.05" cy="124.47" r="2.7" fill="#33c4c4" stroke="#000" stroke-width="0.5"/>
<circle cx="283.60" cy="125.70" r="2.7" fill="#33c4c4" stroke="#000" stroke-width="0.5"/>
<circle cx="287.16" cy="126.86" r="2.7" fill="#33c4c4" stroke="#000" stroke-width="0.5"/>
<circle cx="290.71" cy="127.99" r="2.7" fill="#33c4c4" stroke="#000" stroke-width="0.5"/>
<circle cx="294.26" cy="129.05" r="2.7" fill="#33c4c4" stroke="#000" stroke-width="0.5"/>
<circle cx="297.82" cy="130.08" r="2.7" fill="#33c4c4" stroke="#000" stroke-width="0.5"/>
<circle cx="301.37" cy="131.16" r="2.7" fill="#33c4c4" stroke="#000" stroke-width="0.5"/>
<circle cx="304.92" cy="132.36" r="2.7" fill="#33c4c4" stroke="#000" stroke-width="0.5"/>
<circle cx="308.48" cy="133.70" r="2.7" fill="#33c4c4" stroke="#000" stroke-width="0.5"/>
<circle cx="312.03" cy="135.04" r="2.7" fill="#33c4c4" stroke="#000" stroke-width="0.5"/>
<circle cx="315.58" cy="136.28" r="2.7" fill="#33c4c4" stroke="#000" stroke-width="0.5"/>
<circle cx="319.14" cy="137.48" r="2.7" fill="#33c4c4" stroke="#000" stroke-width="0.5"/>
<circle cx="322.69" cy="138.64" r="2.7" fill="#33c4c4" stroke="#000" stroke-width="0.5"/>
<circle cx="326.25" cy="139.75" r="2.7" fill="#33c4c4" stroke="#000" stroke-width="0.5"/>
<polyline points="45.50,210.32 49.05,210.43 52.61,210.54 56.16,210.65 59.72,210.77 63.27,210.89 66.82,211.01 70.38,211.14 73.93,211.27 77.48,211.40 81.04,211.54 84.59,211.67 88.15,211.82 91.70,211.96 95.25,212.10 98.81,212.26 102.36,212.46 105.91,212.64 109.47,212.78 113.02,212.84 116.58,212.53 120.13,209.91 123.68,207.71 127.24,204.58 130.79,200.33 134.34,193.40 137.90,189.51 141.45,188.23 145.00,185.51 148.56,180.33 152.11,177.10 155.67,178.23 159.22,178.63 162.77,178.90 166.33,179.00 169.88,175.00 173.44,165.82 176.99,154.49 180.54,141.98 184.10,134.61 187.65,128.95 191.20,126.73 194.76,125.64 198.31,123.84 201.86,120.73 205.42,120.34 208.97,120.47 212.53,121.73 216.08,122.87 219.63,124.35 223.19,126.05 226.74,127.74 230.30,129.52 233.85,130.08 237.40,131.41 240.96,133.09 244.51,134.23 248.06,135.52 251.62,137.82 255.17,141.22 258.73,142.79 262.28,142.85 265.83,142.35 269.39,140.90 272.94,138.21 276.49,135.39 280.05,133.56 283.60,132.90 287.16,132.90 290.71,132.99 294.26,133.93 297.82,134.93 301.37,135.89 304.92,136.68 308.48,137.35 312.03,137.96 315.58,138.52 319.14,139.06 322.69,139.59 326.25,140.10" stroke="#333" stroke-width="0.5" fill="none"/>
<circle cx="45.50" cy="210.32" r="2.7" fill="#f18a1f" stroke="#000" stroke-width="0.5"/>
<circle cx="49.05" cy="210.43" r="2.7" fill="#f18a1f" stroke="#000" stroke-width="0.5"/>
<circle cx="52.61" cy="210.54" r="2.7" fill="#f18a1f" stroke="#000" stroke-width="0.5"/>
<circle cx="56.16" cy="210.65" r="2.7" fill="#f18a1f" stroke="#000" stroke-width="0.5"/>
<circle cx="59.72" cy="210.77" r="2.7" fill="#f18a1f" stroke="#000" stroke-width="0.5"/>
<circle cx="63.27" cy="210.89" r="2.7" fill="#f18a1f" stroke="#000" stroke-width="0.5"/>
<circle cx="66.82" cy="211.01" r="2.7" fill="#f18a1f" stroke="#000" stroke-width="0.5"/>
<circle cx="70.38" cy="211.14" r="2.7" fill="#f18a1f" stroke="#000" stroke-width="0.5"/>
<circle cx="73.93" cy="211.27" r="2.7" fill="#f18a1f" stroke="#000" stroke-width="0.5"/>
<circle cx="77.48" cy="211.40" r="2.7" fill="#f18a1f" stroke="#000" stroke-width="0.5"/>
<circle cx="81.04" cy="211.54" r="2.7" fill="#f18a1f" stroke="#000" stroke-width="0.5"/>
<circle cx="84.59" cy="211.67" r="2.7" fill="#f18a1f" stroke="#000" stroke-width="0.5"/>
<circle cx="88.15" cy="211.82" r="2.7" fill="#f18a1f" stroke="#000" stroke-width="0.5"/>
<circle cx="91.70" cy="211.96" r="2.7" fill="#f18a1f" stroke="#000" stroke-width="0.5"/>
<circle cx="95.25" cy="212.10" r="2.7" fill="#f18a1f" stroke="#000" stroke-width="0.5"/>
<circle cx="98.81" cy="212.26" r="2.7" fill="#f18a1f" stroke="#000" stroke-width="0.5"/>
<circle cx="102.36" cy="212.46" r="2.7" fill="#f18a1f" stroke="#000" stroke-width="0.5"/>
<circle cx="105.91" cy="212.64" r="2.7" fill="#f18a1f" stroke="#000" stroke-width="0.5"/>
<circle cx="109.47" cy="212.78" r="2.7" fill="#f18a1f" stroke="#000" stroke-width="0.5"/>
<circle cx="113.02" cy="212.84" r="2.7" fill="#f18a1f" stroke="#000" stroke-width="0.5"/>
<circle cx="116.58" cy="212.53" r="2.7" fill="#f18a1f" stroke="#000" stroke-width="0.5"/>
<circle cx="120.13" cy="209.91" r="2.7" fill="#f18a1f" stroke="#000" stroke-width="0.5"/>
<circle cx="123.68" cy="207.71" r="2.7" fill="#f18a1f" stroke="#000" stroke-width="0.5"/>
<circle cx="127.24" cy="204.58" r="2.7" fill="#f18a1f" stroke="#000" stroke-width="0.5"/>
<circle cx="130.79" cy="200.33" r="2.7" fill="#f18a1f" stroke="#000" stroke-width="0.5"/>
<circle cx="134.34" cy="193.40" r="2.7" fill="#f18a1f" stroke="#000" stroke-width="0.5"/>
<circle cx="137.90" cy="189.51" r="2.7" fill="#f18a1f" stroke="#000" stroke-width="0.5"/>
<circle cx="141.45" cy="188.23" r="2.7" fill="#f18a1f" stroke="#000" stroke-width="0.5"/>
<circle cx="145.00" cy="185.51" r="2.7" fill="#f18a1f" stroke="#000" stroke-width="0.5"/>
<circle cx="148.56" cy="180.33" r="2.7" fill="#f18a1f" stroke="#000" stroke-width="0.5"/>
<circle cx="152.11" cy="177.10" r="2.7" fill="#f18a1f" stroke="#000" stroke-width="0.5"/>
<circle cx="155.67" cy="178.23" r="2.7" fill="#f18a1f" stroke="#000" stroke-width="0.5"/>
<circle cx="159.22" cy="178.63" r="2.7" fill="#f18a1f" stroke="#000" stroke-width="0.5"/>
<circle cx="162.77" cy="178.90" r="2.7" fill="#f18a1f" stroke="#000" stroke-width="0.5"/>
<circle cx="166.33" cy="179.00" r="2.7" fill="#f18a1f" stroke="#000" stroke-width="0.5"/>
<circle cx="169.88" cy="175.00" r="2.7" fill="#f18a1f" stroke="#000" stroke-width="0.5"/>
<circle cx="173.44" cy="165.82" r="2.7" fill="#f18a1f" stroke="#000" stroke-width="0.5"/>
<circle cx="176.99" cy="154.49" r="2.7" fill="#f18a1f" stroke="#000" stroke-width="0.5"/>
<circle cx="180.54" cy="141.98" r="2.7" fill="#f18a1f" stroke="#000" stroke-width="0.5"/>
<circle cx="184.10" cy="134.61" r="2.7" fill="#f18a1f" stroke="#000" stroke-width="0.5"/>
<circle cx="187.65" cy="128.95" r="2.7" fill="#f18a1f" stroke="#000" stroke-width="0.5"/>
<circle cx="191.20" cy="126.73" r="2.7" fill="#f18a1f" stroke="#000" stroke-width="0.5"/>
<circle cx="194.76" cy="125.64" r="2.7" fill="#f18a1f" stroke="#000" stroke-width="0.5"/>
<circle cx="198.31" cy="123.84" r="2.7" fill="#f18a1f" stroke="#000" stroke-width="0.5"/>
<circle cx="201.86" cy="120.73" r="2.7" fill="#f18a1f" stroke="#000" stroke-width="0.5"/>
<circle cx="205.42" cy="120.34" r="2.7" fill="#f18a1f" stroke="#000" stroke-width="0.5"/>
<circle cx="208.97" cy="120.47" r="2.7" fill="#f18a1f" stroke="#000" stroke-width="0.5"/>
<circle cx="212.53" cy="121.73" r="2.7" fill="#f18a1f" stroke="#000" stroke-width="0.5"/>
<circle cx="216.08" cy="122.87" r="2.7" fill="#f18a1f" stroke="#000" stroke-width="0.5"/>
<circle cx="219.63" cy="124.35" r="2.7" fill="#f18a1f" stroke="#000" stroke-width="0.5"/>
<circle cx="223.19" cy="126.05" r="2.7" fill="#f18a1f" stroke="#000" stroke-width="0.5"/>
<circle cx="226.74" cy="127.74" r="2.7" fill="#f18a1f" stroke="#000" stroke-width="0.5"/>
<circle cx="230.30" cy="129.52" r="2.7" fill="#f18a1f" stroke="#000" stroke-width="0.5"/>
<circle cx="233.85" cy="130.08" r="2.7" fill="#f18a1f" stroke="#000" stroke-width="0.5"/>
<circle cx="237.40" cy="131.41" r="2.7" fill="#f18a1f" stroke="#000" stroke-width="0.5"/>
<circle cx="240.96" cy="133.09" r="2.7" fill="#f18a1f" stroke="#000" stroke-width="0.5"/>
<circle cx="244.51" cy="134.23" r="2.7" fill="#f18a1f" stroke="#000" stroke-width="0.5"/>
<circle cx="248.06" cy="135.52" r="2.7" fill="#f18a1f" stroke="#000" stroke-width="0.5"/>
<circle cx="251.62" cy="137.82" r="2.7" fill="#f18a1f" stroke="#000" stroke-width="0.5"/>
<circle cx="255.17" cy="141.22" r="2.7" fill="#f18a1f" stroke="#000" stroke-width="0.5"/>
<circle cx="258.73" cy="142.79" r="2.7" fill="#f18a1f" stroke="#000" stroke-width="0.5"/>
<circle cx="262.28" cy="142.85" r="2.7" fill="#f18a1f" stroke="#000" stroke-width="0.5"/>
<circle cx="265.83" cy="142.35" r="2.7" fill="#f18a1f" stroke="#000" stroke-width="0.5"/>
<circle cx="269.39" cy="140.90" r="2.7" fill="#f18a1f" stroke="#000" stroke-width="0.5"/>
<circle cx="272.94" cy="138.21" r="2.7" fill="#f18a1f" stroke="#000" stroke-width="0.5"/>
<circle cx="276.49" cy="135.39" r="2.7" fill="#f18a1f" stroke="#000" stroke-width="0.5"/>
<circle cx="280.05" cy="133.56" r="2.7" fill="#f18a1f" stroke="#000" stroke-width="0.5"/>
<circle cx="283.60" cy="132.90" r="2.7" fill="#f18a1f" stroke="#000" stroke-width="0.5"/>
<circle cx="287.16" cy="132.90" r="2.7" fill="#f18a1f" stroke="#000" stroke-width="0.5"/>
<circle cx="290.71" cy="132.99" r="2.7" fill="#f18a1f" stroke="#000" stroke-width="0.5"/>
<circle cx="294.26" cy="133.93" r="2.7" fill="#f18a1f" stroke="#000" stroke-width="0.5"/>
<circle cx="297.82" cy="134.93" r="2.7" fill="#f18a1f" stroke="#000" stroke-width="0.5"/>
<circle cx="301.37" cy="135.89" r="2.7" fill="#f18a1f" stroke="#000" stroke-width="0.5"/>
<circle cx="304.92" cy="136.68" r="2.7" fill="#f18a1f" stroke="#000" stroke-width="0.5"/>
<circle cx="308.48" cy="137.35" r="2.7" fill="#f18a1f" stroke="#000" stroke-width="0.5"/>
<circle cx="312.03" cy="137.96" r="2.7" fill="#f18a1f" stroke="#000" stroke-width="0.5"/>
<circle cx="315.58" cy="138.52" r="2.7" fill="#f18a1f" stroke="#000" stroke-width="0.5"/>
<circle cx="319.14" cy="139.06" r="2.7" fill="#f18a1f" stroke="#000" stroke-width="0.5"/>
<circle cx="322.69" cy="139.59" r="2.7" fill="#f18a1f" stroke="#000" stroke-width="0.5"/>
<circle cx="326.25" cy="140.10" r="2.7" fill="#f18a1f" stroke="#000" stroke-width="0.5"/>
<rect x="234.6" y="2.5" width="97.7" height="82.8" fill="#fff" stroke="#444" stroke-width="0.9"/>
<path d="M240.1 12.45H258.9" stroke="#777" stroke-width="1"/>
<circle cx="249.3" cy="12.45" r="2.75" fill="#ffffff" stroke="#000" stroke-width="0.55"/>
<text x="263.1" y="15.35" font-family="'Liberation Sans', Arial, sans-serif" font-weight="bold" font-size="8" fill="#111">not CJD (n=100)</text>
<path d="M240.1 22.80H258.9" stroke="#777" stroke-width="1"/>
<circle cx="249.3" cy="22.80" r="2.75" fill="#000000" stroke="#000" stroke-width="0.55"/>
<text x="263.1" y="25.70" font-family="'Liberation Sans', Arial, sans-serif" font-weight="bold" font-size="8" fill="#111">MM1 (n=40)</text>
<path d="M240.1 33.15H258.9" stroke="#777" stroke-width="1"/>
<circle cx="249.3" cy="33.15" r="2.75" fill="#117a11" stroke="#000" stroke-width="0.55"/>
<text x="263.1" y="36.05" font-family="'Liberation Sans', Arial, sans-serif" font-weight="bold" font-size="8" fill="#111">VV2 (n=33)</text>
<path d="M240.1 43.50H258.9" stroke="#777" stroke-width="1"/>
<circle cx="249.3" cy="43.50" r="2.75" fill="#b30000" stroke="#000" stroke-width="0.55"/>
<text x="263.1" y="46.40" font-family="'Liberation Sans', Arial, sans-serif" font-weight="bold" font-size="8" fill="#111">MV2K (n=24)</text>
<path d="M240.1 53.85H258.9" stroke="#777" stroke-width="1"/>
<circle cx="249.3" cy="53.85" r="2.75" fill="#5e0fbf" stroke="#000" stroke-width="0.55"/>
<text x="263.1" y="56.75" font-family="'Liberation Sans', Arial, sans-serif" font-weight="bold" font-size="8" fill="#111">MM2T (n=3)</text>
<path d="M240.1 64.20H258.9" stroke="#777" stroke-width="1"/>
<circle cx="249.3" cy="64.20" r="2.75" fill="#33c4c4" stroke="#000" stroke-width="0.55"/>
<text x="263.1" y="67.10" font-family="'Liberation Sans', Arial, sans-serif" font-weight="bold" font-size="8" fill="#111">MM2C (n=6)</text>
<path d="M240.1 74.55H258.9" stroke="#777" stroke-width="1"/>
<circle cx="249.3" cy="74.55" r="2.75" fill="#f18a1f" stroke="#000" stroke-width="0.55"/>
<text x="263.1" y="77.45" font-family="'Liberation Sans', Arial, sans-serif" font-weight="bold" font-size="8" fill="#111">VPSPr (n=3)</text>
<path d="M393.50 18.30V223.40H678.70" stroke="#333" stroke-width="0.9" fill="none"/>
<path d="M390.90 223.40H393.50M390.90 172.12H393.50M390.90 120.85H393.50M390.90 69.58H393.50M390.90 18.30H393.50M393.50 223.40V225.80M441.03 223.40V225.80M488.57 223.40V225.80M536.10 223.40V225.80M583.63 223.40V225.80M631.17 223.40V225.80M678.70 223.40V225.80" stroke="#333" stroke-width="0.9" fill="none"/>
<text x="385.90" y="226.70" text-anchor="end" font-family="'Liberation Sans', Arial, sans-serif" font-size="8.5" fill="#111">0</text>
<text x="385.90" y="175.43" text-anchor="end" font-family="'Liberation Sans', Arial, sans-serif" font-size="8.5" fill="#111">1000</text>
<text x="385.90" y="124.15" text-anchor="end" font-family="'Liberation Sans', Arial, sans-serif" font-size="8.5" fill="#111">2000</text>
<text x="385.90" y="72.88" text-anchor="end" font-family="'Liberation Sans', Arial, sans-serif" font-size="8.5" fill="#111">3000</text>
<text x="385.90" y="21.60" text-anchor="end" font-family="'Liberation Sans', Arial, sans-serif" font-size="8.5" fill="#111">4000</text>
<text x="393.50" y="238.6" text-anchor="middle" font-family="'Liberation Sans', Arial, sans-serif" font-size="8.5" fill="#111">0</text>
<text x="441.03" y="238.6" text-anchor="middle" font-family="'Liberation Sans', Arial, sans-serif" font-size="8.5" fill="#111">10</text>
<text x="488.57" y="238.6" text-anchor="middle" font-family="'Liberation Sans', Arial, sans-serif" font-size="8.5" fill="#111">20</text>
<text x="536.10" y="238.6" text-anchor="middle" font-family="'Liberation Sans', Arial, sans-serif" font-size="8.5" fill="#111">30</text>
<text x="583.63" y="238.6" text-anchor="middle" font-family="'Liberation Sans', Arial, sans-serif" font-size="8.5" fill="#111">40</text>
<text x="631.17" y="238.6" text-anchor="middle" font-family="'Liberation Sans', Arial, sans-serif" font-size="8.5" fill="#111">50</text>
<text x="678.70" y="238.6" text-anchor="middle" font-family="'Liberation Sans', Arial, sans-serif" font-size="8.5" fill="#111">60</text>
<text x="536.50" y="251.3" text-anchor="middle" font-family="'Liberation Sans', Arial, sans-serif" font-weight="bold" font-size="11" fill="#111">Time (hours)</text>
<text transform="translate(363.6,120.9) rotate(-90)" text-anchor="middle" font-family="'Liberation Sans', Arial, sans-serif" font-weight="bold" font-size="10.5" fill="#111">RFU</text>

<path d="M404.12 210.58V208.83M401.32 208.83H406.92M407.66 210.58V208.33M404.86 208.33H410.46M411.21 210.30V207.46M408.41 207.46H414.01M414.75 207.40V203.59M411.95 203.59H417.55M418.29 203.92V197.88M415.49 197.88H421.09M421.83 196.74V187.76M419.03 187.76H424.63M425.37 188.63V176.66M422.57 176.66H428.17M428.91 180.79V166.42M426.11 166.42H431.71M432.45 164.61V149.02M429.65 149.02H435.25M435.99 144.69V128.37M433.19 128.37H438.79M439.54 125.64V108.67M436.74 108.67H442.34M443.08 108.80V91.33M440.28 91.33H445.88M446.62 96.08V78.27M443.82 78.27H449.42M450.16 80.19V62.24M447.36 62.24H452.96M453.70 68.97V51.48M450.90 51.48H456.50M457.24 60.50V44.37M454.44 44.37H460.04M460.78 55.32V41.14M457.98 41.14H463.58M464.32 50.09V38.08M461.52 38.08H467.12M467.87 46.50V36.54M465.07 36.54H470.67M471.41 42.95V34.56M468.61 34.56H474.21M474.95 40.71V33.10M472.15 33.10H477.75M478.49 42.10V34.90M475.69 34.90H481.29M482.03 44.00V37.19M479.23 37.19H484.83M485.57 46.33V39.87M482.77 39.87H488.37M489.11 48.79V42.64M486.31 42.64H491.91M492.65 51.32V45.45M489.85 45.45H495.45M496.20 53.99V48.36M493.40 48.36H499.00M499.74 56.59V51.15M496.94 51.15H502.54M503.28 58.97V53.68M500.48 53.68H506.08M506.82 61.25V56.06M504.02 56.06H509.62M510.36 63.57V58.43M507.56 58.43H513.16M513.90 65.98V60.85M511.10 60.85H516.70M517.44 68.44V63.32M514.64 63.32H520.24M520.98 70.99V65.87M518.18 65.87H523.78M524.53 73.71V68.58M521.73 68.58H527.33M528.07 76.57V71.45M525.27 71.45H530.87M531.61 79.30V74.18M528.81 74.18H534.41M535.15 81.83V76.70M532.35 76.70H537.95M538.69 84.25V79.13M535.89 79.13H541.49M542.23 86.58V81.45M539.43 81.45H545.03M545.77 88.82V83.69M542.97 83.69H548.57M549.31 91.00V85.88M546.51 85.88H552.11M552.86 93.11V87.98M550.06 87.98H555.66M556.40 95.12V90.00M553.60 90.00H559.20M559.94 97.04V91.91M557.14 91.91H562.74M563.48 98.87V93.74M560.68 93.74H566.28M567.02 100.65V95.52M564.22 95.52H569.82M570.56 102.36V97.23M567.76 97.23H573.36M574.10 104.01V98.88M571.30 98.88H576.90M577.64 105.60V100.47M574.84 100.47H580.44M581.19 107.12V101.99M578.39 101.99H583.99M584.73 108.54V103.41M581.93 103.41H587.53M588.27 109.88V104.75M585.47 104.75H591.07M591.81 111.17V106.06M589.01 106.06H594.61M595.35 112.47V107.36M592.55 107.36H598.15M598.89 113.80V108.71M596.09 108.71H601.69M602.43 115.22V110.15M599.63 110.15H605.23M605.97 116.73V111.69M603.17 111.69H608.77M609.52 118.32V113.30M606.72 113.30H612.32M613.06 119.95V114.96M610.26 114.96H615.86M616.60 121.59V116.63M613.80 116.63H619.40M620.14 123.20V118.28M617.34 118.28H622.94M623.68 124.75V119.87M620.88 119.87H626.48M627.22 126.25V121.41M624.42 121.41H630.02M630.76 127.72V122.93M627.96 122.93H633.56M634.30 129.18V124.44M631.50 124.44H637.10M637.85 130.60V125.91M635.05 125.91H640.65M641.39 132.00V127.36M638.59 127.36H644.19M644.93 133.35V128.77M642.13 128.77H647.73M648.47 134.68V130.14M645.67 130.14H651.27M652.01 135.98V131.50M649.21 131.50H654.81M655.55 137.25V132.83M652.75 132.83H658.35M659.09 138.51V134.15M656.29 134.15H661.89M662.63 139.73V135.43M659.83 135.43H665.43M666.17 140.93V136.70M663.37 136.70H668.97M669.72 142.11V137.93M666.92 137.93H672.52M673.26 143.25V139.13M670.46 139.13H676.06" stroke="#555" stroke-width="0.8" fill="none"/>
<path d="M404.12 210.84V209.27M401.32 209.27H406.92M407.66 201.81V197.20M404.86 197.20H410.46M411.21 175.51V164.24M408.41 164.24H414.01M414.75 130.80V111.83M411.95 111.83H417.55M418.29 97.01V75.99M415.49 75.99H421.09M421.83 71.32V53.78M419.03 53.78H424.63M425.37 47.55V31.23M422.57 31.23H428.17M428.91 40.30V24.84M426.11 24.84H431.71M432.45 38.45V24.22M429.65 24.22H435.25M435.99 39.12V26.20M433.19 26.20H438.79M439.54 41.10V29.59M436.74 29.59H442.34M443.08 43.73V33.75M440.28 33.75H445.88M446.62 45.72V37.10M443.82 37.10H449.42M450.16 47.63V39.89M447.36 39.89H452.96M453.70 50.58V43.27M450.90 43.27H456.50M457.24 54.80V47.88M454.44 47.88H460.04M460.78 59.11V52.54M457.98 52.54H463.58M464.32 62.19V55.93M461.52 55.93H467.12M467.87 64.98V59.00M465.07 59.00H470.67M471.41 67.90V62.15M468.61 62.15H474.21M474.95 70.83V65.27M472.15 65.27H477.75M478.49 73.80V68.41M475.69 68.41H481.29M482.03 76.67V71.41M479.23 71.41H484.83M485.57 79.36V74.19M482.77 74.19H488.37M489.11 82.07V76.95M486.31 76.95H491.91M492.65 85.00V79.92M489.85 79.92H495.45M496.20 88.10V83.06M493.40 83.06H499.00M499.74 91.21V86.21M496.94 86.21H502.54M503.28 94.16V89.21M500.48 89.21H506.08M506.82 96.81V91.90M504.02 91.90H509.62M510.36 99.22V94.34M507.56 94.34H513.16M513.90 101.48V96.64M511.10 96.64H516.70M517.44 103.63V98.83M514.64 98.83H520.24M520.98 105.71V100.94M518.18 100.94H523.78M524.53 107.73V103.00M521.73 103.00H527.33M528.07 109.73V105.03M525.27 105.03H530.87M531.61 111.74V107.07M528.81 107.07H534.41M535.15 113.76V109.12M532.35 109.12H537.95M538.69 115.76V111.15M535.89 111.15H541.49M542.23 117.74V113.16M539.43 113.16H545.03M545.77 119.68V115.13M542.97 115.13H548.57M549.31 121.60V117.08M546.51 117.08H552.11M552.86 123.49V118.99M550.06 118.99H555.66M556.40 125.35V120.87M553.60 120.87H559.20M559.94 127.17V122.72M557.14 122.72H562.74M563.48 128.97V124.54M560.68 124.54H566.28M567.02 130.74V126.33M564.22 126.33H569.82M570.56 132.48V128.09M567.76 128.09H573.36M574.10 134.17V129.81M571.30 129.81H576.90M577.64 135.81V131.47M574.84 131.47H580.44M581.19 137.39V133.06M578.39 133.06H583.99M584.73 138.91V134.60M581.93 134.60H587.53M588.27 140.39V136.10M585.47 136.10H591.07M591.81 141.82V137.55M589.01 137.55H594.61M595.35 143.22V138.96M592.55 138.96H598.15M598.89 144.59V140.34M596.09 140.34H601.69M602.43 145.92V141.69M599.63 141.69H605.23M605.97 147.24V143.02M603.17 143.02H608.77M609.52 148.55V144.34M606.72 144.34H612.32M613.06 149.82V145.63M610.26 145.63H615.86M616.60 151.05V146.87M613.80 146.87H619.40M620.14 152.22V148.05M617.34 148.05H622.94M623.68 153.31V149.14M620.88 149.14H626.48M627.22 154.31V150.15M624.42 150.15H630.02M630.76 155.24V151.09M627.96 151.09H633.56M634.30 156.13V151.99M631.50 151.99H637.10M637.85 156.98V152.85M635.05 152.85H640.65M641.39 157.82V153.69M638.59 153.69H644.19M644.93 158.66V154.54M642.13 154.54H647.73M648.47 159.51V155.40M645.67 155.40H651.27M652.01 160.36V156.25M649.21 156.25H654.81M655.55 161.20V157.09M652.75 157.09H658.35M659.09 162.03V157.92M656.29 157.92H661.89M662.63 162.85V158.74M659.83 158.74H665.43M666.17 163.66V159.56M663.37 159.56H668.97M669.72 164.46V160.36M666.92 160.36H672.52M673.26 165.25V161.15M670.46 161.15H676.06" stroke="#666" stroke-width="0.8" fill="none"/>
<path d="M404.12 210.55V208.80M401.32 208.80H406.92M407.66 210.57V208.33M404.86 208.33H410.46M411.21 210.58V207.74M408.41 207.74H414.01M414.75 210.50V206.72M411.95 206.72H417.55M418.29 204.55V198.71M415.49 198.71H421.09M421.83 196.79V188.18M419.03 188.18H424.63M425.37 185.42V173.89M422.57 173.89H428.17M428.91 168.43V154.37M426.11 154.37H431.71M432.45 149.63V133.89M429.65 133.89H435.25M435.99 134.23V117.14M433.19 117.14H438.79M439.54 115.97V97.60M436.74 97.60H442.34M443.08 91.01V71.57M440.28 71.57H445.88M446.62 73.41V53.22M443.82 53.22H449.42M450.16 61.42V40.92M447.36 40.92H452.96M453.70 55.14V35.00M450.90 35.00H456.50M457.24 53.18V34.13M454.44 34.13H460.04M460.78 51.78V34.13M457.98 34.13H463.58M464.32 50.60V34.27M461.52 34.27H467.12M467.87 49.54V34.04M465.07 34.04H470.67M471.41 51.40V35.96M468.61 35.96H474.21M474.95 53.37V37.54M472.15 37.54H477.75M478.49 55.22V38.80M475.69 38.80H481.29M482.03 57.25V40.17M479.23 40.17H484.83M485.57 59.78V42.12M482.77 42.12H488.37M489.11 62.61V44.63M486.31 44.63H491.91M492.65 65.14V46.97M489.85 46.97H495.45M496.20 67.58V49.22M493.40 49.22H499.00M499.74 70.11V51.58M496.94 51.58H502.54M503.28 72.91V54.21M500.48 54.21H506.08M506.82 75.86V57.01M504.02 57.01H509.62M510.36 78.70V59.71M507.56 59.71H513.16M513.90 81.30V62.19M511.10 62.19H516.70M517.44 83.78V64.56M514.64 64.56H520.24M520.98 86.14V66.84M518.18 66.84H523.78M524.53 88.42V69.04M521.73 69.04H527.33M528.07 90.60V71.17M525.27 71.17H530.87M531.61 92.67V73.20M528.81 73.20H534.41M535.15 94.56V75.07M532.35 75.07H537.95M538.69 96.27V76.80M535.89 76.80H541.49M542.23 98.02V78.61M539.43 78.61H545.03M545.77 99.99V80.70M542.97 80.70H548.57M549.31 102.19V83.06M546.51 83.06H552.11M552.86 104.48V85.54M550.06 85.54H555.66M556.40 106.73V88.02M553.60 88.02H559.20M559.94 108.82V90.37M557.14 90.37H562.74M563.48 110.83V92.65M560.68 92.65H566.28M567.02 112.79V94.91M564.22 94.91H569.82M570.56 114.70V97.13M567.76 97.13H573.36M574.10 116.53V99.28M571.30 99.28H576.90M577.64 118.28V101.34M574.84 101.34H580.44M581.19 119.91V103.29M578.39 103.29H583.99M584.73 121.45V105.14M581.93 105.14H587.53M588.27 122.92V106.96M585.47 106.96H591.07M591.81 124.32V108.78M589.01 108.78H594.61M595.35 125.68V110.60M592.55 110.60H598.15M598.89 127.01V112.43M596.09 112.43H601.69M602.43 128.33V114.28M599.63 114.28H605.23M605.97 129.64V116.12M603.17 116.12H608.77M609.52 130.93V117.95M606.72 117.95H612.32M613.06 132.20V119.75M610.26 119.75H615.86M616.60 133.44V121.50M613.80 121.50H619.40M620.14 134.64V123.18M617.34 123.18H622.94M623.68 135.81V124.80M620.88 124.80H626.48M627.22 136.96V126.34M624.42 126.34H630.02M630.76 138.11V127.82M627.96 127.82H633.56M634.30 139.23V129.23M631.50 129.23H637.10M637.85 140.31V130.59M635.05 130.59H640.65M641.39 141.33V131.87M638.59 131.87H644.19M644.93 142.25V133.06M642.13 133.06H647.73M648.47 143.09V134.14M645.67 134.14H651.27M652.01 143.90V135.18M649.21 135.18H654.81M655.55 144.68V136.18M652.75 136.18H658.35M659.09 145.41V137.11M656.29 137.11H661.89M662.63 146.11V137.99M659.83 137.99H665.43M666.17 146.75V138.79M663.37 138.79H668.97M669.72 147.34V139.51M666.92 139.51H672.52M673.26 147.87V140.16M670.46 140.16H676.06" stroke="#777" stroke-width="0.8" fill="none"/>
<polyline points="393.50,211.35 397.04,211.44 400.58,211.52 404.12,211.61 407.66,211.69 411.21,211.77 414.75,211.85 418.29,211.93 421.83,212.01 425.37,212.08 428.91,212.15 432.45,212.22 435.99,212.29 439.54,212.35 443.08,212.41 446.62,212.47 450.16,212.53 453.70,212.58 457.24,212.64 460.78,212.69 464.32,212.75 467.87,212.80 471.41,212.85 474.95,212.90 478.49,212.95 482.03,213.00 485.57,213.05 489.11,213.09 492.65,213.14 496.20,213.19 499.74,213.23 503.28,213.27 506.82,213.32 510.36,213.36 513.90,213.40 517.44,213.45 520.98,213.49 524.53,213.53 528.07,213.57 531.61,213.61 535.15,213.65 538.69,213.69 542.23,213.73 545.77,213.76 549.31,213.80 552.86,213.84 556.40,213.88 559.94,213.92 563.48,213.95 567.02,213.99 570.56,214.03 574.10,214.07 577.64,214.10 581.19,214.14 584.73,214.17 588.27,214.21 591.81,214.24 595.35,214.28 598.89,214.31 602.43,214.35 605.97,214.38 609.52,214.41 613.06,214.45 616.60,214.48 620.14,214.51 623.68,214.54 627.22,214.57 630.76,214.60 634.30,214.63 637.85,214.66 641.39,214.69 644.93,214.72 648.47,214.75 652.01,214.78 655.55,214.80 659.09,214.83 662.63,214.86 666.17,214.88 669.72,214.91 673.26,214.93" stroke="#333" stroke-width="0.5" fill="none"/>
<circle cx="393.50" cy="211.35" r="2.5" fill="#fff" stroke="#000" stroke-width="0.5"/>
<circle cx="397.04" cy="211.44" r="2.5" fill="#fff" stroke="#000" stroke-width="0.5"/>
<circle cx="400.58" cy="211.52" r="2.5" fill="#fff" stroke="#000" stroke-width="0.5"/>
<circle cx="404.12" cy="211.61" r="2.5" fill="#fff" stroke="#000" stroke-width="0.5"/>
<circle cx="407.66" cy="211.69" r="2.5" fill="#fff" stroke="#000" stroke-width="0.5"/>
<circle cx="411.21" cy="211.77" r="2.5" fill="#fff" stroke="#000" stroke-width="0.5"/>
<circle cx="414.75" cy="211.85" r="2.5" fill="#fff" stroke="#000" stroke-width="0.5"/>
<circle cx="418.29" cy="211.93" r="2.5" fill="#fff" stroke="#000" stroke-width="0.5"/>
<circle cx="421.83" cy="212.01" r="2.5" fill="#fff" stroke="#000" stroke-width="0.5"/>
<circle cx="425.37" cy="212.08" r="2.5" fill="#fff" stroke="#000" stroke-width="0.5"/>
<circle cx="428.91" cy="212.15" r="2.5" fill="#fff" stroke="#000" stroke-width="0.5"/>
<circle cx="432.45" cy="212.22" r="2.5" fill="#fff" stroke="#000" stroke-width="0.5"/>
<circle cx="435.99" cy="212.29" r="2.5" fill="#fff" stroke="#000" stroke-width="0.5"/>
<circle cx="439.54" cy="212.35" r="2.5" fill="#fff" stroke="#000" stroke-width="0.5"/>
<circle cx="443.08" cy="212.41" r="2.5" fill="#fff" stroke="#000" stroke-width="0.5"/>
<circle cx="446.62" cy="212.47" r="2.5" fill="#fff" stroke="#000" stroke-width="0.5"/>
<circle cx="450.16" cy="212.53" r="2.5" fill="#fff" stroke="#000" stroke-width="0.5"/>
<circle cx="453.70" cy="212.58" r="2.5" fill="#fff" stroke="#000" stroke-width="0.5"/>
<circle cx="457.24" cy="212.64" r="2.5" fill="#fff" stroke="#000" stroke-width="0.5"/>
<circle cx="460.78" cy="212.69" r="2.5" fill="#fff" stroke="#000" stroke-width="0.5"/>
<circle cx="464.32" cy="212.75" r="2.5" fill="#fff" stroke="#000" stroke-width="0.5"/>
<circle cx="467.87" cy="212.80" r="2.5" fill="#fff" stroke="#000" stroke-width="0.5"/>
<circle cx="471.41" cy="212.85" r="2.5" fill="#fff" stroke="#000" stroke-width="0.5"/>
<circle cx="474.95" cy="212.90" r="2.5" fill="#fff" stroke="#000" stroke-width="0.5"/>
<circle cx="478.49" cy="212.95" r="2.5" fill="#fff" stroke="#000" stroke-width="0.5"/>
<circle cx="482.03" cy="213.00" r="2.5" fill="#fff" stroke="#000" stroke-width="0.5"/>
<circle cx="485.57" cy="213.05" r="2.5" fill="#fff" stroke="#000" stroke-width="0.5"/>
<circle cx="489.11" cy="213.09" r="2.5" fill="#fff" stroke="#000" stroke-width="0.5"/>
<circle cx="492.65" cy="213.14" r="2.5" fill="#fff" stroke="#000" stroke-width="0.5"/>
<circle cx="496.20" cy="213.19" r="2.5" fill="#fff" stroke="#000" stroke-width="0.5"/>
<circle cx="499.74" cy="213.23" r="2.5" fill="#fff" stroke="#000" stroke-width="0.5"/>
<circle cx="503.28" cy="213.27" r="2.5" fill="#fff" stroke="#000" stroke-width="0.5"/>
<circle cx="506.82" cy="213.32" r="2.5" fill="#fff" stroke="#000" stroke-width="0.5"/>
<circle cx="510.36" cy="213.36" r="2.5" fill="#fff" stroke="#000" stroke-width="0.5"/>
<circle cx="513.90" cy="213.40" r="2.5" fill="#fff" stroke="#000" stroke-width="0.5"/>
<circle cx="517.44" cy="213.45" r="2.5" fill="#fff" stroke="#000" stroke-width="0.5"/>
<circle cx="520.98" cy="213.49" r="2.5" fill="#fff" stroke="#000" stroke-width="0.5"/>
<circle cx="524.53" cy="213.53" r="2.5" fill="#fff" stroke="#000" stroke-width="0.5"/>
<circle cx="528.07" cy="213.57" r="2.5" fill="#fff" stroke="#000" stroke-width="0.5"/>
<circle cx="531.61" cy="213.61" r="2.5" fill="#fff" stroke="#000" stroke-width="0.5"/>
<circle cx="535.15" cy="213.65" r="2.5" fill="#fff" stroke="#000" stroke-width="0.5"/>
<circle cx="538.69" cy="213.69" r="2.5" fill="#fff" stroke="#000" stroke-width="0.5"/>
<circle cx="542.23" cy="213.73" r="2.5" fill="#fff" stroke="#000" stroke-width="0.5"/>
<circle cx="545.77" cy="213.76" r="2.5" fill="#fff" stroke="#000" stroke-width="0.5"/>
<circle cx="549.31" cy="213.80" r="2.5" fill="#fff" stroke="#000" stroke-width="0.5"/>
<circle cx="552.86" cy="213.84" r="2.5" fill="#fff" stroke="#000" stroke-width="0.5"/>
<circle cx="556.40" cy="213.88" r="2.5" fill="#fff" stroke="#000" stroke-width="0.5"/>
<circle cx="559.94" cy="213.92" r="2.5" fill="#fff" stroke="#000" stroke-width="0.5"/>
<circle cx="563.48" cy="213.95" r="2.5" fill="#fff" stroke="#000" stroke-width="0.5"/>
<circle cx="567.02" cy="213.99" r="2.5" fill="#fff" stroke="#000" stroke-width="0.5"/>
<circle cx="570.56" cy="214.03" r="2.5" fill="#fff" stroke="#000" stroke-width="0.5"/>
<circle cx="574.10" cy="214.07" r="2.5" fill="#fff" stroke="#000" stroke-width="0.5"/>
<circle cx="577.64" cy="214.10" r="2.5" fill="#fff" stroke="#000" stroke-width="0.5"/>
<circle cx="581.19" cy="214.14" r="2.5" fill="#fff" stroke="#000" stroke-width="0.5"/>
<circle cx="584.73" cy="214.17" r="2.5" fill="#fff" stroke="#000" stroke-width="0.5"/>
<circle cx="588.27" cy="214.21" r="2.5" fill="#fff" stroke="#000" stroke-width="0.5"/>
<circle cx="591.81" cy="214.24" r="2.5" fill="#fff" stroke="#000" stroke-width="0.5"/>
<circle cx="595.35" cy="214.28" r="2.5" fill="#fff" stroke="#000" stroke-width="0.5"/>
<circle cx="598.89" cy="214.31" r="2.5" fill="#fff" stroke="#000" stroke-width="0.5"/>
<circle cx="602.43" cy="214.35" r="2.5" fill="#fff" stroke="#000" stroke-width="0.5"/>
<circle cx="605.97" cy="214.38" r="2.5" fill="#fff" stroke="#000" stroke-width="0.5"/>
<circle cx="609.52" cy="214.41" r="2.5" fill="#fff" stroke="#000" stroke-width="0.5"/>
<circle cx="613.06" cy="214.45" r="2.5" fill="#fff" stroke="#000" stroke-width="0.5"/>
<circle cx="616.60" cy="214.48" r="2.5" fill="#fff" stroke="#000" stroke-width="0.5"/>
<circle cx="620.14" cy="214.51" r="2.5" fill="#fff" stroke="#000" stroke-width="0.5"/>
<circle cx="623.68" cy="214.54" r="2.5" fill="#fff" stroke="#000" stroke-width="0.5"/>
<circle cx="627.22" cy="214.57" r="2.5" fill="#fff" stroke="#000" stroke-width="0.5"/>
<circle cx="630.76" cy="214.60" r="2.5" fill="#fff" stroke="#000" stroke-width="0.5"/>
<circle cx="634.30" cy="214.63" r="2.5" fill="#fff" stroke="#000" stroke-width="0.5"/>
<circle cx="637.85" cy="214.66" r="2.5" fill="#fff" stroke="#000" stroke-width="0.5"/>
<circle cx="641.39" cy="214.69" r="2.5" fill="#fff" stroke="#000" stroke-width="0.5"/>
<circle cx="644.93" cy="214.72" r="2.5" fill="#fff" stroke="#000" stroke-width="0.5"/>
<circle cx="648.47" cy="214.75" r="2.5" fill="#fff" stroke="#000" stroke-width="0.5"/>
<circle cx="652.01" cy="214.78" r="2.5" fill="#fff" stroke="#000" stroke-width="0.5"/>
<circle cx="655.55" cy="214.80" r="2.5" fill="#fff" stroke="#000" stroke-width="0.5"/>
<circle cx="659.09" cy="214.83" r="2.5" fill="#fff" stroke="#000" stroke-width="0.5"/>
<circle cx="662.63" cy="214.86" r="2.5" fill="#fff" stroke="#000" stroke-width="0.5"/>
<circle cx="666.17" cy="214.88" r="2.5" fill="#fff" stroke="#000" stroke-width="0.5"/>
<circle cx="669.72" cy="214.91" r="2.5" fill="#fff" stroke="#000" stroke-width="0.5"/>
<circle cx="673.26" cy="214.93" r="2.5" fill="#fff" stroke="#000" stroke-width="0.5"/>
<polyline points="393.50,210.58 397.04,210.58 400.58,210.58 404.12,210.58 407.66,210.58 411.21,210.30 414.75,207.40 418.29,203.92 421.83,196.74 425.37,188.63 428.91,180.79 432.45,164.61 435.99,144.69 439.54,125.64 443.08,108.80 446.62,96.08 450.16,80.19 453.70,68.97 457.24,60.50 460.78,55.32 464.32,50.09 467.87,46.50 471.41,42.95 474.95,40.71 478.49,42.10 482.03,44.00 485.57,46.33 489.11,48.79 492.65,51.32 496.20,53.99 499.74,56.59 503.28,58.97 506.82,61.25 510.36,63.57 513.90,65.98 517.44,68.44 520.98,70.99 524.53,73.71 528.07,76.57 531.61,79.30 535.15,81.83 538.69,84.25 542.23,86.58 545.77,88.82 549.31,91.00 552.86,93.11 556.40,95.12 559.94,97.04 563.48,98.87 567.02,100.65 570.56,102.36 574.10,104.01 577.64,105.60 581.19,107.12 584.73,108.54 588.27,109.88 591.81,111.17 595.35,112.47 598.89,113.80 602.43,115.22 605.97,116.73 609.52,118.32 613.06,119.95 616.60,121.59 620.14,123.20 623.68,124.75 627.22,126.25 630.76,127.72 634.30,129.18 637.85,130.60 641.39,132.00 644.93,133.35 648.47,134.68 652.01,135.98 655.55,137.25 659.09,138.51 662.63,139.73 666.17,140.93 669.72,142.11 673.26,143.25" stroke="#333" stroke-width="0.5" fill="none"/>
<circle cx="393.50" cy="210.58" r="2.65" fill="#000" stroke="#000" stroke-width="0.5"/>
<circle cx="397.04" cy="210.58" r="2.65" fill="#000" stroke="#000" stroke-width="0.5"/>
<circle cx="400.58" cy="210.58" r="2.65" fill="#000" stroke="#000" stroke-width="0.5"/>
<circle cx="404.12" cy="210.58" r="2.65" fill="#000" stroke="#000" stroke-width="0.5"/>
<circle cx="407.66" cy="210.58" r="2.65" fill="#000" stroke="#000" stroke-width="0.5"/>
<circle cx="411.21" cy="210.30" r="2.65" fill="#000" stroke="#000" stroke-width="0.5"/>
<circle cx="414.75" cy="207.40" r="2.65" fill="#000" stroke="#000" stroke-width="0.5"/>
<circle cx="418.29" cy="203.92" r="2.65" fill="#000" stroke="#000" stroke-width="0.5"/>
<circle cx="421.83" cy="196.74" r="2.65" fill="#000" stroke="#000" stroke-width="0.5"/>
<circle cx="425.37" cy="188.63" r="2.65" fill="#000" stroke="#000" stroke-width="0.5"/>
<circle cx="428.91" cy="180.79" r="2.65" fill="#000" stroke="#000" stroke-width="0.5"/>
<circle cx="432.45" cy="164.61" r="2.65" fill="#000" stroke="#000" stroke-width="0.5"/>
<circle cx="435.99" cy="144.69" r="2.65" fill="#000" stroke="#000" stroke-width="0.5"/>
<circle cx="439.54" cy="125.64" r="2.65" fill="#000" stroke="#000" stroke-width="0.5"/>
<circle cx="443.08" cy="108.80" r="2.65" fill="#000" stroke="#000" stroke-width="0.5"/>
<circle cx="446.62" cy="96.08" r="2.65" fill="#000" stroke="#000" stroke-width="0.5"/>
<circle cx="450.16" cy="80.19" r="2.65" fill="#000" stroke="#000" stroke-width="0.5"/>
<circle cx="453.70" cy="68.97" r="2.65" fill="#000" stroke="#000" stroke-width="0.5"/>
<circle cx="457.24" cy="60.50" r="2.65" fill="#000" stroke="#000" stroke-width="0.5"/>
<circle cx="460.78" cy="55.32" r="2.65" fill="#000" stroke="#000" stroke-width="0.5"/>
<circle cx="464.32" cy="50.09" r="2.65" fill="#000" stroke="#000" stroke-width="0.5"/>
<circle cx="467.87" cy="46.50" r="2.65" fill="#000" stroke="#000" stroke-width="0.5"/>
<circle cx="471.41" cy="42.95" r="2.65" fill="#000" stroke="#000" stroke-width="0.5"/>
<circle cx="474.95" cy="40.71" r="2.65" fill="#000" stroke="#000" stroke-width="0.5"/>
<circle cx="478.49" cy="42.10" r="2.65" fill="#000" stroke="#000" stroke-width="0.5"/>
<circle cx="482.03" cy="44.00" r="2.65" fill="#000" stroke="#000" stroke-width="0.5"/>
<circle cx="485.57" cy="46.33" r="2.65" fill="#000" stroke="#000" stroke-width="0.5"/>
<circle cx="489.11" cy="48.79" r="2.65" fill="#000" stroke="#000" stroke-width="0.5"/>
<circle cx="492.65" cy="51.32" r="2.65" fill="#000" stroke="#000" stroke-width="0.5"/>
<circle cx="496.20" cy="53.99" r="2.65" fill="#000" stroke="#000" stroke-width="0.5"/>
<circle cx="499.74" cy="56.59" r="2.65" fill="#000" stroke="#000" stroke-width="0.5"/>
<circle cx="503.28" cy="58.97" r="2.65" fill="#000" stroke="#000" stroke-width="0.5"/>
<circle cx="506.82" cy="61.25" r="2.65" fill="#000" stroke="#000" stroke-width="0.5"/>
<circle cx="510.36" cy="63.57" r="2.65" fill="#000" stroke="#000" stroke-width="0.5"/>
<circle cx="513.90" cy="65.98" r="2.65" fill="#000" stroke="#000" stroke-width="0.5"/>
<circle cx="517.44" cy="68.44" r="2.65" fill="#000" stroke="#000" stroke-width="0.5"/>
<circle cx="520.98" cy="70.99" r="2.65" fill="#000" stroke="#000" stroke-width="0.5"/>
<circle cx="524.53" cy="73.71" r="2.65" fill="#000" stroke="#000" stroke-width="0.5"/>
<circle cx="528.07" cy="76.57" r="2.65" fill="#000" stroke="#000" stroke-width="0.5"/>
<circle cx="531.61" cy="79.30" r="2.65" fill="#000" stroke="#000" stroke-width="0.5"/>
<circle cx="535.15" cy="81.83" r="2.65" fill="#000" stroke="#000" stroke-width="0.5"/>
<circle cx="538.69" cy="84.25" r="2.65" fill="#000" stroke="#000" stroke-width="0.5"/>
<circle cx="542.23" cy="86.58" r="2.65" fill="#000" stroke="#000" stroke-width="0.5"/>
<circle cx="545.77" cy="88.82" r="2.65" fill="#000" stroke="#000" stroke-width="0.5"/>
<circle cx="549.31" cy="91.00" r="2.65" fill="#000" stroke="#000" stroke-width="0.5"/>
<circle cx="552.86" cy="93.11" r="2.65" fill="#000" stroke="#000" stroke-width="0.5"/>
<circle cx="556.40" cy="95.12" r="2.65" fill="#000" stroke="#000" stroke-width="0.5"/>
<circle cx="559.94" cy="97.04" r="2.65" fill="#000" stroke="#000" stroke-width="0.5"/>
<circle cx="563.48" cy="98.87" r="2.65" fill="#000" stroke="#000" stroke-width="0.5"/>
<circle cx="567.02" cy="100.65" r="2.65" fill="#000" stroke="#000" stroke-width="0.5"/>
<circle cx="570.56" cy="102.36" r="2.65" fill="#000" stroke="#000" stroke-width="0.5"/>
<circle cx="574.10" cy="104.01" r="2.65" fill="#000" stroke="#000" stroke-width="0.5"/>
<circle cx="577.64" cy="105.60" r="2.65" fill="#000" stroke="#000" stroke-width="0.5"/>
<circle cx="581.19" cy="107.12" r="2.65" fill="#000" stroke="#000" stroke-width="0.5"/>
<circle cx="584.73" cy="108.54" r="2.65" fill="#000" stroke="#000" stroke-width="0.5"/>
<circle cx="588.27" cy="109.88" r="2.65" fill="#000" stroke="#000" stroke-width="0.5"/>
<circle cx="591.81" cy="111.17" r="2.65" fill="#000" stroke="#000" stroke-width="0.5"/>
<circle cx="595.35" cy="112.47" r="2.65" fill="#000" stroke="#000" stroke-width="0.5"/>
<circle cx="598.89" cy="113.80" r="2.65" fill="#000" stroke="#000" stroke-width="0.5"/>
<circle cx="602.43" cy="115.22" r="2.65" fill="#000" stroke="#000" stroke-width="0.5"/>
<circle cx="605.97" cy="116.73" r="2.65" fill="#000" stroke="#000" stroke-width="0.5"/>
<circle cx="609.52" cy="118.32" r="2.65" fill="#000" stroke="#000" stroke-width="0.5"/>
<circle cx="613.06" cy="119.95" r="2.65" fill="#000" stroke="#000" stroke-width="0.5"/>
<circle cx="616.60" cy="121.59" r="2.65" fill="#000" stroke="#000" stroke-width="0.5"/>
<circle cx="620.14" cy="123.20" r="2.65" fill="#000" stroke="#000" stroke-width="0.5"/>
<circle cx="623.68" cy="124.75" r="2.65" fill="#000" stroke="#000" stroke-width="0.5"/>
<circle cx="627.22" cy="126.25" r="2.65" fill="#000" stroke="#000" stroke-width="0.5"/>
<circle cx="630.76" cy="127.72" r="2.65" fill="#000" stroke="#000" stroke-width="0.5"/>
<circle cx="634.30" cy="129.18" r="2.65" fill="#000" stroke="#000" stroke-width="0.5"/>
<circle cx="637.85" cy="130.60" r="2.65" fill="#000" stroke="#000" stroke-width="0.5"/>
<circle cx="641.39" cy="132.00" r="2.65" fill="#000" stroke="#000" stroke-width="0.5"/>
<circle cx="644.93" cy="133.35" r="2.65" fill="#000" stroke="#000" stroke-width="0.5"/>
<circle cx="648.47" cy="134.68" r="2.65" fill="#000" stroke="#000" stroke-width="0.5"/>
<circle cx="652.01" cy="135.98" r="2.65" fill="#000" stroke="#000" stroke-width="0.5"/>
<circle cx="655.55" cy="137.25" r="2.65" fill="#000" stroke="#000" stroke-width="0.5"/>
<circle cx="659.09" cy="138.51" r="2.65" fill="#000" stroke="#000" stroke-width="0.5"/>
<circle cx="662.63" cy="139.73" r="2.65" fill="#000" stroke="#000" stroke-width="0.5"/>
<circle cx="666.17" cy="140.93" r="2.65" fill="#000" stroke="#000" stroke-width="0.5"/>
<circle cx="669.72" cy="142.11" r="2.65" fill="#000" stroke="#000" stroke-width="0.5"/>
<circle cx="673.26" cy="143.25" r="2.65" fill="#000" stroke="#000" stroke-width="0.5"/>
<polyline points="393.50,211.71 397.04,211.71 400.58,211.71 404.12,210.84 407.66,201.81 411.21,175.51 414.75,130.80 418.29,97.01 421.83,71.32 425.37,47.55 428.91,40.30 432.45,38.45 435.99,39.12 439.54,41.10 443.08,43.73 446.62,45.72 450.16,47.63 453.70,50.58 457.24,54.80 460.78,59.11 464.32,62.19 467.87,64.98 471.41,67.90 474.95,70.83 478.49,73.80 482.03,76.67 485.57,79.36 489.11,82.07 492.65,85.00 496.20,88.10 499.74,91.21 503.28,94.16 506.82,96.81 510.36,99.22 513.90,101.48 517.44,103.63 520.98,105.71 524.53,107.73 528.07,109.73 531.61,111.74 535.15,113.76 538.69,115.76 542.23,117.74 545.77,119.68 549.31,121.60 552.86,123.49 556.40,125.35 559.94,127.17 563.48,128.97 567.02,130.74 570.56,132.48 574.10,134.17 577.64,135.81 581.19,137.39 584.73,138.91 588.27,140.39 591.81,141.82 595.35,143.22 598.89,144.59 602.43,145.92 605.97,147.24 609.52,148.55 613.06,149.82 616.60,151.05 620.14,152.22 623.68,153.31 627.22,154.31 630.76,155.24 634.30,156.13 637.85,156.98 641.39,157.82 644.93,158.66 648.47,159.51 652.01,160.36 655.55,161.20 659.09,162.03 662.63,162.85 666.17,163.66 669.72,164.46 673.26,165.25" stroke="#333" stroke-width="0.5" fill="none"/>
<path d="M393.50 208.52L396.69 211.71L393.50 214.90L390.31 211.71Z" fill="#b30000" stroke="#000" stroke-width="0.4"/>
<path d="M397.04 208.52L400.23 211.71L397.04 214.90L393.85 211.71Z" fill="#b30000" stroke="#000" stroke-width="0.4"/>
<path d="M400.58 208.52L403.77 211.71L400.58 214.90L397.39 211.71Z" fill="#b30000" stroke="#000" stroke-width="0.4"/>
<path d="M404.12 207.65L407.31 210.84L404.12 214.03L400.94 210.84Z" fill="#b30000" stroke="#000" stroke-width="0.4"/>
<path d="M407.66 198.63L410.85 201.81L407.66 205.00L404.48 201.81Z" fill="#b30000" stroke="#000" stroke-width="0.4"/>
<path d="M411.21 172.32L414.39 175.51L411.21 178.70L408.02 175.51Z" fill="#b30000" stroke="#000" stroke-width="0.4"/>
<path d="M414.75 127.61L417.93 130.80L414.75 133.98L411.56 130.80Z" fill="#b30000" stroke="#000" stroke-width="0.4"/>
<path d="M418.29 93.82L421.48 97.01L418.29 100.19L415.10 97.01Z" fill="#b30000" stroke="#000" stroke-width="0.4"/>
<path d="M421.83 68.13L425.02 71.32L421.83 74.51L418.64 71.32Z" fill="#b30000" stroke="#000" stroke-width="0.4"/>
<path d="M425.37 44.37L428.56 47.55L425.37 50.74L422.18 47.55Z" fill="#b30000" stroke="#000" stroke-width="0.4"/>
<path d="M428.91 37.11L432.10 40.30L428.91 43.48L425.72 40.30Z" fill="#b30000" stroke="#000" stroke-width="0.4"/>
<path d="M432.45 35.26L435.64 38.45L432.45 41.64L429.27 38.45Z" fill="#b30000" stroke="#000" stroke-width="0.4"/>
<path d="M435.99 35.93L439.18 39.12L435.99 42.31L432.81 39.12Z" fill="#b30000" stroke="#000" stroke-width="0.4"/>
<path d="M439.54 37.91L442.72 41.10L439.54 44.29L436.35 41.10Z" fill="#b30000" stroke="#000" stroke-width="0.4"/>
<path d="M443.08 40.54L446.26 43.73L443.08 46.92L439.89 43.73Z" fill="#b30000" stroke="#000" stroke-width="0.4"/>
<path d="M446.62 42.53L449.81 45.72L446.62 48.91L443.43 45.72Z" fill="#b30000" stroke="#000" stroke-width="0.4"/>
<path d="M450.16 44.44L453.35 47.63L450.16 50.82L446.97 47.63Z" fill="#b30000" stroke="#000" stroke-width="0.4"/>
<path d="M453.70 47.39L456.89 50.58L453.70 53.77L450.51 50.58Z" fill="#b30000" stroke="#000" stroke-width="0.4"/>
<path d="M457.24 51.61L460.43 54.80L457.24 57.98L454.05 54.80Z" fill="#b30000" stroke="#000" stroke-width="0.4"/>
<path d="M460.78 55.92L463.97 59.11L460.78 62.29L457.60 59.11Z" fill="#b30000" stroke="#000" stroke-width="0.4"/>
<path d="M464.32 59.00L467.51 62.19L464.32 65.38L461.14 62.19Z" fill="#b30000" stroke="#000" stroke-width="0.4"/>
<path d="M467.87 61.80L471.05 64.98L467.87 68.17L464.68 64.98Z" fill="#b30000" stroke="#000" stroke-width="0.4"/>
<path d="M471.41 64.71L474.59 67.90L471.41 71.09L468.22 67.90Z" fill="#b30000" stroke="#000" stroke-width="0.4"/>
<path d="M474.95 67.64L478.14 70.83L474.95 74.01L471.76 70.83Z" fill="#b30000" stroke="#000" stroke-width="0.4"/>
<path d="M478.49 70.62L481.68 73.80L478.49 76.99L475.30 73.80Z" fill="#b30000" stroke="#000" stroke-width="0.4"/>
<path d="M482.03 73.49L485.22 76.67L482.03 79.86L478.84 76.67Z" fill="#b30000" stroke="#000" stroke-width="0.4"/>
<path d="M485.57 76.18L488.76 79.36L485.57 82.55L482.38 79.36Z" fill="#b30000" stroke="#000" stroke-width="0.4"/>
<path d="M489.11 78.89L492.30 82.07L489.11 85.26L485.93 82.07Z" fill="#b30000" stroke="#000" stroke-width="0.4"/>
<path d="M492.65 81.81L495.84 85.00L492.65 88.19L489.47 85.00Z" fill="#b30000" stroke="#000" stroke-width="0.4"/>
<path d="M496.20 84.91L499.38 88.10L496.20 91.29L493.01 88.10Z" fill="#b30000" stroke="#000" stroke-width="0.4"/>
<path d="M499.74 88.02L502.92 91.21L499.74 94.40L496.55 91.21Z" fill="#b30000" stroke="#000" stroke-width="0.4"/>
<path d="M503.28 90.98L506.47 94.16L503.28 97.35L500.09 94.16Z" fill="#b30000" stroke="#000" stroke-width="0.4"/>
<path d="M506.82 93.62L510.01 96.81L506.82 100.00L503.63 96.81Z" fill="#b30000" stroke="#000" stroke-width="0.4"/>
<path d="M510.36 96.03L513.55 99.22L510.36 102.40L507.17 99.22Z" fill="#b30000" stroke="#000" stroke-width="0.4"/>
<path d="M513.90 98.29L517.09 101.48L513.90 104.67L510.71 101.48Z" fill="#b30000" stroke="#000" stroke-width="0.4"/>
<path d="M517.44 100.45L520.63 103.63L517.44 106.82L514.26 103.63Z" fill="#b30000" stroke="#000" stroke-width="0.4"/>
<path d="M520.98 102.52L524.17 105.71L520.98 108.90L517.80 105.71Z" fill="#b30000" stroke="#000" stroke-width="0.4"/>
<path d="M524.53 104.54L527.71 107.73L524.53 110.92L521.34 107.73Z" fill="#b30000" stroke="#000" stroke-width="0.4"/>
<path d="M528.07 106.54L531.25 109.73L528.07 112.92L524.88 109.73Z" fill="#b30000" stroke="#000" stroke-width="0.4"/>
<path d="M531.61 108.55L534.80 111.74L531.61 114.93L528.42 111.74Z" fill="#b30000" stroke="#000" stroke-width="0.4"/>
<path d="M535.15 110.57L538.34 113.76L535.15 116.95L531.96 113.76Z" fill="#b30000" stroke="#000" stroke-width="0.4"/>
<path d="M538.69 112.57L541.88 115.76L538.69 118.95L535.50 115.76Z" fill="#b30000" stroke="#000" stroke-width="0.4"/>
<path d="M542.23 114.55L545.42 117.74L542.23 120.92L539.04 117.74Z" fill="#b30000" stroke="#000" stroke-width="0.4"/>
<path d="M545.77 116.50L548.96 119.68L545.77 122.87L542.59 119.68Z" fill="#b30000" stroke="#000" stroke-width="0.4"/>
<path d="M549.31 118.42L552.50 121.60L549.31 124.79L546.13 121.60Z" fill="#b30000" stroke="#000" stroke-width="0.4"/>
<path d="M552.86 120.30L556.04 123.49L552.86 126.68L549.67 123.49Z" fill="#b30000" stroke="#000" stroke-width="0.4"/>
<path d="M556.40 122.16L559.58 125.35L556.40 128.53L553.21 125.35Z" fill="#b30000" stroke="#000" stroke-width="0.4"/>
<path d="M559.94 123.98L563.13 127.17L559.94 130.35L556.75 127.17Z" fill="#b30000" stroke="#000" stroke-width="0.4"/>
<path d="M563.48 125.78L566.67 128.97L563.48 132.15L560.29 128.97Z" fill="#b30000" stroke="#000" stroke-width="0.4"/>
<path d="M567.02 127.55L570.21 130.74L567.02 133.93L563.83 130.74Z" fill="#b30000" stroke="#000" stroke-width="0.4"/>
<path d="M570.56 129.29L573.75 132.48L570.56 135.66L567.37 132.48Z" fill="#b30000" stroke="#000" stroke-width="0.4"/>
<path d="M574.10 130.98L577.29 134.17L574.10 137.36L570.92 134.17Z" fill="#b30000" stroke="#000" stroke-width="0.4"/>
<path d="M577.64 132.62L580.83 135.81L577.64 139.00L574.46 135.81Z" fill="#b30000" stroke="#000" stroke-width="0.4"/>
<path d="M581.19 134.20L584.37 137.39L581.19 140.57L578.00 137.39Z" fill="#b30000" stroke="#000" stroke-width="0.4"/>
<path d="M584.73 135.72L587.91 138.91L584.73 142.10L581.54 138.91Z" fill="#b30000" stroke="#000" stroke-width="0.4"/>
<path d="M588.27 137.20L591.46 140.39L588.27 143.58L585.08 140.39Z" fill="#b30000" stroke="#000" stroke-width="0.4"/>
<path d="M591.81 138.64L595.00 141.82L591.81 145.01L588.62 141.82Z" fill="#b30000" stroke="#000" stroke-width="0.4"/>
<path d="M595.35 140.03L598.54 143.22L595.35 146.41L592.16 143.22Z" fill="#b30000" stroke="#000" stroke-width="0.4"/>
<path d="M598.89 141.40L602.08 144.59L598.89 147.77L595.70 144.59Z" fill="#b30000" stroke="#000" stroke-width="0.4"/>
<path d="M602.43 142.73L605.62 145.92L602.43 149.11L599.25 145.92Z" fill="#b30000" stroke="#000" stroke-width="0.4"/>
<path d="M605.97 144.05L609.16 147.24L605.97 150.43L602.79 147.24Z" fill="#b30000" stroke="#000" stroke-width="0.4"/>
<path d="M609.52 145.36L612.70 148.55L609.52 151.73L606.33 148.55Z" fill="#b30000" stroke="#000" stroke-width="0.4"/>
<path d="M613.06 146.63L616.24 149.82L613.06 153.01L609.87 149.82Z" fill="#b30000" stroke="#000" stroke-width="0.4"/>
<path d="M616.60 147.86L619.79 151.05L616.60 154.24L613.41 151.05Z" fill="#b30000" stroke="#000" stroke-width="0.4"/>
<path d="M620.14 149.03L623.33 152.22L620.14 155.41L616.95 152.22Z" fill="#b30000" stroke="#000" stroke-width="0.4"/>
<path d="M623.68 150.12L626.87 153.31L623.68 156.49L620.49 153.31Z" fill="#b30000" stroke="#000" stroke-width="0.4"/>
<path d="M627.22 151.12L630.41 154.31L627.22 157.49L624.03 154.31Z" fill="#b30000" stroke="#000" stroke-width="0.4"/>
<path d="M630.76 152.05L633.95 155.24L630.76 158.43L627.58 155.24Z" fill="#b30000" stroke="#000" stroke-width="0.4"/>
<path d="M634.30 152.94L637.49 156.13L634.30 159.31L631.12 156.13Z" fill="#b30000" stroke="#000" stroke-width="0.4"/>
<path d="M637.85 153.79L641.03 156.98L637.85 160.17L634.66 156.98Z" fill="#b30000" stroke="#000" stroke-width="0.4"/>
<path d="M641.39 154.63L644.57 157.82L641.39 161.01L638.20 157.82Z" fill="#b30000" stroke="#000" stroke-width="0.4"/>
<path d="M644.93 155.47L648.12 158.66L644.93 161.85L641.74 158.66Z" fill="#b30000" stroke="#000" stroke-width="0.4"/>
<path d="M648.47 156.33L651.66 159.51L648.47 162.70L645.28 159.51Z" fill="#b30000" stroke="#000" stroke-width="0.4"/>
<path d="M652.01 157.17L655.20 160.36L652.01 163.55L648.82 160.36Z" fill="#b30000" stroke="#000" stroke-width="0.4"/>
<path d="M655.55 158.01L658.74 161.20L655.55 164.38L652.36 161.20Z" fill="#b30000" stroke="#000" stroke-width="0.4"/>
<path d="M659.09 158.84L662.28 162.03L659.09 165.21L655.90 162.03Z" fill="#b30000" stroke="#000" stroke-width="0.4"/>
<path d="M662.63 159.66L665.82 162.85L662.63 166.03L659.45 162.85Z" fill="#b30000" stroke="#000" stroke-width="0.4"/>
<path d="M666.17 160.47L669.36 163.66L666.17 166.85L662.99 163.66Z" fill="#b30000" stroke="#000" stroke-width="0.4"/>
<path d="M669.72 161.27L672.90 164.46L669.72 167.65L666.53 164.46Z" fill="#b30000" stroke="#000" stroke-width="0.4"/>
<path d="M673.26 162.06L676.44 165.25L673.26 168.44L670.07 165.25Z" fill="#b30000" stroke="#000" stroke-width="0.4"/>
<polyline points="393.50,210.32 397.04,210.43 400.58,210.51 404.12,210.55 407.66,210.57 411.21,210.58 414.75,210.50 418.29,204.55 421.83,196.79 425.37,185.42 428.91,168.43 432.45,149.63 435.99,134.23 439.54,115.97 443.08,91.01 446.62,73.41 450.16,61.42 453.70,55.14 457.24,53.18 460.78,51.78 464.32,50.60 467.87,49.54 471.41,51.40 474.95,53.37 478.49,55.22 482.03,57.25 485.57,59.78 489.11,62.61 492.65,65.14 496.20,67.58 499.74,70.11 503.28,72.91 506.82,75.86 510.36,78.70 513.90,81.30 517.44,83.78 520.98,86.14 524.53,88.42 528.07,90.60 531.61,92.67 535.15,94.56 538.69,96.27 542.23,98.02 545.77,99.99 549.31,102.19 552.86,104.48 556.40,106.73 559.94,108.82 563.48,110.83 567.02,112.79 570.56,114.70 574.10,116.53 577.64,118.28 581.19,119.91 584.73,121.45 588.27,122.92 591.81,124.32 595.35,125.68 598.89,127.01 602.43,128.33 605.97,129.64 609.52,130.93 613.06,132.20 616.60,133.44 620.14,134.64 623.68,135.81 627.22,136.96 630.76,138.11 634.30,139.23 637.85,140.31 641.39,141.33 644.93,142.25 648.47,143.09 652.01,143.90 655.55,144.68 659.09,145.41 662.63,146.11 666.17,146.75 669.72,147.34 673.26,147.87" stroke="#333" stroke-width="0.5" fill="none"/>
<path d="M390.50 208.52L396.50 208.52L393.50 213.17Z" fill="#20a820" stroke="#000" stroke-width="0.4"/>
<path d="M394.04 208.63L400.04 208.63L397.04 213.28Z" fill="#20a820" stroke="#000" stroke-width="0.4"/>
<path d="M397.58 208.71L403.58 208.71L400.58 213.36Z" fill="#20a820" stroke="#000" stroke-width="0.4"/>
<path d="M401.12 208.75L407.12 208.75L404.12 213.40Z" fill="#20a820" stroke="#000" stroke-width="0.4"/>
<path d="M404.66 208.77L410.66 208.77L407.66 213.42Z" fill="#20a820" stroke="#000" stroke-width="0.4"/>
<path d="M408.21 208.78L414.21 208.78L411.21 213.43Z" fill="#20a820" stroke="#000" stroke-width="0.4"/>
<path d="M411.75 208.70L417.75 208.70L414.75 213.35Z" fill="#20a820" stroke="#000" stroke-width="0.4"/>
<path d="M415.29 202.75L421.29 202.75L418.29 207.40Z" fill="#20a820" stroke="#000" stroke-width="0.4"/>
<path d="M418.83 194.99L424.83 194.99L421.83 199.64Z" fill="#20a820" stroke="#000" stroke-width="0.4"/>
<path d="M422.37 183.62L428.37 183.62L425.37 188.27Z" fill="#20a820" stroke="#000" stroke-width="0.4"/>
<path d="M425.91 166.63L431.91 166.63L428.91 171.28Z" fill="#20a820" stroke="#000" stroke-width="0.4"/>
<path d="M429.45 147.83L435.45 147.83L432.45 152.48Z" fill="#20a820" stroke="#000" stroke-width="0.4"/>
<path d="M432.99 132.43L438.99 132.43L435.99 137.08Z" fill="#20a820" stroke="#000" stroke-width="0.4"/>
<path d="M436.54 114.17L442.54 114.17L439.54 118.82Z" fill="#20a820" stroke="#000" stroke-width="0.4"/>
<path d="M440.08 89.21L446.08 89.21L443.08 93.86Z" fill="#20a820" stroke="#000" stroke-width="0.4"/>
<path d="M443.62 71.61L449.62 71.61L446.62 76.26Z" fill="#20a820" stroke="#000" stroke-width="0.4"/>
<path d="M447.16 59.62L453.16 59.62L450.16 64.27Z" fill="#20a820" stroke="#000" stroke-width="0.4"/>
<path d="M450.70 53.34L456.70 53.34L453.70 57.99Z" fill="#20a820" stroke="#000" stroke-width="0.4"/>
<path d="M454.24 51.38L460.24 51.38L457.24 56.03Z" fill="#20a820" stroke="#000" stroke-width="0.4"/>
<path d="M457.78 49.98L463.78 49.98L460.78 54.63Z" fill="#20a820" stroke="#000" stroke-width="0.4"/>
<path d="M461.32 48.80L467.32 48.80L464.32 53.45Z" fill="#20a820" stroke="#000" stroke-width="0.4"/>
<path d="M464.87 47.74L470.87 47.74L467.87 52.39Z" fill="#20a820" stroke="#000" stroke-width="0.4"/>
<path d="M468.41 49.60L474.41 49.60L471.41 54.25Z" fill="#20a820" stroke="#000" stroke-width="0.4"/>
<path d="M471.95 51.57L477.95 51.57L474.95 56.22Z" fill="#20a820" stroke="#000" stroke-width="0.4"/>
<path d="M475.49 53.42L481.49 53.42L478.49 58.07Z" fill="#20a820" stroke="#000" stroke-width="0.4"/>
<path d="M479.03 55.45L485.03 55.45L482.03 60.10Z" fill="#20a820" stroke="#000" stroke-width="0.4"/>
<path d="M482.57 57.98L488.57 57.98L485.57 62.63Z" fill="#20a820" stroke="#000" stroke-width="0.4"/>
<path d="M486.11 60.81L492.11 60.81L489.11 65.46Z" fill="#20a820" stroke="#000" stroke-width="0.4"/>
<path d="M489.65 63.34L495.65 63.34L492.65 67.99Z" fill="#20a820" stroke="#000" stroke-width="0.4"/>
<path d="M493.20 65.78L499.20 65.78L496.20 70.43Z" fill="#20a820" stroke="#000" stroke-width="0.4"/>
<path d="M496.74 68.31L502.74 68.31L499.74 72.96Z" fill="#20a820" stroke="#000" stroke-width="0.4"/>
<path d="M500.28 71.11L506.28 71.11L503.28 75.76Z" fill="#20a820" stroke="#000" stroke-width="0.4"/>
<path d="M503.82 74.06L509.82 74.06L506.82 78.71Z" fill="#20a820" stroke="#000" stroke-width="0.4"/>
<path d="M507.36 76.90L513.36 76.90L510.36 81.55Z" fill="#20a820" stroke="#000" stroke-width="0.4"/>
<path d="M510.90 79.50L516.90 79.50L513.90 84.15Z" fill="#20a820" stroke="#000" stroke-width="0.4"/>
<path d="M514.44 81.98L520.44 81.98L517.44 86.63Z" fill="#20a820" stroke="#000" stroke-width="0.4"/>
<path d="M517.98 84.34L523.98 84.34L520.98 88.99Z" fill="#20a820" stroke="#000" stroke-width="0.4"/>
<path d="M521.53 86.62L527.53 86.62L524.53 91.27Z" fill="#20a820" stroke="#000" stroke-width="0.4"/>
<path d="M525.07 88.80L531.07 88.80L528.07 93.45Z" fill="#20a820" stroke="#000" stroke-width="0.4"/>
<path d="M528.61 90.87L534.61 90.87L531.61 95.52Z" fill="#20a820" stroke="#000" stroke-width="0.4"/>
<path d="M532.15 92.76L538.15 92.76L535.15 97.41Z" fill="#20a820" stroke="#000" stroke-width="0.4"/>
<path d="M535.69 94.47L541.69 94.47L538.69 99.12Z" fill="#20a820" stroke="#000" stroke-width="0.4"/>
<path d="M539.23 96.22L545.23 96.22L542.23 100.87Z" fill="#20a820" stroke="#000" stroke-width="0.4"/>
<path d="M542.77 98.19L548.77 98.19L545.77 102.84Z" fill="#20a820" stroke="#000" stroke-width="0.4"/>
<path d="M546.31 100.39L552.31 100.39L549.31 105.04Z" fill="#20a820" stroke="#000" stroke-width="0.4"/>
<path d="M549.86 102.68L555.86 102.68L552.86 107.33Z" fill="#20a820" stroke="#000" stroke-width="0.4"/>
<path d="M553.40 104.93L559.40 104.93L556.40 109.58Z" fill="#20a820" stroke="#000" stroke-width="0.4"/>
<path d="M556.94 107.02L562.94 107.02L559.94 111.67Z" fill="#20a820" stroke="#000" stroke-width="0.4"/>
<path d="M560.48 109.03L566.48 109.03L563.48 113.68Z" fill="#20a820" stroke="#000" stroke-width="0.4"/>
<path d="M564.02 110.99L570.02 110.99L567.02 115.64Z" fill="#20a820" stroke="#000" stroke-width="0.4"/>
<path d="M567.56 112.90L573.56 112.90L570.56 117.55Z" fill="#20a820" stroke="#000" stroke-width="0.4"/>
<path d="M571.10 114.73L577.10 114.73L574.10 119.38Z" fill="#20a820" stroke="#000" stroke-width="0.4"/>
<path d="M574.64 116.48L580.64 116.48L577.64 121.13Z" fill="#20a820" stroke="#000" stroke-width="0.4"/>
<path d="M578.19 118.11L584.19 118.11L581.19 122.76Z" fill="#20a820" stroke="#000" stroke-width="0.4"/>
<path d="M581.73 119.65L587.73 119.65L584.73 124.30Z" fill="#20a820" stroke="#000" stroke-width="0.4"/>
<path d="M585.27 121.12L591.27 121.12L588.27 125.77Z" fill="#20a820" stroke="#000" stroke-width="0.4"/>
<path d="M588.81 122.52L594.81 122.52L591.81 127.17Z" fill="#20a820" stroke="#000" stroke-width="0.4"/>
<path d="M592.35 123.88L598.35 123.88L595.35 128.53Z" fill="#20a820" stroke="#000" stroke-width="0.4"/>
<path d="M595.89 125.21L601.89 125.21L598.89 129.86Z" fill="#20a820" stroke="#000" stroke-width="0.4"/>
<path d="M599.43 126.53L605.43 126.53L602.43 131.18Z" fill="#20a820" stroke="#000" stroke-width="0.4"/>
<path d="M602.97 127.84L608.97 127.84L605.97 132.49Z" fill="#20a820" stroke="#000" stroke-width="0.4"/>
<path d="M606.52 129.13L612.52 129.13L609.52 133.78Z" fill="#20a820" stroke="#000" stroke-width="0.4"/>
<path d="M610.06 130.40L616.06 130.40L613.06 135.05Z" fill="#20a820" stroke="#000" stroke-width="0.4"/>
<path d="M613.60 131.64L619.60 131.64L616.60 136.29Z" fill="#20a820" stroke="#000" stroke-width="0.4"/>
<path d="M617.14 132.84L623.14 132.84L620.14 137.49Z" fill="#20a820" stroke="#000" stroke-width="0.4"/>
<path d="M620.68 134.01L626.68 134.01L623.68 138.66Z" fill="#20a820" stroke="#000" stroke-width="0.4"/>
<path d="M624.22 135.16L630.22 135.16L627.22 139.81Z" fill="#20a820" stroke="#000" stroke-width="0.4"/>
<path d="M627.76 136.31L633.76 136.31L630.76 140.96Z" fill="#20a820" stroke="#000" stroke-width="0.4"/>
<path d="M631.30 137.43L637.30 137.43L634.30 142.08Z" fill="#20a820" stroke="#000" stroke-width="0.4"/>
<path d="M634.85 138.51L640.85 138.51L637.85 143.16Z" fill="#20a820" stroke="#000" stroke-width="0.4"/>
<path d="M638.39 139.53L644.39 139.53L641.39 144.18Z" fill="#20a820" stroke="#000" stroke-width="0.4"/>
<path d="M641.93 140.45L647.93 140.45L644.93 145.10Z" fill="#20a820" stroke="#000" stroke-width="0.4"/>
<path d="M645.47 141.29L651.47 141.29L648.47 145.94Z" fill="#20a820" stroke="#000" stroke-width="0.4"/>
<path d="M649.01 142.10L655.01 142.10L652.01 146.75Z" fill="#20a820" stroke="#000" stroke-width="0.4"/>
<path d="M652.55 142.88L658.55 142.88L655.55 147.53Z" fill="#20a820" stroke="#000" stroke-width="0.4"/>
<path d="M656.09 143.61L662.09 143.61L659.09 148.26Z" fill="#20a820" stroke="#000" stroke-width="0.4"/>
<path d="M659.63 144.31L665.63 144.31L662.63 148.96Z" fill="#20a820" stroke="#000" stroke-width="0.4"/>
<path d="M663.17 144.95L669.17 144.95L666.17 149.60Z" fill="#20a820" stroke="#000" stroke-width="0.4"/>
<path d="M666.72 145.54L672.72 145.54L669.72 150.19Z" fill="#20a820" stroke="#000" stroke-width="0.4"/>
<path d="M670.26 146.07L676.26 146.07L673.26 150.72Z" fill="#20a820" stroke="#000" stroke-width="0.4"/>
<rect x="560.7" y="16.4" width="121.1" height="55.4" fill="#fff" stroke="#333" stroke-width="0.8"/>
<path d="M566.8 26.80H586.3" stroke="#aaa" stroke-width="0.9"/>
<circle cx="576.4" cy="26.80" r="2.5" fill="#fff" stroke="#000" stroke-width="0.5"/>
<text x="591.6" y="29.90" font-family="'Liberation Sans', Arial, sans-serif" font-weight="bold" font-size="8.9" fill="#111">not CJD (n=100)</text>
<path d="M566.8 38.35H586.3" stroke="#222" stroke-width="0.8"/>
<circle cx="576.4" cy="38.35" r="2.5" fill="#000" stroke="#000" stroke-width="0.5"/>
<text x="591.6" y="41.45" font-family="'Liberation Sans', Arial, sans-serif" font-weight="bold" font-size="8.9" fill="#111">sCJD MM1 (n=40)</text>
<path d="M566.8 49.90H586.3" stroke="#888" stroke-width="1.3"/>
<path d="M576.4 47.10L579.1999999999999 49.90L576.4 52.70L573.6 49.90Z" fill="#b30000" stroke="#000" stroke-width="0.4"/>
<text x="591.6" y="53.00" font-family="'Liberation Sans', Arial, sans-serif" font-weight="bold" font-size="8.9" fill="#111">gCJD E200K (n=20)</text>
<path d="M566.8 61.45H586.3" stroke="#222" stroke-width="0.8"/>
<path d="M573.8 59.89L579.0 59.89L576.4 63.92Z" fill="#20a820" stroke="#000" stroke-width="0.4"/>
<text x="591.6" y="64.55" font-family="'Liberation Sans', Arial, sans-serif" font-weight="bold" font-size="8.9" fill="#111">gCJD V210I (n=10)</text>
<path d="M44.5 274.5H318.5" stroke="#777" stroke-width="1"/>
<path d="M318.5 274.0V429.5" stroke="#777" stroke-width="1"/>
<path d="M44.5 274.5V429.5" stroke="#888" stroke-width="1.2"/>
<path d="M41.5 429.5H319.0" stroke="#aaa" stroke-width="1"/>
<path d="M42.20 429.60H44.4M42.20 390.70H44.4M42.20 351.80H44.4M42.20 312.90H44.4M42.20 274.00H44.4M72.60 429.6V431.8M103.60 429.6V431.8M134.70 429.6V431.8M165.70 429.6V431.8M196.70 429.6V431.8M227.80 429.6V431.8M258.90 429.6V431.8M290.00 429.6V431.8" stroke="#666" stroke-width="0.8"/>
<text x="38.90" y="432.40" text-anchor="end" font-family="'Liberation Sans', Arial, sans-serif" font-size="7" fill="#222">0</text>
<text x="38.90" y="393.50" text-anchor="end" font-family="'Liberation Sans', Arial, sans-serif" font-size="7" fill="#222">10</text>
<text x="38.90" y="354.60" text-anchor="end" font-family="'Liberation Sans', Arial, sans-serif" font-size="7" fill="#222">20</text>
<text x="38.90" y="315.70" text-anchor="end" font-family="'Liberation Sans', Arial, sans-serif" font-size="7" fill="#222">30</text>
<text x="38.90" y="276.80" text-anchor="end" font-family="'Liberation Sans', Arial, sans-serif" font-size="7" fill="#222">40</text>
<text x="72.60" y="444.6" text-anchor="middle" font-family="'Liberation Sans', Arial, sans-serif" font-weight="bold" font-size="8.3" fill="#111">MM1</text>
<text x="103.60" y="444.6" text-anchor="middle" font-family="'Liberation Sans', Arial, sans-serif" font-weight="bold" font-size="8.3" fill="#111">VV2</text>
<text x="134.70" y="444.6" text-anchor="middle" font-family="'Liberation Sans', Arial, sans-serif" font-weight="bold" font-size="8.3" fill="#111">MV2K</text>
<text x="165.70" y="444.6" text-anchor="middle" font-family="'Liberation Sans', Arial, sans-serif" font-weight="bold" font-size="8.3" fill="#111">MM2T</text>
<text x="196.70" y="444.6" text-anchor="middle" font-family="'Liberation Sans', Arial, sans-serif" font-weight="bold" font-size="8.3" fill="#111">MM2C</text>
<text x="227.80" y="444.6" text-anchor="middle" font-family="'Liberation Sans', Arial, sans-serif" font-weight="bold" font-size="8.3" fill="#111">VPSPr</text>
<text x="246.15" y="444.6" font-family="'Liberation Sans', Arial, sans-serif" font-weight="bold" font-size="8.3" fill="#111">gCJD</text>
<text x="246.15" y="454.2" font-family="'Liberation Sans', Arial, sans-serif" font-weight="bold" font-size="8.3" fill="#111">E200K</text>
<text x="278.40" y="444.6" font-family="'Liberation Sans', Arial, sans-serif" font-weight="bold" font-size="8.3" fill="#111">gCJD</text>
<text x="278.40" y="454.2" font-family="'Liberation Sans', Arial, sans-serif" font-weight="bold" font-size="8.3" fill="#111">V210I</text>
<path d="M72.60 379.42V406.65" stroke="#6a6a6a" stroke-width="1.3"/>
<path d="M62.10 396.69H83.10M65.60 379.42H79.60M65.60 406.65H79.60" stroke="#3a3a3a" stroke-width="0.95"/>
<circle cx="72.60" cy="344.21" r="2.45" fill="#8a8a8a" stroke="#4a4a4a" stroke-width="0.7"/>
<circle cx="72.60" cy="374.75" r="2.45" fill="#8a8a8a" stroke="#4a4a4a" stroke-width="0.7"/>
<circle cx="72.60" cy="379.03" r="2.45" fill="#8a8a8a" stroke="#4a4a4a" stroke-width="0.7"/>
<circle cx="72.60" cy="382.92" r="2.45" fill="#8a8a8a" stroke="#4a4a4a" stroke-width="0.7"/>
<circle cx="72.60" cy="386.81" r="2.45" fill="#8a8a8a" stroke="#4a4a4a" stroke-width="0.7"/>
<circle cx="72.60" cy="390.70" r="2.45" fill="#8a8a8a" stroke="#4a4a4a" stroke-width="0.7"/>
<circle cx="72.60" cy="394.59" r="2.45" fill="#8a8a8a" stroke="#4a4a4a" stroke-width="0.7"/>
<circle cx="72.60" cy="398.48" r="2.45" fill="#8a8a8a" stroke="#4a4a4a" stroke-width="0.7"/>
<circle cx="72.60" cy="402.37" r="2.45" fill="#8a8a8a" stroke="#4a4a4a" stroke-width="0.7"/>
<circle cx="72.60" cy="406.26" r="2.45" fill="#8a8a8a" stroke="#4a4a4a" stroke-width="0.7"/>
<circle cx="72.60" cy="410.15" r="2.45" fill="#8a8a8a" stroke="#4a4a4a" stroke-width="0.7"/>
<circle cx="72.60" cy="414.43" r="2.45" fill="#8a8a8a" stroke="#4a4a4a" stroke-width="0.7"/>
<path d="M103.60 377.09V408.59" stroke="#6a6a6a" stroke-width="1.3"/>
<path d="M93.10 390.82H114.10M96.60 377.09H110.60M96.60 408.59H110.60" stroke="#3a3a3a" stroke-width="0.95"/>
<circle cx="103.60" cy="374.36" r="2.45" fill="#8a8a8a" stroke="#4a4a4a" stroke-width="0.7"/>
<circle cx="103.60" cy="379.03" r="2.45" fill="#8a8a8a" stroke="#4a4a4a" stroke-width="0.7"/>
<circle cx="103.60" cy="382.92" r="2.45" fill="#8a8a8a" stroke="#4a4a4a" stroke-width="0.7"/>
<circle cx="103.60" cy="386.81" r="2.45" fill="#8a8a8a" stroke="#4a4a4a" stroke-width="0.7"/>
<circle cx="103.60" cy="390.70" r="2.45" fill="#8a8a8a" stroke="#4a4a4a" stroke-width="0.7"/>
<circle cx="103.60" cy="394.59" r="2.45" fill="#8a8a8a" stroke="#4a4a4a" stroke-width="0.7"/>
<circle cx="103.60" cy="398.48" r="2.45" fill="#8a8a8a" stroke="#4a4a4a" stroke-width="0.7"/>
<circle cx="103.60" cy="402.37" r="2.45" fill="#8a8a8a" stroke="#4a4a4a" stroke-width="0.7"/>
<circle cx="103.60" cy="406.26" r="2.45" fill="#8a8a8a" stroke="#4a4a4a" stroke-width="0.7"/>
<circle cx="103.60" cy="410.15" r="2.45" fill="#8a8a8a" stroke="#4a4a4a" stroke-width="0.7"/>
<circle cx="103.60" cy="414.43" r="2.45" fill="#8a8a8a" stroke="#4a4a4a" stroke-width="0.7"/>
<path d="M134.70 371.25V410.15" stroke="#6a6a6a" stroke-width="1.3"/>
<path d="M124.20 394.59H145.20M127.70 371.25H141.70M127.70 410.15H141.70" stroke="#3a3a3a" stroke-width="0.95"/>
<circle cx="134.70" cy="359.97" r="2.45" fill="#8a8a8a" stroke="#4a4a4a" stroke-width="0.7"/>
<circle cx="134.70" cy="371.25" r="2.45" fill="#8a8a8a" stroke="#4a4a4a" stroke-width="0.7"/>
<circle cx="134.70" cy="375.53" r="2.45" fill="#8a8a8a" stroke="#4a4a4a" stroke-width="0.7"/>
<circle cx="134.70" cy="379.03" r="2.45" fill="#8a8a8a" stroke="#4a4a4a" stroke-width="0.7"/>
<circle cx="134.70" cy="382.92" r="2.45" fill="#8a8a8a" stroke="#4a4a4a" stroke-width="0.7"/>
<circle cx="134.70" cy="386.81" r="2.45" fill="#8a8a8a" stroke="#4a4a4a" stroke-width="0.7"/>
<circle cx="134.70" cy="390.70" r="2.45" fill="#8a8a8a" stroke="#4a4a4a" stroke-width="0.7"/>
<circle cx="134.70" cy="394.59" r="2.45" fill="#8a8a8a" stroke="#4a4a4a" stroke-width="0.7"/>
<circle cx="134.70" cy="398.48" r="2.45" fill="#8a8a8a" stroke="#4a4a4a" stroke-width="0.7"/>
<circle cx="134.70" cy="402.37" r="2.45" fill="#8a8a8a" stroke="#4a4a4a" stroke-width="0.7"/>
<circle cx="134.70" cy="406.26" r="2.45" fill="#8a8a8a" stroke="#4a4a4a" stroke-width="0.7"/>
<circle cx="134.70" cy="410.15" r="2.45" fill="#8a8a8a" stroke="#4a4a4a" stroke-width="0.7"/>
<circle cx="134.70" cy="414.43" r="2.45" fill="#8a8a8a" stroke="#4a4a4a" stroke-width="0.7"/>
<path d="M165.70 293.45V379.03" stroke="#6a6a6a" stroke-width="1.3"/>
<path d="M155.20 351.80H176.20M158.70 293.45H172.70M158.70 379.03H172.70" stroke="#3a3a3a" stroke-width="0.95"/>
<circle cx="165.70" cy="293.45" r="2.45" fill="#8a8a8a" stroke="#4a4a4a" stroke-width="0.7"/>
<circle cx="165.70" cy="351.80" r="2.45" fill="#8a8a8a" stroke="#4a4a4a" stroke-width="0.7"/>
<circle cx="165.70" cy="379.03" r="2.45" fill="#8a8a8a" stroke="#4a4a4a" stroke-width="0.7"/>
<path d="M196.70 331.96V401.98" stroke="#6a6a6a" stroke-width="1.3"/>
<path d="M186.20 384.48H207.20M189.70 331.96H203.70M189.70 401.98H203.70" stroke="#3a3a3a" stroke-width="0.95"/>
<circle cx="196.70" cy="331.96" r="2.45" fill="#8a8a8a" stroke="#4a4a4a" stroke-width="0.7"/>
<circle cx="196.70" cy="371.25" r="2.45" fill="#8a8a8a" stroke="#4a4a4a" stroke-width="0.7"/>
<circle cx="196.70" cy="379.42" r="2.45" fill="#8a8a8a" stroke="#4a4a4a" stroke-width="0.7"/>
<circle cx="196.70" cy="389.53" r="2.45" fill="#8a8a8a" stroke="#4a4a4a" stroke-width="0.7"/>
<circle cx="196.70" cy="393.81" r="2.45" fill="#8a8a8a" stroke="#4a4a4a" stroke-width="0.7"/>
<circle cx="196.70" cy="401.98" r="2.45" fill="#8a8a8a" stroke="#4a4a4a" stroke-width="0.7"/>
<path d="M227.80 320.29V355.30" stroke="#6a6a6a" stroke-width="1.3"/>
<path d="M217.30 320.29H238.30M220.80 320.29H234.80M220.80 355.30H234.80" stroke="#3a3a3a" stroke-width="0.95"/>
<circle cx="227.80" cy="320.29" r="2.45" fill="#8a8a8a" stroke="#4a4a4a" stroke-width="0.7"/>
<circle cx="227.80" cy="355.30" r="2.45" fill="#8a8a8a" stroke="#4a4a4a" stroke-width="0.7"/>
<path d="M258.90 406.07V418.32" stroke="#6a6a6a" stroke-width="1.3"/>
<path d="M248.40 412.10H269.40M251.90 406.07H265.90M251.90 418.32H265.90" stroke="#3a3a3a" stroke-width="0.95"/>
<circle cx="258.90" cy="359.58" r="2.45" fill="#8a8a8a" stroke="#4a4a4a" stroke-width="0.7"/>
<circle cx="258.90" cy="406.07" r="2.45" fill="#8a8a8a" stroke="#4a4a4a" stroke-width="0.7"/>
<circle cx="258.90" cy="409.76" r="2.45" fill="#8a8a8a" stroke="#4a4a4a" stroke-width="0.7"/>
<circle cx="258.90" cy="413.85" r="2.45" fill="#8a8a8a" stroke="#4a4a4a" stroke-width="0.7"/>
<circle cx="258.90" cy="418.32" r="2.45" fill="#8a8a8a" stroke="#4a4a4a" stroke-width="0.7"/>
<path d="M290.00 382.53V406.07" stroke="#6a6a6a" stroke-width="1.3"/>
<path d="M279.50 400.04H300.50M283.00 382.53H297.00M283.00 406.07H297.00" stroke="#3a3a3a" stroke-width="0.95"/>
<circle cx="290.00" cy="382.53" r="2.45" fill="#8a8a8a" stroke="#4a4a4a" stroke-width="0.7"/>
<circle cx="290.00" cy="386.81" r="2.45" fill="#8a8a8a" stroke="#4a4a4a" stroke-width="0.7"/>
<circle cx="290.00" cy="390.70" r="2.45" fill="#8a8a8a" stroke="#4a4a4a" stroke-width="0.7"/>
<circle cx="290.00" cy="395.37" r="2.45" fill="#8a8a8a" stroke="#4a4a4a" stroke-width="0.7"/>
<circle cx="290.00" cy="399.65" r="2.45" fill="#8a8a8a" stroke="#4a4a4a" stroke-width="0.7"/>
<circle cx="290.00" cy="402.37" r="2.45" fill="#8a8a8a" stroke="#4a4a4a" stroke-width="0.7"/>
<circle cx="290.00" cy="406.07" r="2.45" fill="#8a8a8a" stroke="#4a4a4a" stroke-width="0.7"/>
<text transform="translate(22.4,351.2) rotate(-90)" text-anchor="middle" font-family="'Liberation Sans', Arial, sans-serif" font-weight="bold" font-size="12.25" fill="#111">Lag phase (hours)</text>
<path d="M391.0 273.5H665.5" stroke="#888" stroke-width="1"/>
<path d="M665.5 273.0V429.5" stroke="#666" stroke-width="1"/>
<path d="M391.0 273.5V429.5" stroke="#bbb" stroke-width="1.2"/>
<path d="M388.0 429.5H666.0" stroke="#555" stroke-width="1"/>
<path d="M388.50 429.00H390.7M388.50 403.05H390.7M388.50 377.10H390.7M388.50 351.15H390.7M388.50 325.20H390.7M388.50 299.25H390.7M388.50 273.30H390.7M419.00 429.0V431.2M450.20 429.0V431.2M481.20 429.0V431.2M512.40 429.0V431.2M543.80 429.0V431.2M575.00 429.0V431.2M606.10 429.0V431.2M637.30 429.0V431.2" stroke="#666" stroke-width="0.8"/>
<text x="384.70" y="431.80" text-anchor="end" font-family="'Liberation Sans', Arial, sans-serif" font-size="6.7" fill="#222">0</text>
<text x="384.70" y="405.85" text-anchor="end" font-family="'Liberation Sans', Arial, sans-serif" font-size="6.7" fill="#222">1000</text>
<text x="384.70" y="379.90" text-anchor="end" font-family="'Liberation Sans', Arial, sans-serif" font-size="6.7" fill="#222">2000</text>
<text x="384.70" y="353.95" text-anchor="end" font-family="'Liberation Sans', Arial, sans-serif" font-size="6.7" fill="#222">3000</text>
<text x="384.70" y="328.00" text-anchor="end" font-family="'Liberation Sans', Arial, sans-serif" font-size="6.7" fill="#222">4000</text>
<text x="384.70" y="302.05" text-anchor="end" font-family="'Liberation Sans', Arial, sans-serif" font-size="6.7" fill="#222">5000</text>
<text x="384.70" y="276.10" text-anchor="end" font-family="'Liberation Sans', Arial, sans-serif" font-size="6.7" fill="#222">6000</text>
<text x="419.00" y="444.6" text-anchor="middle" font-family="'Liberation Sans', Arial, sans-serif" font-weight="bold" font-size="8.3" fill="#111">MM1</text>
<text x="450.20" y="444.6" text-anchor="middle" font-family="'Liberation Sans', Arial, sans-serif" font-weight="bold" font-size="8.3" fill="#111">VV2</text>
<text x="481.20" y="444.6" text-anchor="middle" font-family="'Liberation Sans', Arial, sans-serif" font-weight="bold" font-size="8.3" fill="#111">MV2K</text>
<text x="512.40" y="444.6" text-anchor="middle" font-family="'Liberation Sans', Arial, sans-serif" font-weight="bold" font-size="8.3" fill="#111">MM2T</text>
<text x="543.80" y="444.6" text-anchor="middle" font-family="'Liberation Sans', Arial, sans-serif" font-weight="bold" font-size="8.3" fill="#111">MM2C</text>
<text x="575.00" y="444.6" text-anchor="middle" font-family="'Liberation Sans', Arial, sans-serif" font-weight="bold" font-size="8.3" fill="#111">VPSPr</text>
<text x="593.35" y="444.6" font-family="'Liberation Sans', Arial, sans-serif" font-weight="bold" font-size="8.3" fill="#111">gCJD</text>
<text x="593.35" y="454.2" font-family="'Liberation Sans', Arial, sans-serif" font-weight="bold" font-size="8.3" fill="#111">E200K</text>
<text x="625.70" y="444.6" font-family="'Liberation Sans', Arial, sans-serif" font-weight="bold" font-size="8.3" fill="#111">gCJD</text>
<text x="625.70" y="454.2" font-family="'Liberation Sans', Arial, sans-serif" font-weight="bold" font-size="8.3" fill="#111">V210I</text>
<path d="M419.00 305.95V356.44" stroke="#6a6a6a" stroke-width="1.3"/>
<path d="M408.50 326.71H429.50M412.00 305.95H426.00M412.00 356.44H426.00" stroke="#3a3a3a" stroke-width="0.95"/>
<circle cx="419.00" cy="293.90" r="2.45" fill="#8a8a8a" stroke="#4a4a4a" stroke-width="0.7"/>
<circle cx="419.00" cy="302.60" r="2.45" fill="#8a8a8a" stroke="#4a4a4a" stroke-width="0.7"/>
<circle cx="419.00" cy="304.44" r="2.45" fill="#8a8a8a" stroke="#4a4a4a" stroke-width="0.7"/>
<circle cx="419.00" cy="307.50" r="2.45" fill="#8a8a8a" stroke="#4a4a4a" stroke-width="0.7"/>
<circle cx="419.00" cy="310.98" r="2.45" fill="#8a8a8a" stroke="#4a4a4a" stroke-width="0.7"/>
<circle cx="419.00" cy="314.87" r="2.45" fill="#8a8a8a" stroke="#4a4a4a" stroke-width="0.7"/>
<circle cx="419.00" cy="319.49" r="2.45" fill="#8a8a8a" stroke="#4a4a4a" stroke-width="0.7"/>
<circle cx="419.00" cy="323.28" r="2.45" fill="#8a8a8a" stroke="#4a4a4a" stroke-width="0.7"/>
<circle cx="419.00" cy="325.98" r="2.45" fill="#8a8a8a" stroke="#4a4a4a" stroke-width="0.7"/>
<circle cx="419.00" cy="328.99" r="2.45" fill="#8a8a8a" stroke="#4a4a4a" stroke-width="0.7"/>
<circle cx="419.00" cy="332.99" r="2.45" fill="#8a8a8a" stroke="#4a4a4a" stroke-width="0.7"/>
<circle cx="419.00" cy="336.98" r="2.45" fill="#8a8a8a" stroke="#4a4a4a" stroke-width="0.7"/>
<circle cx="419.00" cy="340.87" r="2.45" fill="#8a8a8a" stroke="#4a4a4a" stroke-width="0.7"/>
<circle cx="419.00" cy="343.47" r="2.45" fill="#8a8a8a" stroke="#4a4a4a" stroke-width="0.7"/>
<circle cx="419.00" cy="347.85" r="2.45" fill="#8a8a8a" stroke="#4a4a4a" stroke-width="0.7"/>
<circle cx="419.00" cy="356.65" r="2.45" fill="#8a8a8a" stroke="#4a4a4a" stroke-width="0.7"/>
<circle cx="419.00" cy="360.15" r="2.45" fill="#8a8a8a" stroke="#4a4a4a" stroke-width="0.7"/>
<circle cx="419.00" cy="363.66" r="2.45" fill="#8a8a8a" stroke="#4a4a4a" stroke-width="0.7"/>
<circle cx="419.00" cy="367.14" r="2.45" fill="#8a8a8a" stroke="#4a4a4a" stroke-width="0.7"/>
<path d="M450.20 310.15V352.24" stroke="#6a6a6a" stroke-width="1.3"/>
<path d="M439.70 328.81H460.70M443.20 310.15H457.20M443.20 352.24H457.20" stroke="#3a3a3a" stroke-width="0.95"/>
<circle cx="450.20" cy="297.80" r="2.45" fill="#8a8a8a" stroke="#4a4a4a" stroke-width="0.7"/>
<circle cx="450.20" cy="305.69" r="2.45" fill="#8a8a8a" stroke="#4a4a4a" stroke-width="0.7"/>
<circle cx="450.20" cy="307.68" r="2.45" fill="#8a8a8a" stroke="#4a4a4a" stroke-width="0.7"/>
<circle cx="450.20" cy="312.59" r="2.45" fill="#8a8a8a" stroke="#4a4a4a" stroke-width="0.7"/>
<circle cx="450.20" cy="316.58" r="2.45" fill="#8a8a8a" stroke="#4a4a4a" stroke-width="0.7"/>
<circle cx="450.20" cy="320.50" r="2.45" fill="#8a8a8a" stroke="#4a4a4a" stroke-width="0.7"/>
<circle cx="450.20" cy="324.47" r="2.45" fill="#8a8a8a" stroke="#4a4a4a" stroke-width="0.7"/>
<circle cx="450.20" cy="328.39" r="2.45" fill="#8a8a8a" stroke="#4a4a4a" stroke-width="0.7"/>
<circle cx="450.20" cy="332.36" r="2.45" fill="#8a8a8a" stroke="#4a4a4a" stroke-width="0.7"/>
<circle cx="450.20" cy="336.28" r="2.45" fill="#8a8a8a" stroke="#4a4a4a" stroke-width="0.7"/>
<circle cx="450.20" cy="341.16" r="2.45" fill="#8a8a8a" stroke="#4a4a4a" stroke-width="0.7"/>
<circle cx="450.20" cy="346.17" r="2.45" fill="#8a8a8a" stroke="#4a4a4a" stroke-width="0.7"/>
<circle cx="450.20" cy="350.06" r="2.45" fill="#8a8a8a" stroke="#4a4a4a" stroke-width="0.7"/>
<circle cx="450.20" cy="355.04" r="2.45" fill="#8a8a8a" stroke="#4a4a4a" stroke-width="0.7"/>
<circle cx="450.20" cy="358.94" r="2.45" fill="#8a8a8a" stroke="#4a4a4a" stroke-width="0.7"/>
<path d="M481.20 309.42V365.63" stroke="#6a6a6a" stroke-width="1.3"/>
<path d="M470.70 337.47H491.70M474.20 309.42H488.20M474.20 365.63H488.20" stroke="#3a3a3a" stroke-width="0.95"/>
<circle cx="481.20" cy="300.91" r="2.45" fill="#8a8a8a" stroke="#4a4a4a" stroke-width="0.7"/>
<circle cx="481.20" cy="307.40" r="2.45" fill="#8a8a8a" stroke="#4a4a4a" stroke-width="0.7"/>
<circle cx="481.20" cy="309.71" r="2.45" fill="#8a8a8a" stroke="#4a4a4a" stroke-width="0.7"/>
<circle cx="481.20" cy="321.59" r="2.45" fill="#8a8a8a" stroke="#4a4a4a" stroke-width="0.7"/>
<circle cx="481.20" cy="323.88" r="2.45" fill="#8a8a8a" stroke="#4a4a4a" stroke-width="0.7"/>
<circle cx="481.20" cy="327.07" r="2.45" fill="#8a8a8a" stroke="#4a4a4a" stroke-width="0.7"/>
<circle cx="481.20" cy="331.38" r="2.45" fill="#8a8a8a" stroke="#4a4a4a" stroke-width="0.7"/>
<circle cx="481.20" cy="334.39" r="2.45" fill="#8a8a8a" stroke="#4a4a4a" stroke-width="0.7"/>
<circle cx="481.20" cy="337.37" r="2.45" fill="#8a8a8a" stroke="#4a4a4a" stroke-width="0.7"/>
<circle cx="481.20" cy="340.28" r="2.45" fill="#8a8a8a" stroke="#4a4a4a" stroke-width="0.7"/>
<circle cx="481.20" cy="344.27" r="2.45" fill="#8a8a8a" stroke="#4a4a4a" stroke-width="0.7"/>
<circle cx="481.20" cy="349.15" r="2.45" fill="#8a8a8a" stroke="#4a4a4a" stroke-width="0.7"/>
<circle cx="481.20" cy="352.16" r="2.45" fill="#8a8a8a" stroke="#4a4a4a" stroke-width="0.7"/>
<circle cx="481.20" cy="356.05" r="2.45" fill="#8a8a8a" stroke="#4a4a4a" stroke-width="0.7"/>
<circle cx="481.20" cy="360.05" r="2.45" fill="#8a8a8a" stroke="#4a4a4a" stroke-width="0.7"/>
<circle cx="481.20" cy="363.35" r="2.45" fill="#8a8a8a" stroke="#4a4a4a" stroke-width="0.7"/>
<circle cx="481.20" cy="365.94" r="2.45" fill="#8a8a8a" stroke="#4a4a4a" stroke-width="0.7"/>
<circle cx="481.20" cy="372.43" r="2.45" fill="#8a8a8a" stroke="#4a4a4a" stroke-width="0.7"/>
<path d="M512.40 325.20V396.07" stroke="#6a6a6a" stroke-width="1.3"/>
<path d="M501.90 375.70H522.90M505.40 325.20H519.40M505.40 396.07H519.40" stroke="#3a3a3a" stroke-width="0.95"/>
<circle cx="512.40" cy="325.20" r="2.45" fill="#8a8a8a" stroke="#4a4a4a" stroke-width="0.7"/>
<circle cx="512.40" cy="375.70" r="2.45" fill="#8a8a8a" stroke="#4a4a4a" stroke-width="0.7"/>
<circle cx="512.40" cy="396.07" r="2.45" fill="#8a8a8a" stroke="#4a4a4a" stroke-width="0.7"/>
<path d="M543.80 336.36V367.21" stroke="#6a6a6a" stroke-width="1.3"/>
<path d="M533.30 359.92H554.30M536.80 336.36H550.80M536.80 367.21H550.80" stroke="#3a3a3a" stroke-width="0.95"/>
<circle cx="543.80" cy="335.68" r="2.45" fill="#8a8a8a" stroke="#4a4a4a" stroke-width="0.7"/>
<circle cx="543.80" cy="351.46" r="2.45" fill="#8a8a8a" stroke="#4a4a4a" stroke-width="0.7"/>
<circle cx="543.80" cy="359.22" r="2.45" fill="#8a8a8a" stroke="#4a4a4a" stroke-width="0.7"/>
<circle cx="543.80" cy="361.53" r="2.45" fill="#8a8a8a" stroke="#4a4a4a" stroke-width="0.7"/>
<circle cx="543.80" cy="366.93" r="2.45" fill="#8a8a8a" stroke="#4a4a4a" stroke-width="0.7"/>
<path d="M575.00 353.25V373.91" stroke="#6a6a6a" stroke-width="1.3"/>
<path d="M564.50 369.70H585.50M568.00 353.25H582.00M568.00 373.91H582.00" stroke="#3a3a3a" stroke-width="0.95"/>
<circle cx="575.00" cy="353.25" r="2.45" fill="#8a8a8a" stroke="#4a4a4a" stroke-width="0.7"/>
<circle cx="575.00" cy="369.70" r="2.45" fill="#8a8a8a" stroke="#4a4a4a" stroke-width="0.7"/>
<circle cx="575.00" cy="373.91" r="2.45" fill="#8a8a8a" stroke="#4a4a4a" stroke-width="0.7"/>
<path d="M606.10 304.21V353.04" stroke="#6a6a6a" stroke-width="1.3"/>
<path d="M595.60 317.36H616.60M599.10 304.21H613.10M599.10 353.04H613.10" stroke="#3a3a3a" stroke-width="0.95"/>
<circle cx="606.10" cy="301.40" r="2.45" fill="#8a8a8a" stroke="#4a4a4a" stroke-width="0.7"/>
<circle cx="606.10" cy="304.21" r="2.45" fill="#8a8a8a" stroke="#4a4a4a" stroke-width="0.7"/>
<circle cx="606.10" cy="307.09" r="2.45" fill="#8a8a8a" stroke="#4a4a4a" stroke-width="0.7"/>
<circle cx="606.10" cy="310.10" r="2.45" fill="#8a8a8a" stroke="#4a4a4a" stroke-width="0.7"/>
<circle cx="606.10" cy="312.98" r="2.45" fill="#8a8a8a" stroke="#4a4a4a" stroke-width="0.7"/>
<circle cx="606.10" cy="315.78" r="2.45" fill="#8a8a8a" stroke="#4a4a4a" stroke-width="0.7"/>
<circle cx="606.10" cy="318.87" r="2.45" fill="#8a8a8a" stroke="#4a4a4a" stroke-width="0.7"/>
<circle cx="606.10" cy="321.70" r="2.45" fill="#8a8a8a" stroke="#4a4a4a" stroke-width="0.7"/>
<circle cx="606.10" cy="324.99" r="2.45" fill="#8a8a8a" stroke="#4a4a4a" stroke-width="0.7"/>
<circle cx="606.10" cy="328.26" r="2.45" fill="#8a8a8a" stroke="#4a4a4a" stroke-width="0.7"/>
<circle cx="606.10" cy="331.56" r="2.45" fill="#8a8a8a" stroke="#4a4a4a" stroke-width="0.7"/>
<circle cx="606.10" cy="334.88" r="2.45" fill="#8a8a8a" stroke="#4a4a4a" stroke-width="0.7"/>
<circle cx="606.10" cy="337.68" r="2.45" fill="#8a8a8a" stroke="#4a4a4a" stroke-width="0.7"/>
<circle cx="606.10" cy="354.55" r="2.45" fill="#8a8a8a" stroke="#4a4a4a" stroke-width="0.7"/>
<circle cx="606.10" cy="358.94" r="2.45" fill="#8a8a8a" stroke="#4a4a4a" stroke-width="0.7"/>
<path d="M637.30 298.32V379.75" stroke="#6a6a6a" stroke-width="1.3"/>
<path d="M626.80 328.26H647.80M630.30 298.32H644.30M630.30 379.75H644.30" stroke="#3a3a3a" stroke-width="0.95"/>
<circle cx="637.30" cy="296.60" r="2.45" fill="#8a8a8a" stroke="#4a4a4a" stroke-width="0.7"/>
<circle cx="637.30" cy="309.71" r="2.45" fill="#8a8a8a" stroke="#4a4a4a" stroke-width="0.7"/>
<circle cx="637.30" cy="311.50" r="2.45" fill="#8a8a8a" stroke="#4a4a4a" stroke-width="0.7"/>
<circle cx="637.30" cy="317.99" r="2.45" fill="#8a8a8a" stroke="#4a4a4a" stroke-width="0.7"/>
<circle cx="637.30" cy="322.79" r="2.45" fill="#8a8a8a" stroke="#4a4a4a" stroke-width="0.7"/>
<circle cx="637.30" cy="332.67" r="2.45" fill="#8a8a8a" stroke="#4a4a4a" stroke-width="0.7"/>
<circle cx="637.30" cy="334.88" r="2.45" fill="#8a8a8a" stroke="#4a4a4a" stroke-width="0.7"/>
<circle cx="637.30" cy="342.56" r="2.45" fill="#8a8a8a" stroke="#4a4a4a" stroke-width="0.7"/>
<circle cx="637.30" cy="363.35" r="2.45" fill="#8a8a8a" stroke="#4a4a4a" stroke-width="0.7"/>
<circle cx="637.30" cy="381.95" r="2.45" fill="#8a8a8a" stroke="#4a4a4a" stroke-width="0.7"/>
<text transform="translate(363.9,349.4) rotate(-90)" text-anchor="middle" font-family="'Liberation Sans', Arial, sans-serif" font-weight="bold" font-size="12.45" fill="#111">ThT max (RFU)</text>
</svg>
</body></html>
